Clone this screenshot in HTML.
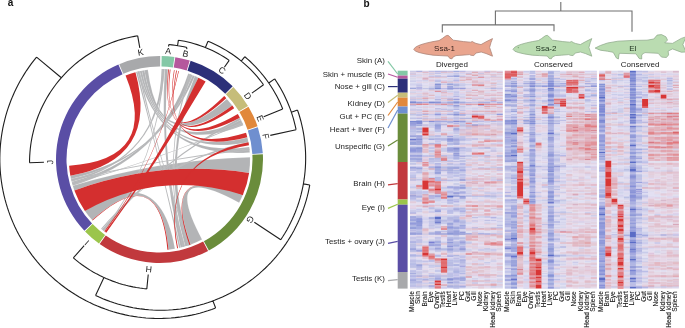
<!DOCTYPE html>
<html><head><meta charset="utf-8"><title>Figure</title>
<style>html,body{margin:0;padding:0;background:#fff;width:685px;height:328px;overflow:hidden}svg{display:block;filter:blur(0.3px)}</style>
</head><body>
<svg width="685" height="328" viewBox="0 0 685 328">
<style>
text{font-family:"Liberation Sans",Arial,Helvetica,sans-serif;fill:#333}
.lb{font-size:8.8px;text-anchor:middle;fill:#222}
.fl{font-size:8px;fill:#3a2520}
.fl2{font-size:8px;fill:#1e3320}
.cv{font-size:8px;fill:#1a1a1a}
.ll{font-size:7.9px;fill:#1e1e1e}
.xl{font-size:6.6px;fill:#1a1a1a;stroke:#1a1a1a;stroke-width:0.12px}
.pl{font-size:10px;font-weight:bold;fill:#111}
</style>
<rect width="685" height="328" fill="#fff"/>
<path d="M119.23 64.16 A103.5 103.5 0 0 1 160.22 56 L160.15 66.5 A93 93 0 0 0 123.31 73.83 Z" fill="#a8a9ab"/>
<path d="M161.67 56.02 A103.5 103.5 0 0 1 174.44 57.08 L172.93 67.47 A93 93 0 0 0 161.45 66.52 Z" fill="#84c8a6"/>
<path d="M175.33 57.22 A103.5 103.5 0 0 1 189.76 60.52 L186.69 70.56 A93 93 0 0 0 173.73 67.59 Z" fill="#b5579d"/>
<path d="M190.62 60.79 A103.5 103.5 0 0 1 232.69 86.31 L225.26 93.74 A93 93 0 0 0 187.47 70.8 Z" fill="#2c3079"/>
<path d="M233.32 86.96 A103.5 103.5 0 0 1 248.03 105.88 L239.05 111.32 A93 93 0 0 0 225.83 94.32 Z" fill="#c6bd79"/>
<path d="M248.49 106.66 A103.5 103.5 0 0 1 257.54 126.32 L247.59 129.68 A93 93 0 0 0 239.47 112.02 Z" fill="#e1883b"/>
<path d="M257.82 127.17 A103.5 103.5 0 0 1 262.82 153.36 L252.34 153.98 A93 93 0 0 0 247.85 130.45 Z" fill="#6f8fcf"/>
<path d="M262.87 154.26 A103.5 103.5 0 0 1 208.89 250.46 L203.88 241.23 A93 93 0 0 0 252.38 154.79 Z" fill="#6a8c3b"/>
<path d="M208.09 250.89 A103.5 103.5 0 0 1 99.69 243.97 L105.76 235.4 A93 93 0 0 0 203.16 241.61 Z" fill="#c1393d"/>
<path d="M98.96 243.45 A103.5 103.5 0 0 1 85.05 231.4 L92.6 224.1 A93 93 0 0 0 105.1 234.93 Z" fill="#9bc54b"/>
<path d="M84.42 230.74 A103.5 103.5 0 0 1 118.4 64.51 L122.57 74.15 A93 93 0 0 0 92.04 223.52 Z" fill="#5a4ea5"/>
<path d="M250.07 157.13 A90.6 90.6 0 0 1 249.1 172.89 Q159.5 159.5 74.36 190.49 A90.6 90.6 0 0 1 72.77 185.69 Q159.5 159.5 250.07 157.13 Z" fill="#b3b4b6" stroke="#fff" stroke-width="0.12"/>
<path d="M188.25 73.58 A90.6 90.6 0 0 1 192.71 75.2 Q159.5 159.5 72.77 185.69 A90.6 90.6 0 0 1 71.67 181.72 Q159.5 159.5 188.25 73.58 Z" fill="#b3b4b6" stroke="#fff" stroke-width="0.12"/>
<path d="M161.56 68.92 A90.6 90.6 0 0 1 164.72 69.05 Q159.5 159.5 71.67 181.72 A90.6 90.6 0 0 1 71.01 178.96 Q159.5 159.5 161.56 68.92 Z" fill="#b3b4b6" stroke="#fff" stroke-width="0.12"/>
<path d="M192.71 75.2 A90.6 90.6 0 0 1 194.9 76.1 Q159.5 159.5 71.01 178.96 A90.6 90.6 0 0 1 70.36 175.7 Q159.5 159.5 192.71 75.2 Z" fill="#b3b4b6" stroke="#fff" stroke-width="0.12"/>
<path d="M249.22 146.89 A90.6 90.6 0 0 1 249.82 152.39 Q159.5 159.5 137.58 71.59 A90.6 90.6 0 0 1 139.74 71.08 Q159.5 159.5 249.22 146.89 Z" fill="#b3b4b6" stroke="#fff" stroke-width="0.12"/>
<path d="M247.41 137.58 A90.6 90.6 0 0 1 248.44 142.21 Q159.5 159.5 139.74 71.08 A90.6 90.6 0 0 1 141.9 70.63 Q159.5 159.5 247.41 137.58 Z" fill="#b3b4b6" stroke="#fff" stroke-width="0.12"/>
<path d="M240.93 119.78 A90.6 90.6 0 0 1 243.38 125.27 Q159.5 159.5 141.9 70.63 A90.6 90.6 0 0 1 144.39 70.17 Q159.5 159.5 240.93 119.78 Z" fill="#b3b4b6" stroke="#fff" stroke-width="0.12"/>
<path d="M226.83 98.88 A90.6 90.6 0 0 1 232.33 105.61 Q159.5 159.5 144.39 70.17 A90.6 90.6 0 0 1 147.83 69.65 Q159.5 159.5 226.83 98.88 Z" fill="#b3b4b6" stroke="#fff" stroke-width="0.12"/>
<path d="M242.84 195.05 A90.6 90.6 0 0 1 239.12 202.73 Q159.5 159.5 202.03 239.5 A90.6 90.6 0 0 1 190.49 244.64 Q159.5 159.5 242.84 195.05 Z" fill="#b3b4b6" stroke="#fff" stroke-width="0.12"/>
<path d="M174.92 248.78 A90.6 90.6 0 0 1 168.5 249.65 Q159.5 159.5 92.17 220.12 A90.6 90.6 0 0 1 84.92 210.95 Q159.5 159.5 174.92 248.78 Z" fill="#b3b4b6" stroke="#fff" stroke-width="0.12"/>
<path d="M164.72 69.05 A90.6 90.6 0 0 1 167.87 69.29 Q159.5 159.5 185.23 246.37 A90.6 90.6 0 0 1 180.65 247.6 Q159.5 159.5 164.72 69.05 Z" fill="#b3b4b6" stroke="#fff" stroke-width="0.12"/>
<path d="M194.9 76.1 A90.6 90.6 0 0 1 198.36 77.66 Q159.5 159.5 190.49 244.64 A90.6 90.6 0 0 1 185.23 246.37 Q159.5 159.5 194.9 76.1 Z" fill="#b3b4b6" stroke="#fff" stroke-width="0.12"/>
<path d="M136.05 71.99 A90.6 90.6 0 0 1 137.58 71.59 Q159.5 159.5 180.65 247.6 A90.6 90.6 0 0 1 179.11 247.95 Q159.5 159.5 136.05 71.99 Z" fill="#b3b4b6" stroke="#fff" stroke-width="0.12"/>
<path d="M239.86 117.67 A90.6 90.6 0 0 1 240.93 119.78 Q159.5 159.5 103.97 231.09 A90.6 90.6 0 0 1 101.87 229.41 Q159.5 159.5 239.86 117.67 Z" fill="#b3b4b6" stroke="#fff" stroke-width="0.12"/>
<path d="M248.44 142.21 A90.6 90.6 0 0 1 248.86 144.55 Q159.5 159.5 101.87 229.41 A90.6 90.6 0 0 1 101.02 228.7 Q159.5 159.5 248.44 142.21 Z" fill="#b3b4b6" stroke="#fff" stroke-width="0.12"/>
<path d="M137.58 71.59 A90.6 90.6 0 0 1 139.12 71.22 Q159.5 159.5 189.74 244.9 A90.6 90.6 0 0 1 188.25 245.42 Q159.5 159.5 137.58 71.59 Z" fill="#b3b4b6" stroke="#fff" stroke-width="0.12"/>
<path d="M162.66 68.96 A90.6 90.6 0 0 1 164.24 69.02 Q159.5 159.5 103.72 230.89 A90.6 90.6 0 0 1 102.73 230.11 Q159.5 159.5 162.66 68.96 Z" fill="#b3b4b6" stroke="#fff" stroke-width="0.12"/>
<path d="M189.74 74.1 A90.6 90.6 0 0 1 191.23 74.64 Q159.5 159.5 184.47 246.59 A90.6 90.6 0 0 1 182.95 247.01 Q159.5 159.5 189.74 74.1 Z" fill="#b3b4b6" stroke="#fff" stroke-width="0.12"/>
<path d="M242.27 122.65 A90.6 90.6 0 0 1 242.9 124.1 Q159.5 159.5 72.41 184.47 A90.6 90.6 0 0 1 71.99 182.95 Q159.5 159.5 242.27 122.65 Z" fill="#b3b4b6" stroke="#fff" stroke-width="0.12"/>
<path d="M249.42 148.46 A90.6 90.6 0 0 1 249.6 150.03 Q159.5 159.5 71.4 180.65 A90.6 90.6 0 0 1 71.05 179.11 Q159.5 159.5 249.42 148.46 Z" fill="#b3b4b6" stroke="#fff" stroke-width="0.12"/>
<path d="M249.1 172.89 A90.6 90.6 0 0 1 242.84 195.05 Q160.46 169.07 84.92 210.95 A90.6 90.6 0 0 1 74.36 190.49 Q159.5 159.5 249.1 172.89 Z" fill="#d42f2f"/>
<path d="M70.36 175.7 A90.6 90.6 0 0 1 69.11 165.66 Q159.5 159.5 125.56 75.5 A90.6 90.6 0 0 1 135.44 72.15 Q159.5 159.5 70.36 175.7 Z" fill="#d42f2f"/>
<path d="M168.5 249.65 A90.6 90.6 0 0 1 167.4 249.76 Q159.5 159.5 92.6 220.59 A90.6 90.6 0 0 1 92.17 220.12 Q159.5 159.5 168.5 249.65 Z" fill="#d42f2f"/>
<path d="M198.36 77.66 A90.6 90.6 0 0 1 205.62 81.52 Q159.5 159.5 106.25 232.8 A90.6 90.6 0 0 1 104.98 231.86 Q159.5 159.5 198.36 77.66 Z" fill="#d42f2f"/>
<path d="M168.18 69.32 A90.6 90.6 0 0 1 168.97 69.4 Q159.5 159.5 224.23 96.11 A90.6 90.6 0 0 1 226.3 98.29 Q159.5 159.5 168.18 69.32 Z" fill="#d42f2f"/>
<path d="M169.76 69.48 A90.6 90.6 0 0 1 170.54 69.58 Q159.5 159.5 237.8 113.93 A90.6 90.6 0 0 1 239.86 117.67 Q159.5 159.5 169.76 69.48 Z" fill="#d42f2f"/>
<path d="M173.99 70.07 A90.6 90.6 0 0 1 174.61 70.17 Q159.5 159.5 246.05 132.71 A90.6 90.6 0 0 1 247.33 137.28 Q159.5 159.5 173.99 70.07 Z" fill="#d42f2f"/>
<path d="M176.17 70.45 A90.6 90.6 0 0 1 176.94 70.59 Q159.5 159.5 232.33 105.61 A90.6 90.6 0 0 1 234.17 108.18 Q159.5 159.5 176.17 70.45 Z" fill="#d42f2f"/>
<path d="M248.44 142.21 A90.6 90.6 0 0 1 248.98 145.33 Q159.5 159.5 178.03 248.19 A90.6 90.6 0 0 1 177.1 248.37 Q159.5 159.5 248.44 142.21 Z" fill="#d42f2f"/>
<path d="M178.34 70.88 A90.6 90.6 0 0 1 178.96 71.01 Q159.5 159.5 104.98 231.86 A90.6 90.6 0 0 1 104.22 231.28 Q159.5 159.5 178.34 70.88 Z" fill="#d42f2f"/>
<path d="M243.26 194.02 A90.6 90.6 0 0 1 242.84 195.05 Q159.5 159.5 190.49 244.64 A90.6 90.6 0 0 1 189.44 245.01 Q159.5 159.5 243.26 194.02 Z" fill="#d42f2f"/>
<path d="M168.75 44.57 L171.82 44.86 L174.88 45.23 L177.93 45.68 L180.97 46.22 L184 46.83 L187 47.53 M168.59 46.56 L168.75 44.57 M186.6 49.18 L187 47.53 M178.4 40.19 L181.59 40.71 L184.77 41.32 L187.93 42.02 L191.08 42.8 L194.2 43.67 L197.3 44.62 L200.37 45.65 L203.41 46.76 L206.43 47.96 L209.41 49.23 L212.36 50.59 L215.27 52.02 L218.14 53.54 L220.97 55.13 L223.75 56.79 L226.5 58.53 L229.19 60.34 M177.54 45.62 L178.4 40.19 M224.36 67.21 L229.19 60.34 M207.99 41.26 L211.13 42.58 L214.22 43.98 L217.28 45.46 L220.3 47.03 L223.28 48.67 L226.21 50.39 L229.1 52.19 L231.93 54.07 L234.72 56.02 L237.45 58.05 L240.13 60.15 L242.76 62.31 L245.32 64.55 L247.83 66.86 L250.27 69.23 L252.65 71.66 L254.96 74.16 L257.21 76.72 L259.38 79.34 L261.49 82.02 L263.53 84.75 M205.42 47.55 L207.99 41.26 M251.92 93.09 L263.53 84.75 M244.84 56.71 L247.58 59.08 L250.26 61.52 L252.87 64.04 L255.41 66.63 L257.88 69.28 L260.28 72 L262.6 74.78 L264.84 77.62 L267.01 80.53 L269.1 83.49 L271.1 86.5 L273.02 89.57 L274.86 92.69 L276.61 95.85 L278.28 99.07 L279.85 102.32 L281.34 105.62 L282.74 108.96 M241.24 61.05 L244.84 56.71 M263.68 116.77 L282.74 108.96 M274.67 78.86 L276.72 81.95 L278.68 85.11 L280.56 88.31 L282.35 91.55 L284.05 94.85 L285.67 98.18 L287.2 101.56 L288.63 104.97 L289.98 108.42 L291.23 111.9 L292.39 115.41 L293.46 118.95 L294.43 122.52 L295.31 126.11 L296.09 129.72 M268.76 83 L274.67 78.86 M270.3 135.34 L296.09 129.72 M297.52 110.08 L298.75 113.77 L299.88 117.49 L300.91 121.24 L301.84 125.01 L302.68 128.81 L303.41 132.62 L304.03 136.45 L304.56 140.3 L304.98 144.16 L305.31 148.02 L305.53 151.9 L305.64 155.78 L305.65 159.65 L305.56 163.53 L305.37 167.4 L305.08 171.26 L304.68 175.12 L304.18 178.96 L303.58 182.78 L302.88 186.59 L302.07 190.38 L301.17 194.14 L300.17 197.88 L299.07 201.59 L297.87 205.26 L296.58 208.9 L295.19 212.51 L293.7 216.08 L292.12 219.6 L290.45 223.09 L288.69 226.52 L286.83 229.91 L284.89 233.24 L282.86 236.53 L280.75 239.75 M291.36 112.29 L297.52 110.08 M254.31 222.26 L280.75 239.75 M146.81 288.88 L143.32 288.52 L139.84 288.07 L136.36 287.53 L132.91 286.89 L129.47 286.16 L126.05 285.34 L122.65 284.42 L119.28 283.41 L115.94 282.32 L112.62 281.13 L109.34 279.85 L106.09 278.48 L102.88 277.03 L99.71 275.48 L96.59 273.86 L93.5 272.15 L90.47 270.35 L87.48 268.48 L84.54 266.52 L81.66 264.48 L78.83 262.37 L76.06 260.18 L73.34 257.92 M148.23 274.45 L146.81 288.88 M84.15 245.58 L73.34 257.92 M309.77 184.92 L309.01 188.86 L308.16 192.78 L307.2 196.67 L306.14 200.54 L304.98 204.37 L303.72 208.18 L302.36 211.95 L300.9 215.68 L299.34 219.37 L297.69 223.02 L295.94 226.62 L294.1 230.17 L292.16 233.68 L290.14 237.13 L288.02 240.52 L285.82 243.86 L283.53 247.14 L281.15 250.36 L278.69 253.51 L276.15 256.59 L273.53 259.61 L270.83 262.55 L268.06 265.43 L265.21 268.23 L262.29 270.95 L259.3 273.59 L256.24 276.16 L253.12 278.64 L249.93 281.04 L246.68 283.35 L243.37 285.58 L240.01 287.71 L236.59 289.76 L233.12 291.72 L229.6 293.58 L226.03 295.35 L222.42 297.03 L218.76 298.61 L215.07 300.09 L211.34 301.48 L207.57 302.76 L203.77 303.95 L199.95 305.03 L196.09 306.02 L192.22 306.9 L188.32 307.68 L184.4 308.35 L180.47 308.93 L176.53 309.4 L172.57 309.76 L168.61 310.02 L164.64 310.18 L160.67 310.23 L156.7 310.18 L152.74 310.02 L148.78 309.76 L144.83 309.39 L140.9 308.92 L136.97 308.35 L133.07 307.68 L129.18 306.9 L125.32 306.02 L121.48 305.04 L117.67 303.95 L113.89 302.77 L110.15 301.49 L106.44 300.12 L102.77 298.64 L99.14 297.07 L95.55 295.41 M303.4 183.84 L309.77 184.92 M103.96 277.53 L95.55 295.41 M29.54 162.68 L29.58 159.26 L29.71 155.84 L29.94 152.43 L30.25 149.03 L30.65 145.65 L31.14 142.27 L31.72 138.91 L32.38 135.57 L33.14 132.26 L33.98 128.96 L34.9 125.69 L35.91 122.45 L37.01 119.24 L38.19 116.05 L39.45 112.91 L40.79 109.8 L42.21 106.72 L43.71 103.69 L45.29 100.7 L46.95 97.76 L48.69 94.86 L50.49 92.01 L52.38 89.21 L54.33 86.46 L56.35 83.77 L58.44 81.13 L60.6 78.55 L62.83 76.03 L65.12 73.57 L67.47 71.18 L69.88 68.85 L72.35 66.58 L74.88 64.38 L77.47 62.25 L80.1 60.19 L82.79 58.2 L85.53 56.28 L88.32 54.44 L91.15 52.67 L94.03 50.98 L96.94 49.37 L99.9 47.83 L102.9 46.37 L105.93 45 L108.99 43.7 L112.08 42.49 L115.21 41.36 L118.36 40.31 L121.53 39.35 L124.73 38.47 L127.94 37.68 L131.18 36.97 L134.43 36.34 L137.69 35.81 M43.93 162.32 L29.54 162.68 M139.81 47.82 L137.69 35.81 M215.63 308.05 L211.71 309.48 L207.76 310.81 L203.77 312.04 L199.76 313.16 L195.71 314.18 L191.64 315.09 L187.54 315.89 L183.43 316.58 L179.29 317.17 L175.15 317.65 L170.99 318.02 L166.82 318.28 L162.65 318.42 L158.47 318.46 L154.3 318.39 L150.13 318.22 L145.96 317.93 L141.8 317.53 L137.66 317.02 L133.52 316.4 L129.41 315.68 L125.32 314.85 L121.25 313.91 L117.2 312.86 L113.18 311.71 L109.2 310.45 L105.25 309.09 L101.33 307.62 L97.46 306.06 L93.62 304.39 L89.84 302.62 L86.1 300.75 L82.41 298.78 L78.77 296.72 L75.19 294.56 L71.66 292.31 L68.2 289.97 L64.79 287.54 L61.46 285.01 L58.19 282.4 L54.98 279.71 L51.86 276.93 L48.8 274.07 L45.82 271.13 L42.92 268.12 L40.1 265.03 L37.36 261.86 L34.7 258.63 L32.13 255.32 L29.65 251.95 L27.26 248.52 L24.95 245.02 L22.74 241.46 L20.63 237.85 L18.61 234.18 L16.68 230.46 L14.86 226.69 L13.13 222.87 L11.51 219.01 L9.98 215.1 L8.56 211.16 L7.25 207.18 L6.04 203.17 L4.93 199.13 L3.93 195.06 L3.04 190.96 L2.26 186.84 L1.58 182.71 L1.01 178.55 L0.56 174.38 L0.21 170.21 L-0.03 166.02 L-0.16 161.83 L-0.18 157.63 L-0.08 153.44 L0.12 149.25 L0.43 145.07 L0.85 140.89 L1.38 136.73 L2.02 132.58 L2.77 128.45 L3.63 124.34 L4.6 120.26 L5.67 116.2 L6.85 112.17 L8.13 108.18 L9.52 104.21 L11.01 100.29 L12.61 96.41 L14.31 92.56 L16.1 88.77 L18 85.02 L19.99 81.33 L22.09 77.68 L24.27 74.09 L26.55 70.57 L28.92 67.1 L31.39 63.69 L33.94 60.35 L36.57 57.08 M212.93 300.9 L215.63 308.05 M61.33 77.71 L36.57 57.08" fill="none" stroke="#1e1e1e" stroke-width="1.1" stroke-linejoin="miter"/>
<text x="168.24" y="54.05" transform="rotate(4.6 168.24 50.85)" class="lb">A</text>
<text x="185.5" y="56.85" transform="rotate(13.8 185.5 53.65)" class="lb">B</text>
<text x="222.18" y="73.52" transform="rotate(35.1 222.18 70.32)" class="lb">C</text>
<text x="248.02" y="99.09" transform="rotate(54.3 248.02 95.89)" class="lb">D</text>
<text x="260.35" y="121.34" transform="rotate(67.7 260.35 118.14)" class="lb">E</text>
<text x="266" y="139.48" transform="rotate(77.7 266 136.28)" class="lb">F</text>
<text x="250.39" y="222.86" transform="rotate(123.5 250.39 219.66)" class="lb">G</text>
<text x="148.72" y="272.67" transform="rotate(185.6 148.72 269.47)" class="lb">H</text>
<text x="86.65" y="245.92" transform="rotate(221.2 86.65 242.72)" class="lb">I</text>
<text x="49.93" y="165.38" transform="rotate(268.6 49.93 162.18)" class="lb">J</text>
<text x="140.57" y="55.36" transform="rotate(350 140.57 52.16)" class="lb">K</text>
<path d="M560.8 2V11M495.4 24.9V11H632V31.8M442.3 32.4V24.9H554V31.3" fill="none" stroke="#707070" stroke-width="1.1"/>
<path d="M413.7 49.3 415.5 47.2 418.5 45.6 422.0 44.3 427.0 42.9 433.0 41.6 439.0 40.6 442.2 38.6 446.0 35.8 448.0 35.3 450.0 37.0 453.2 40.2 458.0 40.8 463.5 41.6 470.5 42.2 472.4 41.5 474.0 42.6 476.0 43.4 481.0 44.6 486.0 41.8 492.5 38.6 491.0 42.5 489.6 47.4 491.0 51.5 492.5 56.2 486.0 53.5 481.2 52.0 476.0 53.0 473.8 55.6 471.0 55.3 469.5 54.6 462.0 55.2 456.0 55.6 453.2 56.9 452.0 58.8 449.8 58.4 448.0 56.0 440.0 55.6 433.0 55.2 425.0 53.9 419.0 52.5 415.5 51.2Z" fill="#e9a58e" stroke="#a98276" stroke-width="0.75" stroke-linejoin="round"/>
<path d="M513.0 49.3 514.8 47.2 517.8 45.6 521.3 44.3 526.3 42.9 532.3 41.6 538.3 40.6 541.5 38.6 545.3 35.8 547.3 35.3 549.3 37.0 552.5 40.2 557.3 40.8 562.8 41.6 569.8 42.2 571.7 41.5 573.3 42.6 575.3 43.4 580.3 44.6 585.3 41.8 591.8 38.6 590.3 42.5 588.9 47.4 590.3 51.5 591.8 56.2 585.3 53.5 580.5 52.0 575.3 53.0 573.1 55.6 570.3 55.3 568.8 54.6 561.3 55.2 555.3 55.6 552.5 56.9 551.3 58.8 549.1 58.4 547.3 56.0 539.3 55.6 532.3 55.2 524.3 53.9 518.3 52.5 514.8 51.2Z" fill="#badcb1" stroke="#8fa98b" stroke-width="0.75" stroke-linejoin="round"/>
<path d="M595.1 48.1 600.3 45.5 607.5 43.0 617.9 41.2 633.5 40.4 647.0 40.2 653.8 39.0 657.1 35.1 661.5 34.6 665.9 36.8 667.5 40.1 664.8 42.8 672.5 43.4 681.3 38.4 686.0 36.8 682.9 44.5 686.0 52.0 681.3 52.2 672.5 48.9 668.1 51.1 668.6 54.9 666.4 57.5 661.5 57.1 658.2 53.3 645.0 52.6 643.3 53.6 641.7 54.9 641.7 59.0 639.2 58.5 636.0 53.8 619.5 53.3 618.9 54.9 618.4 59.0 616.4 58.0 613.2 52.3 607.5 51.2 600.3 50.2Z" fill="#badcb1" stroke="#8fa98b" stroke-width="0.75" stroke-linejoin="round"/>
<circle cx="419.3" cy="47.6" r="0.6" fill="#a0706a"/>
<circle cx="518.3" cy="47.6" r="0.6" fill="#6f9a6c"/>
<text x="444.5" y="50.8" class="fl" text-anchor="middle">Ssa-1</text>
<text x="546" y="50.8" class="fl2" text-anchor="middle">Ssa-2</text>
<text x="632.7" y="50.8" class="fl2" text-anchor="middle">El</text>
<text x="451.9" y="67" class="cv" text-anchor="middle">Diverged</text>
<text x="553.4" y="67" class="cv" text-anchor="middle">Conserved</text>
<text x="640.1" y="67" class="cv" text-anchor="middle">Conserved</text>
<rect x="397.7" y="70.7" width="9.9" height="4.90" fill="#84c8a6"/>
<rect x="397.7" y="75.6" width="9.9" height="3.10" fill="#b5579d"/>
<rect x="397.7" y="78.7" width="9.9" height="14.00" fill="#2c3079"/>
<rect x="397.7" y="92.7" width="9.9" height="4.90" fill="#c6bd79"/>
<rect x="397.7" y="97.6" width="9.9" height="8.90" fill="#e1883b"/>
<rect x="397.7" y="106.5" width="9.9" height="7.10" fill="#6f8fcf"/>
<rect x="397.7" y="113.6" width="9.9" height="48.40" fill="#6a8c3b"/>
<rect x="397.7" y="162.0" width="9.9" height="37.50" fill="#c1393d"/>
<rect x="397.7" y="199.5" width="9.9" height="5.20" fill="#9bc54b"/>
<rect x="397.7" y="204.7" width="9.9" height="67.30" fill="#5a4ea5"/>
<rect x="397.7" y="272.0" width="9.9" height="16.60" fill="#a8a9ab"/>
<text x="384.9" y="63.4" class="ll" text-anchor="end">Skin (A)</text>
<path d="M388 61.4 L397.7 74.0" stroke="#84c8a6" stroke-width="1.2"/>
<text x="384.9" y="77.4" class="ll" text-anchor="end">Skin + muscle (B)</text>
<path d="M388 74.0 L397.7 77.2" stroke="#b5579d" stroke-width="1.2"/>
<text x="384.9" y="89.3" class="ll" text-anchor="end">Nose + gill (C)</text>
<path d="M388 86.6 L397.7 86.6" stroke="#2c3079" stroke-width="1.2"/>
<text x="384.9" y="106.0" class="ll" text-anchor="end">Kidney (D)</text>
<path d="M388 102.6 L397.7 95.2" stroke="#c6bd79" stroke-width="1.2"/>
<text x="384.9" y="119.0" class="ll" text-anchor="end">Gut + PC (E)</text>
<path d="M388 115.5 L397.7 102.0" stroke="#e1883b" stroke-width="1.2"/>
<text x="384.9" y="131.5" class="ll" text-anchor="end">Heart + liver (F)</text>
<path d="M388 128.0 L397.7 110.0" stroke="#6f8fcf" stroke-width="1.2"/>
<text x="384.9" y="148.8" class="ll" text-anchor="end">Unspecific (G)</text>
<path d="M388 146.0 L397.7 140.0" stroke="#6a8c3b" stroke-width="1.2"/>
<text x="384.9" y="185.6" class="ll" text-anchor="end">Brain (H)</text>
<path d="M388 184.8 L397.7 183.7" stroke="#c1393d" stroke-width="1.2"/>
<text x="384.9" y="209.8" class="ll" text-anchor="end">Eye (I)</text>
<path d="M388 208.4 L397.7 204.3" stroke="#9bc54b" stroke-width="1.2"/>
<text x="384.9" y="243.6" class="ll" text-anchor="end">Testis + ovary (J)</text>
<path d="M388 243.4 L397.7 241.3" stroke="#5a4ea5" stroke-width="1.2"/>
<text x="384.9" y="281.3" class="ll" text-anchor="end">Testis (K)</text>
<path d="M388 280.6 L397.7 279.6" stroke="#a8a9ab" stroke-width="1.2"/>
<g transform="translate(410.00 70.70) scale(6.1867 0.9986)"><path fill="#b4bae4" d="M0 0h1v1h-1zM0 117h1v1h-1zM0 186h1v1h-1zM0 212h1v1h-1zM1 39h1v1h-1zM1 56h1v1h-1zM1 76h1v1h-1zM1 140h1v1h-1zM1 209h1v1h-1zM2 134h1v1h-1zM3 52h1v1h-1zM3 99h1v1h-1zM3 217h1v1h-1zM4 51h1v1h-1zM4 130h1v1h-1zM5 47h1v1h-1zM5 65h1v1h-1zM5 215h1v1h-1zM6 84h1v1h-1zM6 200h1v1h-1zM7 136h1v1h-1zM7 166h1v1h-1zM8 14h1v1h-1zM8 168h1v1h-1zM8 174h1v1h-1zM8 202h1v1h-1zM8 206h1v1h-1zM9 2h1v1h-1zM9 34h1v1h-1zM9 73h1v1h-1zM10 126h1v1h-1zM11 2h1v1h-1zM11 157h1v1h-1zM12 17h1v1h-1zM12 97h1v1h-1zM13 138h1v1h-1zM14 80h1v1h-1z"/><path fill="#deccde" d="M0 1h1v1h-1zM0 23h1v1h-1zM0 118h1v1h-1zM1 3h1v1h-1zM1 24h1v1h-1zM1 46h1v1h-1zM1 165h1v1h-1zM2 4h1v1h-1zM2 11h1v1h-1zM2 97h1v1h-1zM2 144h1v1h-1zM2 161h1v1h-1zM2 168h1v1h-1zM3 22h1v1h-1zM3 41h1v1h-1zM3 103h1v1h-1zM3 166h1v1h-1zM4 7h1v1h-1zM5 3h1v1h-1zM5 15h1v1h-1zM5 22h1v2h-1zM5 36h1v1h-1zM5 75h1v1h-1zM5 100h1v1h-1zM5 162h1v1h-1zM5 185h1v2h-1zM6 8h1v1h-1zM6 83h1v1h-1zM6 183h1v1h-1zM7 49h1v1h-1zM7 214h1v1h-1zM8 7h1v1h-1zM8 21h1v1h-1zM8 45h1v1h-1zM8 74h1v1h-1zM8 86h1v1h-1zM9 22h1v1h-1zM9 29h1v1h-1zM9 39h1v1h-1zM9 48h1v1h-1zM9 81h1v1h-1zM9 101h1v1h-1zM9 136h1v1h-1zM9 143h1v2h-1zM9 177h1v1h-1zM9 189h1v1h-1zM10 2h1v1h-1zM10 15h1v1h-1zM10 29h1v1h-1zM10 41h1v1h-1zM10 53h1v1h-1zM10 67h1v1h-1zM10 188h1v1h-1zM10 198h1v1h-1zM11 9h1v1h-1zM11 17h1v1h-1zM11 19h1v1h-1zM11 25h1v1h-1zM11 29h1v1h-1zM11 35h1v1h-1zM11 132h1v1h-1zM11 148h1v1h-1zM11 151h1v1h-1zM11 168h1v1h-1zM11 192h1v1h-1zM12 15h1v2h-1zM12 19h1v1h-1zM12 22h1v2h-1zM12 25h1v1h-1zM12 59h1v1h-1zM12 142h1v1h-1zM12 145h1v1h-1zM12 166h1v2h-1zM12 169h1v1h-1zM12 197h1v1h-1zM13 11h1v1h-1zM13 15h1v1h-1zM13 22h1v1h-1zM13 45h1v1h-1zM13 71h1v1h-1zM13 76h1v1h-1zM13 79h1v1h-1zM13 94h1v1h-1zM13 103h1v1h-1zM13 156h1v1h-1zM13 159h1v1h-1zM13 168h1v1h-1zM13 176h1v1h-1zM13 193h1v1h-1zM13 199h1v1h-1zM13 201h1v1h-1zM14 11h1v1h-1zM14 62h1v1h-1zM14 92h1v1h-1zM14 113h1v1h-1zM14 142h1v1h-1zM14 177h1v1h-1zM14 179h1v1h-1zM14 181h1v1h-1zM14 185h1v1h-1zM14 188h1v1h-1zM14 195h1v1h-1zM14 206h1v1h-1z"/><path fill="#c0c0e4" d="M0 2h1v1h-1zM0 5h1v1h-1zM0 26h1v1h-1zM0 38h1v1h-1zM0 55h1v1h-1zM0 74h1v1h-1zM0 92h1v1h-1zM0 106h1v1h-1zM0 120h1v1h-1zM0 168h1v1h-1zM0 170h1v1h-1zM0 177h1v1h-1zM0 181h1v1h-1zM0 195h1v1h-1zM0 217h1v1h-1zM1 25h1v1h-1zM1 36h1v1h-1zM1 38h1v1h-1zM1 57h1v1h-1zM1 75h1v1h-1zM1 89h1v1h-1zM1 127h1v1h-1zM1 168h1v1h-1zM1 175h1v1h-1zM1 197h1v1h-1zM1 212h1v1h-1zM2 9h1v1h-1zM2 25h1v1h-1zM2 28h1v1h-1zM2 138h1v1h-1zM2 216h1v1h-1zM3 2h1v1h-1zM3 78h1v1h-1zM3 102h1v1h-1zM3 146h1v1h-1zM3 149h1v1h-1zM3 161h1v1h-1zM3 192h1v1h-1zM3 211h1v1h-1zM3 216h1v1h-1zM4 34h1v1h-1zM4 37h1v2h-1zM4 41h1v1h-1zM4 92h1v1h-1zM4 129h1v1h-1zM4 134h1v1h-1zM4 192h1v1h-1zM4 206h1v1h-1zM5 20h1v1h-1zM5 25h1v1h-1zM5 34h1v1h-1zM5 51h1v1h-1zM5 67h1v1h-1zM5 101h1v1h-1zM5 105h1v1h-1zM5 145h1v1h-1zM5 160h1v2h-1zM5 172h1v1h-1zM5 211h1v1h-1zM6 12h1v1h-1zM6 52h1v1h-1zM6 91h1v1h-1zM6 95h1v1h-1zM6 106h1v1h-1zM6 136h1v1h-1zM6 158h1v1h-1zM6 164h1v1h-1zM6 166h1v1h-1zM6 182h1v1h-1zM6 193h1v1h-1zM7 20h1v1h-1zM7 42h1v1h-1zM7 57h1v1h-1zM7 64h1v1h-1zM7 90h1v2h-1zM7 103h1v1h-1zM7 115h1v1h-1zM7 155h1v1h-1zM7 164h1v2h-1zM7 170h1v1h-1zM7 176h1v1h-1zM7 184h1v1h-1zM7 192h1v1h-1zM8 13h1v1h-1zM8 18h1v1h-1zM8 52h1v1h-1zM8 67h1v1h-1zM8 70h1v1h-1zM8 87h1v2h-1zM8 91h1v1h-1zM8 129h1v1h-1zM8 169h1v2h-1zM8 188h1v1h-1zM8 211h1v1h-1zM9 13h1v1h-1zM9 17h1v1h-1zM9 152h1v1h-1zM9 215h1v1h-1zM10 28h1v1h-1zM10 51h1v1h-1zM10 56h1v1h-1zM10 73h1v1h-1zM10 96h1v1h-1zM10 146h1v2h-1zM10 178h1v1h-1zM11 52h1v1h-1zM11 65h1v1h-1zM11 68h1v1h-1zM11 215h1v1h-1zM12 43h1v1h-1zM12 82h1v1h-1zM12 84h1v1h-1zM12 87h1v1h-1zM12 99h1v1h-1zM12 122h1v1h-1zM12 127h1v1h-1zM12 149h1v2h-1zM12 157h1v1h-1zM13 28h1v1h-1zM13 52h1v1h-1zM13 54h1v1h-1zM13 65h1v1h-1zM13 68h1v1h-1zM13 178h1v1h-1zM13 215h1v1h-1zM14 65h1v1h-1zM14 68h1v1h-1zM14 154h1v2h-1zM14 213h1v1h-1zM14 216h1v1h-1z"/><path fill="#d8b4c6" d="M0 3h1v1h-1zM2 55h1v1h-1zM2 78h1v1h-1zM2 98h1v1h-1zM2 101h1v1h-1zM2 160h1v1h-1zM2 164h1v1h-1zM2 201h1v1h-1zM2 214h1v1h-1zM4 6h1v1h-1zM4 49h1v1h-1zM4 135h1v1h-1zM5 111h1v1h-1zM6 27h1v1h-1zM6 48h1v1h-1zM8 146h1v1h-1zM8 148h1v1h-1zM9 57h1v1h-1zM9 74h1v1h-1zM9 111h1v2h-1zM9 142h1v1h-1zM9 167h1v1h-1zM9 173h1v1h-1zM9 175h1v1h-1zM9 188h1v1h-1zM9 193h1v1h-1zM9 198h1v1h-1zM10 6h1v1h-1zM10 21h1v1h-1zM10 94h1v1h-1zM10 110h1v1h-1zM10 112h1v2h-1zM10 115h1v1h-1zM10 159h1v1h-1zM10 168h1v1h-1zM10 176h1v1h-1zM10 202h1v1h-1zM11 3h1v1h-1zM11 11h1v1h-1zM11 15h1v1h-1zM11 111h1v1h-1zM11 120h1v1h-1zM11 199h1v1h-1zM12 3h1v1h-1zM12 53h1v1h-1zM12 75h1v1h-1zM12 94h1v1h-1zM12 170h1v1h-1zM13 3h1v1h-1zM13 41h1v1h-1zM13 92h1v1h-1zM13 100h1v1h-1zM13 106h1v1h-1zM13 113h1v1h-1zM13 137h1v1h-1zM13 171h1v1h-1zM13 181h1v1h-1zM14 63h1v1h-1zM14 69h1v1h-1zM14 83h1v1h-1zM14 139h1v1h-1zM14 144h1v1h-1zM14 164h1v1h-1zM14 187h1v1h-1z"/><path fill="#ccccea" d="M0 4h1v1h-1zM0 25h1v1h-1zM0 103h1v1h-1zM0 130h1v1h-1zM0 141h1v1h-1zM0 191h1v1h-1zM0 204h1v1h-1zM0 214h1v1h-1zM1 4h1v1h-1zM1 12h1v1h-1zM1 23h1v1h-1zM1 26h1v1h-1zM1 59h1v1h-1zM1 103h1v1h-1zM1 111h1v1h-1zM1 120h1v1h-1zM1 134h1v1h-1zM1 143h1v1h-1zM1 188h1v1h-1zM2 0h1v1h-1zM2 35h1v1h-1zM2 38h1v1h-1zM2 139h1v1h-1zM2 146h1v1h-1zM2 155h1v1h-1zM2 170h1v1h-1zM3 30h1v1h-1zM3 39h1v1h-1zM3 44h1v1h-1zM3 70h1v1h-1zM3 81h1v1h-1zM3 84h1v1h-1zM3 91h1v3h-1zM3 106h1v1h-1zM3 189h1v1h-1zM3 195h1v1h-1zM3 200h1v1h-1zM4 12h1v1h-1zM4 21h1v1h-1zM4 29h1v1h-1zM4 42h1v1h-1zM4 62h1v1h-1zM4 66h1v1h-1zM4 110h1v1h-1zM4 132h1v1h-1zM4 166h1v1h-1zM4 186h1v1h-1zM4 196h1v1h-1zM5 2h1v1h-1zM5 28h1v1h-1zM5 30h1v1h-1zM5 56h1v1h-1zM5 66h1v1h-1zM5 84h1v1h-1zM5 116h1v1h-1zM5 128h1v1h-1zM5 134h1v1h-1zM5 148h1v1h-1zM5 151h1v1h-1zM5 159h1v1h-1zM5 176h1v1h-1zM6 2h1v1h-1zM6 4h1v1h-1zM6 7h1v1h-1zM6 25h1v1h-1zM6 53h1v1h-1zM6 60h1v1h-1zM6 63h1v1h-1zM6 76h1v1h-1zM6 94h1v1h-1zM6 104h1v1h-1zM6 119h1v1h-1zM6 124h1v1h-1zM6 134h1v1h-1zM6 151h1v1h-1zM6 201h1v1h-1zM6 204h1v1h-1zM6 206h1v1h-1zM6 217h1v1h-1zM7 3h1v1h-1zM7 8h1v1h-1zM7 12h1v1h-1zM7 29h1v1h-1zM7 37h1v1h-1zM7 66h1v1h-1zM7 132h1v1h-1zM7 142h1v1h-1zM7 158h1v1h-1zM7 196h1v2h-1zM8 25h1v1h-1zM8 28h1v1h-1zM8 94h1v1h-1zM8 110h1v1h-1zM8 113h1v1h-1zM8 156h1v1h-1zM8 184h1v1h-1zM8 199h1v1h-1zM8 210h1v1h-1zM8 217h1v1h-1zM9 32h1v1h-1zM9 37h1v1h-1zM9 69h1v2h-1zM9 72h1v1h-1zM9 84h1v1h-1zM9 91h1v1h-1zM9 151h1v1h-1zM9 153h1v1h-1zM9 184h1v1h-1zM9 192h1v1h-1zM9 211h1v1h-1zM10 32h1v1h-1zM10 93h1v1h-1zM10 105h1v1h-1zM10 117h1v1h-1zM10 152h1v1h-1zM10 175h1v1h-1zM10 205h1v1h-1zM11 12h1v1h-1zM11 26h1v1h-1zM11 32h1v1h-1zM11 78h1v1h-1zM11 88h1v1h-1zM11 99h1v1h-1zM11 103h1v1h-1zM11 109h1v1h-1zM11 126h1v1h-1zM11 134h1v1h-1zM11 139h1v1h-1zM11 145h1v1h-1zM11 172h1v1h-1zM11 185h1v1h-1zM11 189h1v1h-1zM11 203h1v1h-1zM12 9h1v1h-1zM12 34h1v1h-1zM12 73h1v1h-1zM12 88h1v1h-1zM12 96h1v1h-1zM12 132h1v1h-1zM13 26h1v1h-1zM13 90h1v1h-1zM13 93h1v1h-1zM13 140h1v1h-1zM13 152h1v1h-1zM13 162h1v1h-1zM13 180h1v1h-1zM13 211h1v1h-1zM14 18h1v1h-1zM14 71h1v1h-1zM14 90h1v1h-1zM14 96h1v1h-1zM14 107h1v1h-1zM14 121h1v2h-1zM14 145h1v1h-1zM14 151h1v1h-1zM14 153h1v1h-1zM14 194h1v1h-1zM14 201h1v1h-1zM14 215h1v1h-1z"/><path fill="#ded2e4" d="M0 6h1v1h-1zM0 94h1v1h-1zM0 98h1v1h-1zM1 124h1v1h-1zM1 128h1v1h-1zM1 193h1v1h-1zM1 204h1v1h-1zM2 53h1v1h-1zM2 105h1v1h-1zM2 140h1v1h-1zM2 145h1v1h-1zM2 167h1v1h-1zM2 169h1v1h-1zM2 186h1v1h-1zM2 196h1v1h-1zM3 12h1v1h-1zM3 14h1v1h-1zM3 20h1v1h-1zM3 160h1v1h-1zM3 197h1v1h-1zM3 210h1v1h-1zM4 131h1v1h-1zM5 14h1v1h-1zM5 45h1v1h-1zM5 81h1v1h-1zM5 91h1v2h-1zM5 95h1v1h-1zM5 143h1v1h-1zM5 157h1v1h-1zM5 210h1v1h-1zM5 216h1v1h-1zM6 112h1v1h-1zM7 1h1v1h-1zM7 124h1v1h-1zM7 144h1v1h-1zM8 3h1v1h-1zM8 46h1v1h-1zM8 143h1v1h-1zM8 164h1v1h-1zM9 25h1v1h-1zM9 35h1v1h-1zM9 49h1v1h-1zM9 76h1v1h-1zM9 95h1v1h-1zM9 103h1v1h-1zM9 118h1v1h-1zM9 122h1v1h-1zM9 126h1v1h-1zM9 159h1v2h-1zM9 170h1v1h-1zM9 174h1v1h-1zM9 190h1v1h-1zM9 216h1v1h-1zM10 30h1v1h-1zM10 34h1v1h-1zM10 36h1v1h-1zM10 66h1v1h-1zM10 70h1v1h-1zM10 76h1v1h-1zM10 91h1v1h-1zM10 95h1v1h-1zM10 100h1v1h-1zM10 121h1v1h-1zM10 134h1v1h-1zM10 137h1v1h-1zM10 170h1v1h-1zM10 179h1v1h-1zM10 184h1v1h-1zM10 211h1v1h-1zM10 215h1v1h-1zM11 36h1v2h-1zM11 39h1v1h-1zM11 41h1v1h-1zM11 70h1v1h-1zM11 127h1v1h-1zM11 136h1v1h-1zM12 14h1v1h-1zM12 67h1v1h-1zM12 137h1v1h-1zM12 199h1v1h-1zM12 202h1v2h-1zM12 217h1v1h-1zM13 7h1v1h-1zM13 21h1v1h-1zM13 36h1v1h-1zM13 62h1v1h-1zM13 67h1v1h-1zM13 114h1v1h-1zM13 136h1v1h-1zM13 142h1v1h-1zM13 161h1v1h-1zM13 166h1v1h-1zM13 170h1v1h-1zM13 188h1v2h-1zM13 217h1v1h-1zM14 4h1v1h-1zM14 7h1v1h-1zM14 26h1v1h-1zM14 67h1v1h-1zM14 81h1v1h-1zM14 93h1v1h-1zM14 114h1v1h-1zM14 160h1v1h-1zM14 168h1v1h-1zM14 176h1v1h-1zM14 186h1v1h-1z"/><path fill="#d8d8ea" d="M0 7h1v2h-1zM0 24h1v1h-1zM0 48h1v1h-1zM0 59h1v1h-1zM0 111h1v1h-1zM1 112h1v1h-1zM1 177h1v1h-1zM2 15h1v1h-1zM2 34h1v1h-1zM2 44h1v1h-1zM2 51h1v1h-1zM2 119h1v1h-1zM3 28h1v1h-1zM3 139h1v1h-1zM3 176h1v1h-1zM4 46h1v1h-1zM4 168h1v1h-1zM5 7h1v1h-1zM5 137h1v1h-1zM6 111h1v1h-1zM7 6h1v1h-1zM7 63h1v1h-1zM7 112h1v1h-1zM7 189h1v1h-1zM8 83h1v1h-1zM8 134h1v1h-1zM9 86h1v1h-1zM9 116h1v1h-1zM9 161h1v1h-1zM9 194h1v1h-1zM10 88h1v1h-1zM10 116h1v1h-1zM10 123h1v1h-1zM10 143h1v1h-1zM11 60h1v1h-1zM12 102h1v1h-1zM12 105h1v1h-1zM12 195h1v1h-1zM12 207h1v1h-1zM13 25h1v1h-1zM13 102h1v1h-1zM13 116h1v1h-1zM14 12h1v1h-1zM14 101h1v1h-1zM14 200h1v1h-1zM14 203h1v1h-1z"/><path fill="#d2d2ea" d="M0 9h1v1h-1zM0 12h1v1h-1zM0 41h1v1h-1zM0 46h1v1h-1zM0 89h1v1h-1zM0 91h1v1h-1zM0 139h1v1h-1zM0 197h1v1h-1zM0 199h1v1h-1zM1 5h1v1h-1zM1 34h1v1h-1zM1 113h1v2h-1zM1 118h1v1h-1zM1 131h1v1h-1zM1 137h1v1h-1zM1 189h1v1h-1zM1 191h1v1h-1zM2 2h1v1h-1zM2 10h1v1h-1zM2 14h1v1h-1zM2 18h1v1h-1zM2 37h1v1h-1zM2 65h1v1h-1zM2 83h1v1h-1zM2 99h1v2h-1zM2 122h1v1h-1zM2 149h1v1h-1zM2 153h1v1h-1zM2 213h1v1h-1zM3 11h1v1h-1zM3 16h1v1h-1zM3 34h1v1h-1zM3 58h1v1h-1zM3 79h1v1h-1zM3 87h1v1h-1zM3 123h1v1h-1zM3 156h1v1h-1zM3 213h1v1h-1zM4 11h1v1h-1zM4 19h1v1h-1zM4 23h1v1h-1zM4 35h1v1h-1zM4 61h1v1h-1zM4 98h1v1h-1zM4 106h1v1h-1zM4 133h1v1h-1zM4 159h1v1h-1zM4 181h1v1h-1zM4 199h1v1h-1zM4 202h1v1h-1zM5 12h1v1h-1zM5 39h1v1h-1zM5 60h1v1h-1zM5 118h1v1h-1zM5 175h1v1h-1zM5 177h1v1h-1zM5 180h1v1h-1zM5 202h1v1h-1zM6 133h1v1h-1zM6 186h1v1h-1zM7 24h1v1h-1zM7 33h1v1h-1zM7 40h1v1h-1zM7 45h1v1h-1zM7 74h1v1h-1zM7 108h1v1h-1zM7 120h1v1h-1zM7 141h1v1h-1zM7 169h1v1h-1zM7 193h1v1h-1zM8 10h1v1h-1zM8 24h1v1h-1zM8 30h1v1h-1zM8 34h1v1h-1zM8 89h1v1h-1zM8 98h1v1h-1zM8 160h1v1h-1zM8 166h1v1h-1zM8 182h1v1h-1zM8 193h1v1h-1zM9 5h1v1h-1zM9 14h1v1h-1zM9 44h1v1h-1zM9 82h1v1h-1zM9 93h1v1h-1zM9 129h1v1h-1zM9 149h1v1h-1zM9 178h1v2h-1zM9 185h1v1h-1zM9 207h1v1h-1zM10 0h1v1h-1zM10 5h1v1h-1zM10 69h1v1h-1zM10 101h1v1h-1zM10 132h1v1h-1zM10 189h1v1h-1zM10 194h1v1h-1zM10 207h1v2h-1zM11 7h1v1h-1zM11 16h1v1h-1zM11 38h1v1h-1zM11 51h1v1h-1zM11 86h1v1h-1zM11 95h1v1h-1zM11 101h1v1h-1zM11 129h1v1h-1zM11 180h1v1h-1zM11 209h1v1h-1zM11 213h1v1h-1zM12 21h1v1h-1zM12 30h1v1h-1zM12 66h1v1h-1zM12 78h1v1h-1zM12 91h1v1h-1zM12 107h1v1h-1zM12 109h1v1h-1zM12 134h1v1h-1zM12 160h1v1h-1zM12 162h1v1h-1zM12 179h1v1h-1zM12 191h1v1h-1zM12 211h1v2h-1zM13 20h1v1h-1zM13 58h1v1h-1zM13 91h1v1h-1zM13 99h1v1h-1zM13 104h1v1h-1zM13 154h1v1h-1zM13 167h1v1h-1zM13 185h1v1h-1zM13 191h1v1h-1zM13 194h1v1h-1zM13 207h1v1h-1zM14 5h1v1h-1zM14 9h1v1h-1zM14 51h1v1h-1zM14 56h1v1h-1zM14 152h1v1h-1zM14 156h1v1h-1zM14 190h1v1h-1zM14 211h1v2h-1z"/><path fill="#babae4" d="M0 10h1v1h-1zM0 39h1v1h-1zM0 66h1v1h-1zM0 82h1v1h-1zM0 129h1v1h-1zM0 159h1v2h-1zM0 169h1v1h-1zM0 173h1v1h-1zM0 175h1v1h-1zM0 201h1v1h-1zM0 206h1v1h-1zM0 210h1v1h-1zM1 41h1v1h-1zM1 49h1v1h-1zM1 86h1v1h-1zM1 91h1v1h-1zM1 98h1v1h-1zM1 129h1v1h-1zM1 141h1v1h-1zM1 160h1v1h-1zM1 172h1v1h-1zM1 192h1v1h-1zM1 199h1v1h-1zM1 210h1v1h-1zM2 148h1v1h-1zM2 151h1v1h-1zM2 157h1v1h-1zM2 191h1v1h-1zM2 208h1v1h-1zM3 43h1v1h-1zM3 47h1v1h-1zM3 51h1v1h-1zM3 60h1v1h-1zM3 62h1v1h-1zM3 138h1v1h-1zM3 150h1v1h-1zM3 170h1v1h-1zM4 18h1v1h-1zM4 26h1v1h-1zM4 67h1v1h-1zM4 72h1v1h-1zM4 154h1v1h-1zM4 176h1v2h-1zM5 5h1v1h-1zM5 13h1v1h-1zM5 31h1v2h-1zM5 104h1v1h-1zM5 146h1v1h-1zM5 171h1v1h-1zM6 35h1v1h-1zM6 47h1v1h-1zM6 199h1v1h-1zM7 2h1v1h-1zM7 10h1v1h-1zM7 46h1v1h-1zM7 48h1v1h-1zM7 51h1v1h-1zM7 128h1v1h-1zM7 137h1v1h-1zM7 212h1v1h-1zM7 216h1v1h-1zM8 62h1v1h-1zM8 79h1v1h-1zM8 82h1v1h-1zM8 102h1v1h-1zM8 118h1v1h-1zM8 149h1v1h-1zM8 201h1v1h-1zM8 212h1v1h-1zM9 43h1v1h-1zM9 99h1v1h-1zM9 139h1v1h-1zM9 180h1v1h-1zM10 77h1v1h-1zM10 109h1v1h-1zM10 161h1v1h-1zM11 73h1v1h-1zM12 32h1v1h-1zM12 50h1v1h-1zM12 121h1v1h-1zM12 123h1v1h-1zM13 5h1v1h-1zM13 43h1v1h-1zM13 78h1v1h-1zM13 122h1v1h-1zM13 190h1v1h-1zM14 32h1v1h-1zM14 52h1v1h-1zM14 58h1v1h-1zM14 148h1v1h-1zM14 150h1v1h-1zM14 161h1v1h-1zM14 208h1v1h-1z"/><path fill="#d8d8f0" d="M0 11h1v1h-1zM0 14h1v2h-1zM0 18h1v1h-1zM0 35h1v2h-1zM0 45h1v1h-1zM0 100h1v1h-1zM0 113h1v1h-1zM0 115h1v1h-1zM0 183h1v1h-1zM1 30h1v1h-1zM1 48h1v1h-1zM1 94h1v1h-1zM1 136h1v1h-1zM1 200h1v1h-1zM2 12h1v1h-1zM2 84h1v1h-1zM2 96h1v1h-1zM2 120h1v1h-1zM2 143h1v1h-1zM2 217h1v1h-1zM3 4h1v1h-1zM3 7h1v1h-1zM3 59h1v1h-1zM3 89h1v1h-1zM3 133h1v1h-1zM3 159h1v1h-1zM3 167h1v1h-1zM4 8h1v1h-1zM4 24h1v1h-1zM4 53h1v1h-1zM4 91h1v1h-1zM4 201h1v1h-1zM5 102h1v1h-1zM5 131h1v2h-1zM5 170h1v1h-1zM5 184h1v1h-1zM6 36h1v2h-1zM6 61h1v1h-1zM6 74h1v2h-1zM6 139h1v1h-1zM6 144h1v1h-1zM6 210h1v1h-1zM7 89h1v1h-1zM7 111h1v1h-1zM7 143h1v1h-1zM8 4h1v1h-1zM8 20h1v1h-1zM8 120h1v1h-1zM8 131h1v1h-1zM9 26h1v1h-1zM9 38h1v1h-1zM9 155h1v1h-1zM9 162h1v1h-1zM9 217h1v1h-1zM10 8h1v1h-1zM10 38h1v2h-1zM10 127h1v2h-1zM10 153h1v1h-1zM10 171h1v1h-1zM10 180h1v1h-1zM11 18h1v1h-1zM11 56h1v1h-1zM11 80h1v1h-1zM11 142h1v1h-1zM11 160h1v1h-1zM11 165h1v1h-1zM12 52h1v1h-1zM12 104h1v1h-1zM12 176h1v1h-1zM13 2h1v1h-1zM13 10h1v1h-1zM13 18h1v1h-1zM13 129h1v1h-1zM13 139h1v1h-1zM14 0h1v1h-1zM14 35h1v1h-1zM14 66h1v1h-1z"/><path fill="#c6c6ea" d="M0 13h1v1h-1zM0 61h1v1h-1zM0 63h1v1h-1zM0 86h1v1h-1zM0 138h1v1h-1zM0 145h1v1h-1zM0 164h1v1h-1zM0 188h1v1h-1zM1 9h1v1h-1zM1 13h1v1h-1zM1 74h1v1h-1zM1 93h1v1h-1zM1 138h1v2h-1zM1 207h1v1h-1zM2 73h1v1h-1zM2 90h1v1h-1zM2 172h1v1h-1zM2 174h1v1h-1zM2 202h1v1h-1zM3 15h1v1h-1zM3 76h1v1h-1zM3 104h1v1h-1zM3 134h1v1h-1zM3 140h1v1h-1zM3 152h1v2h-1zM3 180h1v1h-1zM4 25h1v1h-1zM4 39h1v1h-1zM4 45h1v1h-1zM4 70h1v2h-1zM4 198h1v1h-1zM5 9h1v1h-1zM5 43h1v2h-1zM5 52h1v1h-1zM5 70h1v1h-1zM5 77h1v1h-1zM5 79h1v1h-1zM5 93h1v1h-1zM5 120h1v1h-1zM5 129h1v1h-1zM5 153h1v1h-1zM5 166h1v1h-1zM6 26h1v1h-1zM6 30h1v1h-1zM6 41h1v1h-1zM6 86h1v2h-1zM6 110h1v1h-1zM6 115h1v1h-1zM6 118h1v1h-1zM6 131h1v1h-1zM6 165h1v1h-1zM7 7h1v1h-1zM7 21h1v2h-1zM7 26h1v1h-1zM7 86h1v1h-1zM7 107h1v1h-1zM7 195h1v1h-1zM7 203h1v2h-1zM8 12h1v1h-1zM8 15h1v1h-1zM8 37h1v1h-1zM8 41h1v1h-1zM8 65h1v1h-1zM8 72h1v1h-1zM8 103h1v1h-1zM8 106h1v1h-1zM8 141h1v1h-1zM8 144h1v2h-1zM8 153h1v1h-1zM8 159h1v1h-1zM8 181h1v1h-1zM8 187h1v1h-1zM8 197h1v1h-1zM9 0h1v1h-1zM9 20h1v1h-1zM9 51h1v1h-1zM9 77h1v1h-1zM9 79h1v1h-1zM9 157h1v1h-1zM10 37h1v1h-1zM10 90h1v1h-1zM10 107h1v1h-1zM10 120h1v1h-1zM10 209h1v1h-1zM11 5h1v1h-1zM11 58h1v1h-1zM11 118h1v1h-1zM11 130h1v1h-1zM11 162h1v1h-1zM11 178h1v1h-1zM11 190h1v1h-1zM11 207h1v1h-1zM11 211h1v1h-1zM12 41h1v1h-1zM12 51h1v1h-1zM12 65h1v1h-1zM12 80h1v1h-1zM12 116h1v1h-1zM12 126h1v1h-1zM12 215h1v1h-1zM13 13h1v1h-1zM13 77h1v1h-1zM13 85h1v1h-1zM13 97h1v1h-1zM13 121h1v1h-1zM13 149h1v2h-1zM13 212h1v1h-1zM14 78h1v1h-1zM14 88h1v1h-1zM14 116h1v1h-1z"/><path fill="#ded8f0" d="M0 16h1v1h-1zM0 75h1v1h-1zM0 95h1v1h-1zM0 136h1v1h-1zM1 2h1v1h-1zM1 8h1v1h-1zM1 37h1v1h-1zM1 95h1v1h-1zM1 187h1v1h-1zM2 5h1v1h-1zM2 13h1v1h-1zM2 30h1v1h-1zM2 32h1v1h-1zM2 41h1v1h-1zM2 125h1v1h-1zM2 137h1v1h-1zM3 25h1v1h-1zM3 29h1v1h-1zM3 37h1v1h-1zM3 95h1v1h-1zM3 191h1v1h-1zM4 27h1v1h-1zM4 36h1v1h-1zM4 108h1v1h-1zM5 4h1v1h-1zM5 8h1v1h-1zM5 58h1v1h-1zM5 82h1v1h-1zM5 114h1v1h-1zM5 142h1v1h-1zM5 169h1v1h-1zM6 143h1v1h-1zM7 39h1v1h-1zM7 210h1v1h-1zM9 15h1v1h-1zM9 60h1v1h-1zM9 71h1v1h-1zM9 97h1v1h-1zM9 127h1v1h-1zM9 140h1v1h-1zM9 154h1v1h-1zM10 58h1v1h-1zM10 84h1v1h-1zM10 97h1v1h-1zM10 104h1v1h-1zM10 192h1v1h-1zM11 112h1v1h-1zM11 147h1v1h-1zM11 152h1v1h-1zM11 175h1v1h-1zM11 184h1v1h-1zM11 212h1v1h-1zM12 5h1v1h-1zM12 44h1v2h-1zM12 62h1v1h-1zM12 83h1v1h-1zM12 93h1v1h-1zM12 128h1v1h-1zM12 147h1v1h-1zM12 151h1v1h-1zM12 161h1v1h-1zM13 72h1v1h-1zM13 88h1v1h-1zM13 119h1v1h-1zM13 128h1v1h-1zM13 134h1v1h-1zM13 151h1v1h-1zM13 175h1v1h-1zM13 205h1v1h-1zM13 208h1v2h-1zM14 14h1v1h-1zM14 30h1v1h-1zM14 95h1v1h-1zM14 102h1v1h-1zM14 117h1v1h-1zM14 140h1v1h-1zM14 146h1v1h-1zM14 207h1v1h-1z"/><path fill="#8490d2" d="M0 17h1v1h-1zM0 51h1v1h-1zM0 90h1v1h-1zM0 150h1v1h-1zM3 88h1v1h-1zM6 31h1v1h-1zM6 159h1v1h-1zM6 162h1v1h-1zM6 190h1v1h-1zM7 68h1v1h-1zM7 99h1v1h-1zM7 174h1v1h-1zM7 185h1v1h-1zM7 215h1v1h-1zM8 126h1v1h-1zM8 172h1v1h-1z"/><path fill="#dec6d8" d="M0 19h1v1h-1zM0 22h1v1h-1zM0 40h1v1h-1zM1 1h1v1h-1zM1 6h1v1h-1zM1 22h1v1h-1zM1 29h1v1h-1zM1 40h1v1h-1zM1 116h1v1h-1zM1 214h1v1h-1zM2 3h1v1h-1zM2 24h1v1h-1zM2 39h1v1h-1zM2 72h1v1h-1zM2 77h1v1h-1zM2 80h1v1h-1zM2 142h1v1h-1zM2 199h1v1h-1zM3 1h1v1h-1zM3 9h1v2h-1zM3 26h1v1h-1zM3 36h1v1h-1zM3 42h1v1h-1zM3 63h1v1h-1zM3 75h1v1h-1zM3 128h1v1h-1zM3 142h1v1h-1zM3 158h1v1h-1zM3 214h1v1h-1zM4 164h1v1h-1zM4 197h1v1h-1zM5 72h1v1h-1zM5 76h1v1h-1zM5 83h1v1h-1zM5 115h1v1h-1zM5 141h1v1h-1zM5 144h1v1h-1zM5 164h1v1h-1zM5 182h1v1h-1zM6 23h1v1h-1zM6 59h1v1h-1zM6 92h1v1h-1zM6 214h1v1h-1zM7 54h1v1h-1zM7 183h1v1h-1zM8 11h1v1h-1zM8 40h1v1h-1zM8 49h1v1h-1zM8 76h1v1h-1zM8 111h1v2h-1zM9 67h1v1h-1zM9 100h1v1h-1zM9 102h1v1h-1zM9 106h1v1h-1zM9 114h1v1h-1zM9 130h1v1h-1zM9 146h1v1h-1zM9 148h1v1h-1zM9 176h1v1h-1zM9 182h1v1h-1zM9 197h1v1h-1zM10 3h1v1h-1zM10 22h1v1h-1zM10 42h1v1h-1zM10 60h1v1h-1zM10 72h1v1h-1zM10 114h1v1h-1zM10 122h1v1h-1zM10 136h1v1h-1zM10 149h1v1h-1zM10 151h1v1h-1zM10 167h1v1h-1zM10 177h1v1h-1zM10 187h1v1h-1zM10 190h1v1h-1zM10 213h1v1h-1zM11 4h1v1h-1zM11 10h1v1h-1zM11 30h1v1h-1zM11 62h1v1h-1zM11 67h1v1h-1zM11 72h1v1h-1zM11 76h1v1h-1zM11 84h1v1h-1zM11 91h1v1h-1zM11 169h1v1h-1zM11 177h1v1h-1zM11 181h1v1h-1zM11 202h1v1h-1zM11 216h1v1h-1zM12 2h1v1h-1zM12 11h1v1h-1zM12 46h1v1h-1zM12 71h1v1h-1zM12 114h1v2h-1zM12 153h1v1h-1zM12 175h1v1h-1zM12 177h1v1h-1zM12 181h1v1h-1zM12 184h1v2h-1zM12 189h1v1h-1zM12 200h1v1h-1zM13 8h1v1h-1zM13 37h1v1h-1zM13 48h1v1h-1zM13 81h1v1h-1zM13 101h1v1h-1zM13 105h1v1h-1zM13 108h1v1h-1zM13 124h1v1h-1zM13 130h1v1h-1zM13 153h1v1h-1zM13 187h1v1h-1zM14 8h1v1h-1zM14 39h1v1h-1zM14 60h1v1h-1zM14 86h1v2h-1zM14 100h1v1h-1zM14 120h1v1h-1zM14 133h1v1h-1zM14 167h1v1h-1zM14 175h1v1h-1zM14 197h1v2h-1z"/><path fill="#d8d2ea" d="M0 20h1v1h-1zM0 119h1v1h-1zM0 198h1v1h-1zM1 7h1v1h-1zM1 21h1v1h-1zM1 35h1v1h-1zM1 45h1v1h-1zM1 55h1v1h-1zM1 64h1v1h-1zM1 104h1v1h-1zM1 176h1v1h-1zM2 20h1v1h-1zM2 197h1v1h-1zM3 23h1v1h-1zM3 38h1v1h-1zM3 55h1v1h-1zM3 69h1v1h-1zM3 136h1v1h-1zM4 22h1v1h-1zM4 124h1v1h-1zM4 160h1v1h-1zM4 165h1v1h-1zM5 26h1v1h-1zM5 35h1v1h-1zM5 37h1v1h-1zM5 61h1v2h-1zM5 140h1v1h-1zM5 174h1v1h-1zM6 9h1v1h-1zM6 42h1v1h-1zM6 58h1v1h-1zM6 72h1v1h-1zM6 98h1v1h-1zM6 114h1v1h-1zM6 196h1v1h-1zM7 19h1v1h-1zM7 94h1v1h-1zM7 106h1v1h-1zM7 114h1v1h-1zM7 133h1v1h-1zM7 181h1v1h-1zM7 186h1v1h-1zM8 29h1v1h-1zM8 38h1v1h-1zM8 71h1v1h-1zM8 133h1v1h-1zM8 165h1v1h-1zM9 90h1v1h-1zM9 104h1v2h-1zM9 213h1v1h-1zM10 119h1v1h-1zM10 148h1v1h-1zM10 154h1v1h-1zM11 0h1v1h-1zM11 28h1v1h-1zM11 69h1v1h-1zM11 90h1v1h-1zM11 123h1v1h-1zM11 128h1v1h-1zM11 150h1v1h-1zM11 154h1v1h-1zM11 171h1v1h-1zM11 191h1v1h-1zM12 39h1v1h-1zM12 95h1v1h-1zM12 138h1v1h-1zM13 51h1v1h-1zM13 56h1v1h-1zM13 148h1v1h-1zM13 160h1v1h-1zM13 200h1v1h-1zM13 203h1v1h-1zM14 2h1v1h-1zM14 23h1v1h-1zM14 44h1v1h-1zM14 77h1v1h-1zM14 127h1v1h-1z"/><path fill="#c6c6e4" d="M0 21h1v1h-1zM0 44h1v1h-1zM1 15h1v1h-1zM1 167h1v1h-1zM1 202h1v1h-1zM1 217h1v1h-1zM3 82h1v1h-1zM3 101h1v1h-1zM3 179h1v1h-1zM3 182h1v1h-1zM4 4h1v1h-1zM4 143h1v1h-1zM4 155h1v1h-1zM4 203h1v1h-1zM5 119h1v1h-1zM6 14h1v1h-1zM6 44h1v1h-1zM6 62h1v1h-1zM6 100h1v1h-1zM6 128h1v1h-1zM7 110h1v1h-1zM7 126h1v1h-1zM8 35h1v2h-1zM8 119h1v1h-1zM8 158h1v1h-1zM9 209h1v1h-1zM10 78h1v1h-1zM10 99h1v1h-1zM11 121h1v1h-1zM14 13h1v1h-1zM14 72h1v1h-1zM14 178h1v1h-1z"/><path fill="#dec0d2" d="M0 27h1v1h-1zM0 57h1v1h-1zM0 124h1v1h-1zM0 132h1v1h-1zM0 135h1v1h-1zM0 143h1v1h-1zM2 6h1v1h-1zM2 26h1v1h-1zM2 36h1v1h-1zM2 66h1v1h-1zM2 86h1v1h-1zM2 91h1v1h-1zM2 204h1v1h-1zM3 48h1v1h-1zM3 61h1v1h-1zM3 86h1v1h-1zM3 94h1v1h-1zM3 116h1v1h-1zM3 124h1v1h-1zM3 202h1v1h-1zM3 206h1v1h-1zM4 77h1v1h-1zM5 19h1v1h-1zM5 24h1v1h-1zM5 29h1v1h-1zM5 42h1v1h-1zM5 49h1v1h-1zM5 181h1v1h-1zM5 204h1v1h-1zM5 206h1v1h-1zM6 22h1v1h-1zM6 54h1v1h-1zM7 135h1v1h-1zM8 1h1v1h-1zM8 19h1v1h-1zM8 55h1v1h-1zM8 75h1v1h-1zM8 108h1v1h-1zM8 183h1v1h-1zM9 7h1v1h-1zM9 11h1v1h-1zM9 53h1v1h-1zM9 110h1v1h-1zM9 150h1v1h-1zM9 181h1v1h-1zM9 187h1v1h-1zM9 200h1v1h-1zM9 212h1v1h-1zM10 7h1v1h-1zM10 9h1v1h-1zM10 81h1v1h-1zM10 156h1v1h-1zM10 174h1v1h-1zM11 22h1v1h-1zM11 49h1v1h-1zM11 114h1v1h-1zM11 119h1v1h-1zM11 133h1v1h-1zM11 141h1v1h-1zM11 167h1v1h-1zM11 170h1v1h-1zM12 12h1v1h-1zM12 81h1v1h-1zM12 120h1v1h-1zM12 124h1v1h-1zM12 129h1v1h-1zM12 136h1v1h-1zM12 154h1v1h-1zM12 156h1v1h-1zM12 164h1v1h-1zM12 168h1v1h-1zM13 1h1v1h-1zM13 16h1v1h-1zM13 23h1v1h-1zM13 34h1v1h-1zM13 46h1v1h-1zM13 66h1v1h-1zM13 83h1v1h-1zM13 141h1v1h-1zM13 169h1v1h-1zM13 196h1v1h-1zM14 21h1v2h-1zM14 40h1v2h-1zM14 46h1v1h-1zM14 53h1v1h-1zM14 82h1v1h-1zM14 110h1v1h-1zM14 132h1v1h-1zM14 143h1v1h-1zM14 162h1v1h-1zM14 170h1v1h-1zM14 204h1v1h-1z"/><path fill="#a8aede" d="M0 28h1v1h-1zM0 32h1v1h-1zM0 62h1v1h-1zM0 72h1v1h-1zM0 76h1v1h-1zM0 84h1v1h-1zM0 93h1v1h-1zM0 156h1v1h-1zM0 193h1v1h-1zM0 202h1v2h-1zM1 62h1v1h-1zM1 184h1v1h-1zM2 123h1v1h-1zM2 194h1v1h-1zM3 18h1v1h-1zM3 65h1v1h-1zM3 151h1v1h-1zM3 155h1v1h-1zM3 194h1v1h-1zM4 10h1v1h-1zM4 127h1v1h-1zM4 141h1v1h-1zM4 157h1v1h-1zM4 172h1v1h-1zM4 180h1v1h-1zM5 117h1v1h-1zM5 152h1v1h-1zM5 179h1v1h-1zM6 34h1v1h-1zM6 123h1v1h-1zM6 127h1v1h-1zM6 181h1v1h-1zM6 198h1v1h-1zM6 207h1v1h-1zM7 4h1v1h-1zM7 30h1v1h-1zM7 81h1v1h-1zM7 100h1v1h-1zM7 118h1v1h-1zM7 147h1v1h-1zM7 153h1v1h-1zM8 51h1v1h-1zM8 56h1v1h-1zM8 114h1v2h-1zM8 142h1v1h-1zM8 198h1v1h-1zM8 205h1v1h-1zM9 56h1v1h-1zM9 65h1v1h-1zM9 80h1v1h-1zM11 194h1v1h-1zM12 178h1v1h-1zM12 192h1v1h-1zM13 157h1v1h-1zM14 54h1v1h-1z"/><path fill="#decce4" d="M0 29h1v1h-1zM0 110h1v1h-1zM0 112h1v1h-1zM0 182h1v1h-1zM1 11h1v1h-1zM1 42h1v1h-1zM1 144h1v1h-1zM1 186h1v1h-1zM2 21h1v1h-1zM2 46h1v1h-1zM2 71h1v1h-1zM3 117h1v1h-1zM3 144h1v1h-1zM3 165h1v1h-1zM3 193h1v1h-1zM4 1h1v1h-1zM5 110h1v1h-1zM5 112h1v1h-1zM5 167h1v1h-1zM5 187h1v1h-1zM6 24h1v1h-1zM7 98h1v1h-1zM8 8h1v1h-1zM8 22h1v1h-1zM8 136h1v1h-1zM9 1h1v1h-1zM9 18h1v1h-1zM9 41h1v1h-1zM9 120h1v1h-1zM9 128h1v1h-1zM9 156h1v1h-1zM10 71h1v1h-1zM10 87h1v1h-1zM10 129h1v1h-1zM10 185h1v1h-1zM11 8h1v1h-1zM11 42h1v1h-1zM11 79h1v1h-1zM11 87h1v1h-1zM11 92h1v1h-1zM11 100h1v1h-1zM11 143h1v1h-1zM11 153h1v1h-1zM11 205h1v2h-1zM12 20h1v1h-1zM12 60h1v1h-1zM12 72h1v1h-1zM13 84h1v1h-1zM13 118h1v1h-1zM13 120h1v1h-1zM13 186h1v1h-1zM14 19h1v1h-1zM14 104h1v1h-1zM14 119h1v1h-1zM14 134h1v1h-1z"/><path fill="#a2a8de" d="M0 30h1v1h-1zM0 96h1v1h-1zM0 105h1v1h-1zM0 158h1v1h-1zM0 179h1v1h-1zM0 185h1v1h-1zM0 192h1v1h-1zM0 213h1v1h-1zM1 32h1v1h-1zM1 84h1v1h-1zM1 121h1v1h-1zM1 123h1v1h-1zM1 147h1v1h-1zM1 159h1v1h-1zM1 162h1v1h-1zM1 171h1v1h-1zM1 185h1v1h-1zM1 190h1v1h-1zM1 195h1v1h-1zM2 68h1v1h-1zM3 32h1v1h-1zM3 54h1v1h-1zM3 175h1v1h-1zM3 209h1v1h-1zM3 212h1v1h-1zM4 2h1v1h-1zM4 55h1v1h-1zM4 73h1v1h-1zM4 153h1v1h-1zM4 173h1v3h-1zM4 195h1v1h-1zM4 200h1v1h-1zM5 0h1v1h-1zM5 69h1v1h-1zM5 96h1v1h-1zM6 15h1v2h-1zM6 56h1v1h-1zM6 65h1v2h-1zM6 71h1v1h-1zM6 102h1v1h-1zM6 138h1v1h-1zM6 160h1v1h-1zM7 13h1v1h-1zM7 67h1v1h-1zM7 93h1v1h-1zM7 109h1v1h-1zM7 129h1v1h-1zM7 171h1v1h-1zM7 173h1v1h-1zM7 213h1v1h-1zM8 58h1v1h-1zM8 66h1v1h-1zM8 80h1v1h-1zM8 107h1v1h-1zM8 123h1v1h-1zM8 150h1v1h-1zM8 200h1v1h-1zM9 31h1v1h-1zM9 54h1v1h-1zM10 125h1v1h-1zM10 163h1v1h-1zM12 146h1v1h-1zM13 80h1v1h-1zM13 163h1v1h-1zM14 125h1v1h-1z"/><path fill="#5a6cc6" d="M0 31h1v1h-1zM0 50h1v1h-1zM0 65h1v1h-1zM0 71h1v1h-1zM0 73h1v1h-1zM0 78h1v1h-1zM0 88h1v1h-1zM0 125h1v1h-1zM0 157h1v1h-1zM0 163h1v1h-1zM1 50h1v1h-1zM1 54h1v1h-1zM1 68h1v1h-1zM1 73h1v1h-1zM1 77h1v1h-1zM1 88h1v1h-1zM1 97h1v1h-1zM1 155h1v1h-1zM1 157h1v1h-1zM3 31h1v1h-1zM4 13h1v1h-1zM4 17h1v1h-1zM4 31h1v1h-1zM4 54h1v1h-1zM4 97h1v1h-1zM4 99h1v1h-1zM4 146h1v3h-1zM4 150h1v1h-1zM4 178h1v1h-1zM6 97h1v1h-1zM6 125h1v2h-1zM6 163h1v1h-1zM6 172h1v1h-1zM7 31h1v1h-1zM7 43h1v1h-1zM7 77h1v1h-1zM7 97h1v1h-1zM7 125h1v1h-1zM7 157h1v1h-1zM7 163h1v1h-1zM8 109h1v1h-1zM8 125h1v1h-1zM8 163h1v1h-1z"/><path fill="#d88490" d="M0 33h1v1h-1zM2 103h1v1h-1zM2 124h1v1h-1zM3 115h1v1h-1zM4 191h1v1h-1zM5 74h1v1h-1zM9 27h1v1h-1zM10 14h1v1h-1zM10 55h1v1h-1zM10 82h1v1h-1zM12 64h1v1h-1zM12 135h1v1h-1zM13 158h1v1h-1zM14 70h1v1h-1zM14 171h1v1h-1zM14 183h1v1h-1z"/><path fill="#aeaede" d="M0 34h1v1h-1zM0 64h1v1h-1zM0 70h1v1h-1zM0 83h1v1h-1zM0 140h1v1h-1zM0 154h1v1h-1zM0 161h1v1h-1zM0 167h1v1h-1zM1 44h1v1h-1zM1 82h1v1h-1zM1 166h1v1h-1zM1 170h1v1h-1zM1 174h1v1h-1zM1 201h1v1h-1zM1 213h1v1h-1zM2 47h1v1h-1zM3 0h1v1h-1zM3 148h1v1h-1zM3 154h1v1h-1zM3 157h1v1h-1zM4 5h1v1h-1zM4 30h1v1h-1zM4 126h1v1h-1zM4 138h1v1h-1zM4 169h1v1h-1zM4 179h1v1h-1zM5 38h1v1h-1zM6 0h1v1h-1zM6 103h1v1h-1zM6 146h1v1h-1zM6 195h1v1h-1zM7 47h1v1h-1zM7 59h1v1h-1zM7 76h1v1h-1zM8 5h1v1h-1zM8 32h1v1h-1zM8 73h1v1h-1zM8 96h1v1h-1zM8 191h1v1h-1zM9 62h1v1h-1zM9 68h1v1h-1zM9 78h1v1h-1zM9 123h1v1h-1zM10 85h1v1h-1zM10 212h1v1h-1zM11 85h1v1h-1zM12 209h1v1h-1zM13 126h1v1h-1zM14 163h1v1h-1z"/><path fill="#d2ccea" d="M0 37h1v1h-1zM0 101h1v1h-1zM0 134h1v1h-1zM0 187h1v1h-1zM0 216h1v1h-1zM1 10h1v1h-1zM1 20h1v1h-1zM1 164h1v1h-1zM2 70h1v1h-1zM2 88h1v1h-1zM2 150h1v1h-1zM2 152h1v1h-1zM2 192h1v1h-1zM3 13h1v1h-1zM3 21h1v1h-1zM3 35h1v1h-1zM3 45h1v1h-1zM4 142h1v1h-1zM5 107h1v1h-1zM5 130h1v1h-1zM5 139h1v1h-1zM5 155h1v1h-1zM6 3h1v1h-1zM6 21h1v1h-1zM6 46h1v1h-1zM6 187h1v1h-1zM8 92h1v1h-1zM8 132h1v1h-1zM9 87h1v1h-1zM10 26h1v1h-1zM10 65h1v1h-1zM10 80h1v1h-1zM10 160h1v1h-1zM11 149h1v1h-1zM11 161h1v1h-1zM11 176h1v1h-1zM12 38h1v1h-1zM12 208h1v1h-1zM13 38h1v1h-1zM14 10h1v1h-1zM14 34h1v1h-1z"/><path fill="#d8bac6" d="M0 42h1v1h-1zM3 122h1v1h-1zM10 86h1v1h-1zM13 0h1v1h-1zM13 69h1v1h-1zM14 29h1v1h-1zM14 91h1v1h-1zM14 128h1v1h-1z"/><path fill="#aeb4de" d="M0 43h1v1h-1zM0 47h1v1h-1zM0 122h1v1h-1zM0 151h1v1h-1zM0 172h1v1h-1zM1 53h1v1h-1zM1 60h1v2h-1zM1 83h1v1h-1zM1 107h1v1h-1zM1 130h1v1h-1zM1 203h1v1h-1zM2 17h1v1h-1zM3 66h1v1h-1zM4 47h1v1h-1zM4 170h1v1h-1zM5 78h1v1h-1zM5 80h1v1h-1zM5 90h1v1h-1zM5 149h1v1h-1zM5 208h1v1h-1zM6 88h1v1h-1zM6 107h1v1h-1zM6 173h1v1h-1zM6 197h1v1h-1zM6 213h1v1h-1zM7 36h1v1h-1zM7 56h1v1h-1zM7 65h1v1h-1zM7 101h1v1h-1zM7 113h1v1h-1zM7 121h1v1h-1zM7 134h1v1h-1zM7 199h1v1h-1zM8 101h1v1h-1zM8 137h1v1h-1zM9 117h1v1h-1zM12 90h1v1h-1zM13 96h1v1h-1zM14 138h1v1h-1zM14 205h1v1h-1z"/><path fill="#ded8ea" d="M0 49h1v1h-1zM0 133h1v1h-1zM0 144h1v1h-1zM1 63h1v1h-1zM1 100h1v1h-1zM1 106h1v1h-1zM1 108h1v1h-1zM1 133h1v1h-1zM1 142h1v1h-1zM2 16h1v1h-1zM2 19h1v1h-1zM2 52h1v1h-1zM2 69h1v1h-1zM2 156h1v1h-1zM2 165h1v1h-1zM2 188h1v1h-1zM2 203h1v1h-1zM3 57h1v1h-1zM3 71h1v2h-1zM3 100h1v1h-1zM3 105h1v1h-1zM3 143h1v1h-1zM3 145h1v1h-1zM3 164h1v1h-1zM3 168h1v1h-1zM3 181h1v1h-1zM3 198h1v2h-1zM3 201h1v1h-1zM3 204h1v1h-1zM4 3h1v1h-1zM4 64h1v1h-1zM4 89h1v1h-1zM4 158h1v1h-1zM4 182h1v1h-1zM4 187h1v1h-1zM5 41h1v1h-1zM5 71h1v1h-1zM5 73h1v1h-1zM5 106h1v1h-1zM5 133h1v1h-1zM5 136h1v1h-1zM5 154h1v1h-1zM6 6h1v1h-1zM6 19h1v1h-1zM6 45h1v1h-1zM6 82h1v1h-1zM6 89h1v1h-1zM6 113h1v1h-1zM7 16h1v1h-1zM7 61h1v1h-1zM8 16h1v1h-1zM9 12h1v1h-1zM9 16h1v1h-1zM9 28h1v1h-1zM9 45h1v2h-1zM9 124h1v1h-1zM9 133h1v1h-1zM9 195h1v1h-1zM9 201h1v1h-1zM9 208h1v1h-1zM10 12h1v1h-1zM10 16h1v3h-1zM10 20h1v1h-1zM10 23h1v1h-1zM10 35h1v1h-1zM10 62h1v1h-1zM10 102h1v1h-1zM10 130h1v1h-1zM10 142h1v1h-1zM10 145h1v1h-1zM10 206h1v1h-1zM10 216h1v2h-1zM11 24h1v1h-1zM11 53h1v1h-1zM11 66h1v1h-1zM11 81h1v1h-1zM11 93h1v1h-1zM11 96h1v1h-1zM11 102h1v1h-1zM11 106h1v1h-1zM11 140h1v1h-1zM11 155h1v2h-1zM11 174h1v1h-1zM11 195h1v1h-1zM11 198h1v1h-1zM11 208h1v1h-1zM12 4h1v1h-1zM12 18h1v1h-1zM12 47h1v1h-1zM12 79h1v1h-1zM12 100h1v2h-1zM12 117h1v1h-1zM12 119h1v1h-1zM12 133h1v1h-1zM12 141h1v1h-1zM12 155h1v1h-1zM12 187h1v2h-1zM12 190h1v1h-1zM13 39h1v1h-1zM13 44h1v1h-1zM13 47h1v1h-1zM13 87h1v1h-1zM13 110h1v1h-1zM13 155h1v1h-1zM13 198h1v1h-1zM13 202h1v1h-1zM14 15h1v2h-1zM14 20h1v1h-1zM14 42h1v1h-1zM14 76h1v1h-1zM14 79h1v1h-1zM14 84h1v1h-1zM14 105h1v1h-1zM14 129h1v2h-1zM14 169h1v1h-1zM14 180h1v1h-1zM14 191h1v1h-1zM14 217h1v1h-1z"/><path fill="#6c78cc" d="M0 52h1v1h-1zM0 68h1v2h-1zM0 97h1v1h-1zM0 146h1v1h-1zM0 178h1v1h-1zM0 209h1v1h-1zM1 51h1v1h-1zM1 65h1v1h-1zM1 78h1v1h-1zM1 151h1v1h-1zM1 163h1v1h-1zM1 194h1v1h-1zM4 125h1v1h-1zM6 17h1v1h-1zM7 17h1v1h-1zM7 58h1v1h-1zM7 73h1v1h-1zM7 84h1v1h-1zM8 85h1v1h-1zM9 163h1v1h-1z"/><path fill="#a2a2de" d="M0 53h1v1h-1zM0 208h1v1h-1zM1 198h1v1h-1zM2 121h1v1h-1zM3 178h1v1h-1zM4 162h1v1h-1zM4 167h1v1h-1zM6 117h1v1h-1zM6 149h1v1h-1zM6 154h1v1h-1zM6 180h1v1h-1zM7 25h1v1h-1zM7 198h1v1h-1zM7 202h1v1h-1zM7 205h1v1h-1zM8 186h1v1h-1zM8 194h1v1h-1zM10 68h1v1h-1zM14 99h1v1h-1z"/><path fill="#6672cc" d="M0 54h1v1h-1zM0 85h1v1h-1zM0 153h1v1h-1zM1 52h1v1h-1zM1 69h1v1h-1zM1 85h1v1h-1zM3 50h1v1h-1zM3 68h1v1h-1zM3 174h1v1h-1zM4 56h1v1h-1zM4 140h1v1h-1zM6 209h1v1h-1zM7 151h1v1h-1zM8 209h1v1h-1zM8 215h1v1h-1z"/><path fill="#8a90d2" d="M0 56h1v1h-1zM4 205h1v1h-1zM5 109h1v1h-1z"/><path fill="#8a90d8" d="M0 58h1v1h-1zM0 99h1v1h-1zM0 148h1v1h-1zM0 171h1v1h-1zM0 205h1v1h-1zM1 66h1v1h-1zM1 149h1v1h-1zM2 31h1v1h-1zM3 96h1v1h-1zM3 127h1v1h-1zM4 50h1v1h-1zM4 93h1v1h-1zM4 149h1v1h-1zM4 207h1v1h-1zM6 140h1v1h-1zM6 174h1v1h-1zM7 150h1v1h-1zM8 77h1v1h-1zM8 93h1v1h-1z"/><path fill="#909cd8" d="M0 60h1v1h-1zM1 161h1v1h-1zM4 60h1v1h-1zM4 103h1v1h-1zM5 178h1v1h-1zM6 152h1v1h-1zM6 167h1v1h-1zM7 96h1v1h-1zM7 190h1v1h-1zM7 201h1v1h-1zM8 54h1v1h-1zM8 138h1v1h-1zM14 85h1v1h-1z"/><path fill="#bac0e4" d="M0 67h1v1h-1zM1 28h1v1h-1zM1 102h1v1h-1zM1 119h1v1h-1zM1 216h1v1h-1zM2 163h1v1h-1zM2 200h1v1h-1zM2 215h1v1h-1zM3 129h1v1h-1zM3 169h1v1h-1zM3 207h1v2h-1zM4 87h1v1h-1zM4 105h1v1h-1zM4 128h1v1h-1zM4 194h1v1h-1zM6 10h1v1h-1zM6 38h1v1h-1zM6 145h1v1h-1zM6 177h1v1h-1zM6 188h1v1h-1zM6 191h1v1h-1zM7 15h1v1h-1zM7 23h1v1h-1zM7 104h1v1h-1zM7 179h1v1h-1zM8 26h1v1h-1zM8 53h1v1h-1zM8 128h1v1h-1zM9 50h1v1h-1zM9 88h1v1h-1zM9 119h1v1h-1zM9 121h1v1h-1zM9 171h1v1h-1zM11 89h1v1h-1zM11 146h1v1h-1zM12 152h1v1h-1zM12 180h1v1h-1zM13 107h1v1h-1zM13 216h1v1h-1zM14 123h1v1h-1z"/><path fill="#7e8ad2" d="M0 77h1v1h-1zM3 73h1v1h-1zM3 147h1v1h-1zM3 163h1v1h-1zM3 205h1v1h-1zM4 101h1v1h-1zM4 107h1v1h-1zM4 109h1v1h-1zM4 208h1v1h-1zM6 13h1v1h-1zM6 73h1v1h-1zM6 80h1v1h-1zM6 179h1v1h-1zM6 215h1v1h-1zM7 87h1v1h-1zM7 160h1v1h-1zM7 194h1v1h-1z"/><path fill="#787ed2" d="M0 79h1v1h-1zM3 171h1v2h-1zM4 58h1v1h-1zM6 185h1v1h-1zM7 208h1v1h-1zM8 140h1v1h-1zM8 157h1v1h-1zM8 171h1v1h-1z"/><path fill="#606ccc" d="M0 80h1v1h-1zM1 148h1v1h-1zM4 43h1v1h-1zM6 157h1v1h-1z"/><path fill="#7884d2" d="M0 81h1v1h-1zM0 149h1v1h-1zM1 31h1v1h-1zM1 58h1v1h-1zM1 79h1v1h-1zM1 154h1v1h-1zM2 209h1v1h-1zM3 125h1v1h-1zM4 171h1v1h-1zM5 99h1v1h-1zM6 70h1v1h-1zM6 77h1v1h-1zM6 116h1v1h-1zM6 121h1v1h-1zM6 171h1v1h-1zM7 5h1v1h-1zM7 85h1v1h-1zM7 149h1v1h-1zM8 50h1v1h-1zM11 163h1v1h-1z"/><path fill="#969cd8" d="M0 87h1v1h-1zM0 107h1v1h-1zM0 123h1v1h-1zM0 190h1v1h-1zM0 215h1v1h-1zM1 0h1v1h-1zM1 70h1v1h-1zM1 72h1v1h-1zM1 99h1v1h-1zM1 109h1v1h-1zM1 126h1v1h-1zM1 179h1v1h-1zM2 43h1v1h-1zM2 50h1v1h-1zM3 85h1v1h-1zM3 90h1v1h-1zM3 97h1v1h-1zM3 162h1v1h-1zM4 14h1v1h-1zM4 90h1v1h-1zM4 139h1v1h-1zM4 185h1v1h-1zM4 209h1v1h-1zM5 68h1v1h-1zM5 150h1v1h-1zM5 209h1v1h-1zM6 50h1v1h-1zM6 93h1v1h-1zM6 132h1v1h-1zM6 142h1v1h-1zM6 147h1v1h-1zM6 192h1v1h-1zM6 194h1v1h-1zM6 203h1v1h-1zM6 205h1v1h-1zM6 211h1v2h-1zM6 216h1v1h-1zM7 32h1v1h-1zM7 34h1v2h-1zM7 44h1v1h-1zM7 60h1v1h-1zM7 71h1v1h-1zM7 82h1v2h-1zM7 146h1v1h-1zM7 156h1v1h-1zM7 178h1v1h-1zM7 180h1v1h-1zM7 200h1v1h-1zM7 209h1v1h-1zM7 217h1v1h-1zM8 43h1v1h-1zM8 97h1v1h-1zM8 104h1v1h-1zM8 116h1v1h-1zM8 152h1v1h-1zM8 161h1v2h-1zM8 173h1v1h-1zM8 179h1v1h-1zM8 190h1v1h-1zM8 192h1v1h-1zM8 208h1v1h-1zM9 125h1v1h-1zM11 31h1v1h-1zM11 34h1v1h-1zM11 54h1v1h-1zM12 31h1v1h-1zM12 85h1v1h-1zM14 31h1v1h-1zM14 109h1v1h-1z"/><path fill="#b4b4e4" d="M0 102h1v1h-1zM0 116h1v1h-1zM0 166h1v1h-1zM0 189h1v1h-1zM1 14h1v1h-1zM1 16h1v3h-1zM1 96h1v1h-1zM1 122h1v1h-1zM1 145h1v1h-1zM1 178h1v1h-1zM2 205h1v1h-1zM2 207h1v1h-1zM2 212h1v1h-1zM3 5h1v1h-1zM3 56h1v1h-1zM3 107h1v1h-1zM3 141h1v1h-1zM3 196h1v1h-1zM4 9h1v1h-1zM4 44h1v1h-1zM4 59h1v1h-1zM4 69h1v1h-1zM4 94h1v1h-1zM4 145h1v1h-1zM4 156h1v1h-1zM4 204h1v1h-1zM5 138h1v1h-1zM5 217h1v1h-1zM6 67h1v1h-1zM6 85h1v1h-1zM6 105h1v1h-1zM6 120h1v1h-1zM6 122h1v1h-1zM6 170h1v1h-1zM6 184h1v1h-1zM6 189h1v1h-1zM6 202h1v1h-1zM7 52h1v2h-1zM7 95h1v1h-1zM7 130h1v2h-1zM7 145h1v1h-1zM7 152h1v1h-1zM7 154h1v1h-1zM7 177h1v1h-1zM7 187h1v1h-1zM7 191h1v1h-1zM8 39h1v1h-1zM8 60h1v1h-1zM8 95h1v1h-1zM8 105h1v1h-1zM8 175h1v3h-1zM8 185h1v1h-1zM9 58h1v1h-1zM9 96h1v1h-1zM9 109h1v1h-1zM10 31h1v1h-1zM10 140h1v1h-1zM10 150h1v1h-1zM11 117h1v1h-1zM11 179h1v1h-1zM12 0h1v1h-1zM12 28h1v1h-1zM12 54h1v1h-1zM12 58h1v1h-1zM12 205h1v1h-1zM13 30h1v2h-1zM13 73h1v1h-1zM13 109h1v1h-1zM13 123h1v1h-1zM13 146h1v2h-1zM13 179h1v1h-1zM14 17h1v1h-1zM14 50h1v1h-1z"/><path fill="#aeb4e4" d="M0 104h1v1h-1zM0 207h1v1h-1zM1 43h1v1h-1zM3 177h1v1h-1zM3 203h1v1h-1zM4 95h1v1h-1zM6 39h1v1h-1zM6 141h1v1h-1zM8 78h1v1h-1zM8 139h1v1h-1zM8 213h1v1h-1zM9 172h1v1h-1zM11 43h1v1h-1zM12 68h1v1h-1z"/><path fill="#d8bacc" d="M0 108h1v1h-1zM0 131h1v1h-1zM1 27h1v1h-1zM1 92h1v1h-1zM1 206h1v1h-1zM2 23h1v1h-1zM2 29h1v1h-1zM2 49h1v1h-1zM2 67h1v1h-1zM2 141h1v1h-1zM2 162h1v1h-1zM2 193h1v1h-1zM2 210h1v1h-1zM3 19h1v1h-1zM3 27h1v1h-1zM3 40h1v1h-1zM3 83h1v1h-1zM4 193h1v1h-1zM5 6h1v1h-1zM5 53h1v1h-1zM5 94h1v1h-1zM5 98h1v1h-1zM6 1h1v1h-1zM6 11h1v1h-1zM6 49h1v1h-1zM8 48h1v1h-1zM8 61h1v1h-1zM8 135h1v1h-1zM9 9h1v1h-1zM9 21h1v1h-1zM9 23h1v1h-1zM9 89h1v1h-1zM9 92h1v1h-1zM9 134h1v1h-1zM9 147h1v1h-1zM9 186h1v1h-1zM9 210h1v1h-1zM10 27h1v1h-1zM10 48h1v1h-1zM10 89h1v1h-1zM10 103h1v1h-1zM10 106h1v1h-1zM10 199h1v1h-1zM11 23h1v1h-1zM11 75h1v1h-1zM11 113h1v1h-1zM11 131h1v1h-1zM11 166h1v1h-1zM11 193h1v1h-1zM11 201h1v1h-1zM11 217h1v1h-1zM12 6h1v1h-1zM12 29h1v1h-1zM12 42h1v1h-1zM12 74h1v1h-1zM12 76h1v1h-1zM12 89h1v1h-1zM12 118h1v1h-1zM12 130h1v1h-1zM12 159h1v1h-1zM12 182h1v1h-1zM12 198h1v1h-1zM13 4h1v1h-1zM13 6h1v1h-1zM13 14h1v1h-1zM13 42h1v1h-1zM13 53h1v1h-1zM13 57h1v1h-1zM13 75h1v1h-1zM13 86h1v1h-1zM13 95h1v1h-1zM13 133h1v1h-1zM13 144h1v1h-1zM13 165h1v1h-1zM13 182h1v1h-1zM13 184h1v1h-1zM13 210h1v1h-1zM14 3h1v1h-1zM14 6h1v1h-1zM14 55h1v1h-1zM14 57h1v1h-1zM14 106h1v1h-1zM14 131h1v1h-1zM14 137h1v1h-1zM14 159h1v1h-1zM14 182h1v1h-1zM14 199h1v1h-1zM14 214h1v1h-1z"/><path fill="#9ca2d8" d="M0 109h1v1h-1zM0 121h1v1h-1zM0 174h1v1h-1zM0 180h1v1h-1zM0 196h1v1h-1zM1 87h1v1h-1zM1 146h1v1h-1zM3 17h1v1h-1zM3 80h1v1h-1zM3 137h1v1h-1zM4 28h1v1h-1zM5 97h1v1h-1zM5 205h1v1h-1zM6 32h1v1h-1zM6 96h1v1h-1zM6 148h1v1h-1zM6 155h1v1h-1zM7 14h1v1h-1zM7 70h1v1h-1zM7 72h1v1h-1zM7 139h1v1h-1zM7 148h1v1h-1zM7 167h1v1h-1zM7 172h1v1h-1zM8 47h1v1h-1zM8 69h1v1h-1zM8 90h1v1h-1zM8 151h1v1h-1zM8 154h1v1h-1zM8 167h1v1h-1zM8 180h1v1h-1zM9 47h1v1h-1zM9 85h1v1h-1zM13 17h1v1h-1zM13 125h1v1h-1zM14 97h1v1h-1z"/><path fill="#ccc6ea" d="M0 114h1v1h-1zM2 56h1v1h-1zM2 147h1v1h-1zM2 166h1v1h-1zM4 104h1v1h-1zM5 18h1v1h-1zM5 212h1v1h-1zM6 137h1v1h-1zM7 18h1v1h-1zM7 127h1v1h-1zM7 206h1v1h-1zM8 2h1v1h-1zM8 23h1v1h-1zM8 81h1v1h-1zM8 84h1v1h-1zM10 191h1v1h-1zM10 200h1v1h-1zM14 37h1v1h-1zM14 73h1v1h-1zM14 126h1v1h-1z"/><path fill="#a8a8de" d="M0 126h1v1h-1zM0 128h1v1h-1zM1 47h1v1h-1zM1 169h1v1h-1zM1 215h1v1h-1zM2 54h1v1h-1zM2 190h1v1h-1zM3 77h1v1h-1zM3 126h1v1h-1zM4 52h1v1h-1zM4 123h1v1h-1zM4 184h1v1h-1zM5 17h1v1h-1zM6 150h1v1h-1zM7 9h1v1h-1zM7 62h1v1h-1zM7 140h1v1h-1zM7 188h1v1h-1zM8 0h1v1h-1zM8 100h1v1h-1zM8 195h1v2h-1zM10 43h1v1h-1zM11 50h1v1h-1zM11 77h1v1h-1zM11 97h1v1h-1z"/><path fill="#9ca2de" d="M0 127h1v1h-1zM0 176h1v1h-1zM0 194h1v1h-1zM0 200h1v1h-1zM1 101h1v1h-1zM1 156h1v1h-1zM1 158h1v1h-1zM1 208h1v1h-1zM2 85h1v1h-1zM4 0h1v1h-1zM4 32h1v1h-1zM4 100h1v1h-1zM6 18h1v1h-1zM6 51h1v1h-1zM6 81h1v1h-1zM6 90h1v1h-1zM6 130h1v1h-1zM6 168h1v1h-1zM7 38h1v1h-1zM7 41h1v1h-1zM7 88h1v1h-1zM7 102h1v1h-1zM7 105h1v1h-1zM7 119h1v1h-1zM7 168h1v1h-1zM8 44h1v1h-1zM8 68h1v1h-1zM8 122h1v1h-1zM8 216h1v1h-1zM10 50h1v1h-1zM10 157h1v1h-1zM11 125h1v1h-1zM13 50h1v1h-1zM14 157h1v1h-1z"/><path fill="#dec0d8" d="M0 137h1v1h-1zM2 87h1v1h-1zM4 144h1v1h-1zM5 10h1v1h-1zM5 203h1v1h-1zM6 57h1v1h-1zM6 64h1v1h-1zM7 11h1v1h-1zM8 27h1v1h-1zM9 40h1v1h-1zM9 42h1v1h-1zM9 107h1v1h-1zM10 204h1v1h-1zM11 1h1v1h-1zM12 10h1v1h-1zM12 36h1v1h-1zM12 213h1v1h-1zM13 206h1v1h-1zM14 115h1v1h-1z"/><path fill="#9096d8" d="M0 142h1v1h-1zM0 147h1v1h-1zM0 184h1v1h-1zM0 211h1v1h-1zM1 67h1v1h-1zM1 125h1v1h-1zM1 196h1v1h-1zM1 211h1v1h-1zM3 173h1v1h-1zM3 190h1v1h-1zM4 15h1v1h-1zM4 57h1v1h-1zM4 65h1v1h-1zM4 68h1v1h-1zM4 88h1v1h-1zM5 50h1v1h-1zM5 54h1v1h-1zM5 85h1v1h-1zM6 5h1v1h-1zM6 28h1v1h-1zM6 43h1v1h-1zM6 101h1v1h-1zM6 109h1v1h-1zM6 129h1v1h-1zM6 175h1v2h-1zM7 79h1v1h-1zM7 116h1v1h-1zM7 159h1v1h-1zM8 189h1v1h-1zM8 203h1v1h-1zM12 77h1v1h-1z"/><path fill="#727ed2" d="M0 152h1v1h-1zM1 153h1v1h-1zM6 69h1v1h-1zM6 156h1v1h-1zM8 99h1v1h-1zM8 155h1v1h-1zM14 43h1v1h-1z"/><path fill="#8a96d8" d="M0 155h1v1h-1zM4 16h1v1h-1zM7 0h1v1h-1zM7 123h1v1h-1zM7 175h1v1h-1zM8 31h1v1h-1zM12 125h1v1h-1z"/><path fill="#848ad2" d="M0 162h1v1h-1zM1 81h1v1h-1zM1 205h1v1h-1zM6 78h1v1h-1zM6 161h1v1h-1zM7 138h1v1h-1zM7 162h1v1h-1zM7 207h1v1h-1zM7 211h1v1h-1zM8 121h1v1h-1zM12 163h1v1h-1z"/><path fill="#ded2ea" d="M0 165h1v1h-1zM1 105h1v1h-1zM1 110h1v1h-1zM1 132h1v1h-1zM1 181h1v1h-1zM2 82h1v1h-1zM2 154h1v1h-1zM2 173h1v1h-1zM2 189h1v1h-1zM2 195h1v1h-1zM2 198h1v1h-1zM3 46h1v1h-1zM3 132h1v1h-1zM4 136h1v1h-1zM4 183h1v1h-1zM5 16h1v1h-1zM5 55h1v1h-1zM5 57h1v1h-1zM5 103h1v1h-1zM5 113h1v1h-1zM5 168h1v1h-1zM5 213h1v1h-1zM6 108h1v1h-1zM7 27h1v1h-1zM7 75h1v1h-1zM7 92h1v1h-1zM7 182h1v1h-1zM8 57h1v1h-1zM8 124h1v1h-1zM8 204h1v1h-1zM9 4h1v1h-1zM9 10h1v1h-1zM9 30h1v1h-1zM9 36h1v1h-1zM9 83h1v1h-1zM9 132h1v1h-1zM9 137h1v1h-1zM9 191h1v1h-1zM9 203h1v1h-1zM10 52h1v1h-1zM10 79h1v1h-1zM10 155h1v1h-1zM10 172h1v1h-1zM10 196h1v1h-1zM11 104h1v1h-1zM11 107h1v1h-1zM11 116h1v1h-1zM11 122h1v1h-1zM11 159h1v1h-1zM11 187h1v1h-1zM12 7h1v2h-1zM12 13h1v1h-1zM12 26h1v1h-1zM12 56h1v1h-1zM12 148h1v1h-1zM12 193h1v2h-1zM12 216h1v1h-1zM13 32h1v1h-1zM13 82h1v1h-1zM13 117h1v1h-1zM13 132h1v1h-1zM13 145h1v1h-1zM13 177h1v1h-1zM13 192h1v1h-1zM13 195h1v1h-1zM14 25h1v1h-1zM14 28h1v1h-1zM14 47h1v1h-1zM14 149h1v1h-1zM14 189h1v1h-1z"/><path fill="#dec6de" d="M1 19h1v1h-1zM1 183h1v1h-1zM2 133h1v1h-1zM2 211h1v1h-1zM3 8h1v1h-1zM4 63h1v1h-1zM5 59h1v1h-1zM8 214h1v1h-1zM9 19h1v1h-1zM9 66h1v1h-1zM9 75h1v1h-1zM9 98h1v1h-1zM10 25h1v1h-1zM10 133h1v1h-1zM10 203h1v1h-1zM11 173h1v1h-1zM12 27h1v1h-1zM12 110h1v1h-1zM12 174h1v1h-1zM12 201h1v1h-1zM13 9h1v1h-1zM13 55h1v1h-1zM14 38h1v1h-1zM14 124h1v1h-1zM14 192h1v1h-1zM14 202h1v1h-1z"/><path fill="#d86066" d="M1 33h1v1h-1zM3 185h1v1h-1zM5 126h1v1h-1zM11 14h1v1h-1z"/><path fill="#727ecc" d="M1 71h1v1h-1zM1 80h1v1h-1zM1 152h1v1h-1zM4 102h1v1h-1zM4 151h1v2h-1zM4 161h1v1h-1zM5 163h1v1h-1zM6 99h1v1h-1zM6 153h1v1h-1zM6 178h1v1h-1zM7 80h1v1h-1zM7 161h1v1h-1zM8 207h1v1h-1zM10 54h1v1h-1z"/><path fill="#7e84d2" d="M1 90h1v1h-1zM3 215h1v1h-1zM6 79h1v1h-1zM6 169h1v1h-1zM7 28h1v1h-1zM7 69h1v1h-1zM7 117h1v1h-1zM8 17h1v1h-1zM8 127h1v1h-1z"/><path fill="#d8363c" d="M1 115h1v1h-1zM3 110h1v1h-1zM4 84h1v1h-1zM5 158h1v1h-1zM5 195h1v1h-1zM5 200h1v1h-1z"/><path fill="#d88a96" d="M1 117h1v1h-1zM2 40h1v1h-1zM2 102h1v1h-1zM3 118h1v1h-1zM4 82h1v1h-1zM5 87h1v2h-1zM5 135h1v1h-1zM5 214h1v1h-1zM11 71h1v1h-1zM11 204h1v1h-1zM12 143h1v1h-1z"/><path fill="#d8aeba" d="M1 135h1v1h-1zM4 48h1v1h-1zM5 64h1v1h-1zM5 108h1v1h-1zM8 64h1v1h-1zM9 59h1v1h-1zM9 64h1v1h-1zM9 108h1v1h-1zM9 202h1v1h-1zM9 204h1v1h-1zM10 10h1v1h-1zM10 118h1v1h-1zM10 158h1v1h-1zM10 197h1v1h-1zM11 186h1v1h-1zM12 106h1v1h-1zM13 60h1v1h-1zM13 74h1v1h-1zM14 24h1v1h-1z"/><path fill="#6072cc" d="M1 150h1v1h-1zM8 117h1v1h-1z"/><path fill="#d8c0d2" d="M1 173h1v1h-1zM1 182h1v1h-1zM3 3h1v1h-1zM10 195h1v1h-1zM11 137h1v1h-1zM13 197h1v1h-1zM14 59h1v1h-1z"/><path fill="#7278cc" d="M1 180h1v1h-1zM4 96h1v1h-1zM4 163h1v1h-1zM7 122h1v1h-1z"/><path fill="#d8a8ba" d="M2 1h1v1h-1zM2 42h1v1h-1zM2 135h1v2h-1zM2 158h1v1h-1zM3 33h1v1h-1zM3 74h1v1h-1zM4 190h1v1h-1zM8 147h1v1h-1zM9 6h1v1h-1zM9 115h1v1h-1zM10 11h1v1h-1zM10 92h1v1h-1zM10 98h1v1h-1zM10 141h1v1h-1zM10 144h1v1h-1zM11 57h1v1h-1zM11 59h1v1h-1zM11 115h1v1h-1zM12 1h1v1h-1zM12 24h1v1h-1zM12 86h1v1h-1zM12 108h1v1h-1zM12 113h1v1h-1zM12 165h1v1h-1zM12 206h1v1h-1zM12 210h1v1h-1zM13 19h1v1h-1zM13 24h1v1h-1zM13 61h1v1h-1zM13 131h1v1h-1zM13 143h1v1h-1zM13 213h1v1h-1zM14 36h1v1h-1zM14 75h1v1h-1zM14 98h1v1h-1zM14 158h1v1h-1zM14 196h1v1h-1z"/><path fill="#d8aec0" d="M2 7h1v2h-1zM2 22h1v1h-1zM2 89h1v1h-1zM3 6h1v1h-1zM3 49h1v1h-1zM3 64h1v1h-1zM4 40h1v1h-1zM5 1h1v1h-1zM5 27h1v1h-1zM5 40h1v1h-1zM5 46h1v1h-1zM5 173h1v1h-1zM6 40h1v1h-1zM8 6h1v1h-1zM8 59h1v1h-1zM9 113h1v1h-1zM9 158h1v1h-1zM9 164h1v1h-1zM10 131h1v1h-1zM10 162h1v1h-1zM10 165h1v1h-1zM10 173h1v1h-1zM10 181h1v2h-1zM11 27h1v1h-1zM11 48h1v1h-1zM11 61h1v1h-1zM11 110h1v1h-1zM11 124h1v1h-1zM11 144h1v1h-1zM11 164h1v1h-1zM11 196h1v1h-1zM12 61h1v1h-1zM12 103h1v1h-1zM12 131h1v1h-1zM12 186h1v1h-1zM13 27h1v1h-1zM13 89h1v1h-1zM13 115h1v1h-1zM14 193h1v1h-1zM14 210h1v1h-1z"/><path fill="#d8909c" d="M2 27h1v1h-1zM2 109h1v1h-1zM3 183h1v1h-1zM4 79h1v1h-1zM4 113h1v2h-1zM5 183h1v1h-1zM9 55h1v1h-1zM9 166h1v1h-1zM10 4h1v1h-1zM10 33h1v1h-1zM10 75h1v1h-1zM11 158h1v1h-1zM11 183h1v1h-1zM12 35h1v1h-1zM12 49h1v1h-1zM12 55h1v1h-1zM12 98h1v1h-1zM14 111h1v1h-1zM14 136h1v1h-1z"/><path fill="#d85460" d="M2 33h1v1h-1z"/><path fill="#d8b4c0" d="M2 45h1v1h-1zM2 48h1v1h-1zM2 206h1v1h-1zM9 199h1v1h-1zM11 21h1v1h-1zM11 138h1v1h-1zM11 200h1v1h-1zM12 37h1v1h-1zM14 27h1v1h-1zM14 112h1v1h-1zM14 141h1v1h-1z"/><path fill="#d83636" d="M2 57h1v5h-1zM2 63h1v2h-1zM2 110h1v9h-1zM2 131h1v1h-1zM2 176h1v1h-1zM2 180h1v1h-1zM2 182h1v3h-1zM3 108h1v1h-1zM3 111h1v1h-1zM4 74h1v1h-1zM4 115h1v1h-1zM4 118h1v2h-1zM4 210h1v2h-1zM4 213h1v2h-1zM5 124h1v1h-1zM5 188h1v2h-1zM5 191h1v1h-1zM5 193h1v1h-1zM5 196h1v2h-1zM5 199h1v1h-1zM5 201h1v1h-1zM6 55h1v1h-1zM10 45h1v2h-1zM11 33h1v1h-1zM11 46h1v1h-1z"/><path fill="#d83c42" d="M2 62h1v1h-1zM4 111h1v1h-1zM4 117h1v1h-1zM5 192h1v1h-1zM11 45h1v1h-1zM12 70h1v1h-1z"/><path fill="#d8545a" d="M2 74h1v1h-1zM2 181h1v1h-1zM4 212h1v1h-1zM9 183h1v1h-1zM11 83h1v1h-1zM12 173h1v1h-1zM14 173h1v1h-1z"/><path fill="#d8a8b4" d="M2 75h1v1h-1zM3 24h1v1h-1zM3 113h1v1h-1zM4 78h1v1h-1zM6 29h1v1h-1zM8 63h1v1h-1zM10 164h1v1h-1zM11 64h1v1h-1zM11 135h1v1h-1zM11 182h1v1h-1zM11 197h1v1h-1zM11 210h1v1h-1zM12 92h1v1h-1zM12 214h1v1h-1zM13 12h1v1h-1zM13 35h1v1h-1zM13 98h1v1h-1z"/><path fill="#d896a2" d="M2 76h1v1h-1zM2 104h1v1h-1zM2 106h1v1h-1zM2 126h1v1h-1zM3 98h1v1h-1zM3 120h1v1h-1zM4 215h1v1h-1zM9 8h1v1h-1zM10 1h1v1h-1zM10 74h1v1h-1zM10 108h1v1h-1zM10 138h1v1h-1zM10 193h1v1h-1zM11 13h1v1h-1zM11 63h1v1h-1zM12 204h1v1h-1zM13 49h1v1h-1zM13 112h1v1h-1zM13 183h1v1h-1zM13 204h1v1h-1zM14 89h1v1h-1z"/><path fill="#d8a2b4" d="M2 79h1v1h-1zM2 187h1v1h-1zM3 109h1v1h-1zM5 21h1v1h-1zM5 125h1v1h-1zM5 165h1v1h-1zM8 33h1v1h-1zM8 42h1v1h-1zM9 3h1v1h-1zM9 61h1v1h-1zM9 165h1v1h-1zM10 24h1v1h-1zM10 49h1v1h-1zM10 124h1v1h-1zM11 20h1v1h-1zM11 94h1v1h-1zM11 105h1v1h-1zM11 188h1v1h-1zM12 57h1v1h-1zM14 1h1v1h-1zM14 103h1v1h-1zM14 108h1v1h-1zM14 118h1v1h-1z"/><path fill="#d89ca8" d="M2 81h1v1h-1zM4 85h1v1h-1zM4 121h1v1h-1zM5 121h1v1h-1zM9 94h1v1h-1zM9 169h1v1h-1zM9 196h1v1h-1zM10 59h1v1h-1zM10 61h1v1h-1zM10 64h1v1h-1zM10 111h1v1h-1zM10 139h1v1h-1zM10 169h1v1h-1zM11 98h1v1h-1zM12 40h1v1h-1zM14 61h1v1h-1zM14 166h1v1h-1z"/><path fill="#d84248" d="M2 92h1v1h-1zM2 177h1v1h-1zM2 179h1v1h-1zM2 185h1v1h-1zM3 119h1v1h-1zM3 131h1v1h-1zM5 89h1v1h-1zM5 127h1v1h-1zM10 83h1v1h-1z"/><path fill="#d8bad2" d="M2 93h1v1h-1zM14 64h1v1h-1z"/><path fill="#d8484e" d="M2 94h1v1h-1zM4 188h1v1h-1zM5 190h1v1h-1zM5 194h1v1h-1zM5 198h1v1h-1zM10 135h1v1h-1zM13 173h1v1h-1z"/><path fill="#d890a2" d="M2 95h1v1h-1zM3 121h1v1h-1zM9 168h1v1h-1zM10 13h1v1h-1zM10 210h1v1h-1zM11 55h1v1h-1zM12 111h1v2h-1zM12 196h1v1h-1zM13 29h1v1h-1zM13 135h1v1h-1zM13 164h1v1h-1zM14 172h1v1h-1z"/><path fill="#d89cae" d="M2 107h1v1h-1zM2 130h1v1h-1zM2 175h1v1h-1zM5 11h1v1h-1zM5 48h1v1h-1zM6 33h1v1h-1zM10 40h1v1h-1zM10 47h1v1h-1zM10 57h1v1h-1zM10 183h1v1h-1zM10 214h1v1h-1zM11 108h1v1h-1zM11 214h1v1h-1zM12 63h1v1h-1zM12 69h1v1h-1zM12 144h1v1h-1zM14 45h1v1h-1zM14 49h1v1h-1zM14 94h1v1h-1z"/><path fill="#d87e8a" d="M2 108h1v1h-1zM3 130h1v1h-1zM4 83h1v1h-1zM5 123h1v1h-1zM9 33h1v1h-1zM10 166h1v1h-1zM11 6h1v1h-1zM14 135h1v1h-1z"/><path fill="#d88496" d="M2 127h1v1h-1zM12 140h1v1h-1zM14 48h1v1h-1z"/><path fill="#d8606c" d="M2 128h1v1h-1zM4 76h1v1h-1z"/><path fill="#d8727e" d="M2 129h1v1h-1zM3 112h1v1h-1zM3 184h1v1h-1zM3 188h1v1h-1zM4 20h1v1h-1zM4 86h1v1h-1zM5 33h1v1h-1zM7 55h1v1h-1zM9 52h1v1h-1z"/><path fill="#d84e54" d="M2 132h1v1h-1zM2 178h1v1h-1zM3 187h1v1h-1zM4 81h1v1h-1z"/><path fill="#d8a2ae" d="M2 159h1v1h-1zM5 86h1v1h-1zM6 135h1v1h-1zM8 9h1v1h-1zM9 24h1v1h-1zM9 138h1v1h-1zM9 141h1v1h-1zM9 214h1v1h-1zM10 186h1v1h-1zM10 201h1v1h-1zM11 40h1v1h-1zM12 158h1v1h-1zM12 171h1v1h-1zM13 59h1v1h-1zM13 63h1v2h-1zM14 165h1v1h-1zM14 184h1v1h-1z"/><path fill="#c0c6e4" d="M2 171h1v1h-1zM3 53h1v1h-1zM3 67h1v1h-1zM4 137h1v1h-1zM5 147h1v1h-1zM5 207h1v1h-1zM6 20h1v1h-1zM8 130h1v1h-1zM9 205h1v1h-1zM13 127h1v1h-1zM14 147h1v1h-1zM14 209h1v1h-1z"/><path fill="#d85a66" d="M3 114h1v1h-1zM4 75h1v1h-1z"/><path fill="#d896a8" d="M3 135h1v1h-1zM4 33h1v1h-1zM9 63h1v1h-1zM9 131h1v1h-1zM10 19h1v1h-1zM11 44h1v1h-1zM12 139h1v1h-1zM12 172h1v1h-1zM14 74h1v1h-1z"/><path fill="#d83c3c" d="M3 186h1v1h-1z"/><path fill="#d88a9c" d="M4 80h1v1h-1zM11 74h1v1h-1zM13 40h1v1h-1z"/><path fill="#d85a60" d="M4 112h1v1h-1zM4 116h1v1h-1zM4 189h1v1h-1zM4 217h1v1h-1zM11 47h1v1h-1zM13 172h1v1h-1z"/><path fill="#d84e5a" d="M4 120h1v1h-1z"/><path fill="#d84854" d="M4 122h1v1h-1zM4 216h1v1h-1z"/><path fill="#d87884" d="M5 63h1v1h-1zM5 122h1v1h-1zM9 135h1v1h-1zM9 145h1v1h-1zM9 206h1v1h-1zM12 33h1v1h-1zM12 48h1v1h-1zM13 33h1v1h-1zM13 174h1v1h-1zM14 33h1v1h-1zM14 174h1v1h-1z"/><path fill="#d87e84" d="M5 156h1v1h-1zM13 214h1v1h-1z"/><path fill="#606cc6" d="M6 68h1v1h-1zM6 208h1v1h-1zM7 50h1v1h-1zM7 78h1v1h-1zM8 178h1v1h-1z"/><path fill="#d86c78" d="M10 44h1v1h-1zM12 183h1v1h-1zM13 111h1v1h-1z"/><path fill="#d87278" d="M10 63h1v1h-1zM13 70h1v1h-1z"/><path fill="#d84242" d="M11 82h1v1h-1z"/></g>
<g transform="translate(504.80 70.70) scale(6.1400 0.9986)"><path fill="#d8727e" d="M0 0h1v1h-1zM4 192h1v1h-1zM4 200h1v1h-1zM5 73h1v1h-1zM9 29h1v1h-1zM11 18h1v1h-1zM13 60h1v1h-1zM13 67h1v1h-1zM13 77h1v1h-1zM14 56h1v1h-1zM14 64h1v1h-1zM14 78h1v1h-1zM14 84h1v1h-1z"/><path fill="#d86c78" d="M0 1h1v1h-1zM5 213h1v1h-1z"/><path fill="#d85a66" d="M0 2h1v1h-1zM0 7h1v1h-1zM11 19h1v1h-1zM13 43h1v1h-1zM13 45h1v1h-1z"/><path fill="#d83636" d="M0 3h1v1h-1zM0 6h1v1h-1zM1 0h1v1h-1zM1 3h1v1h-1zM2 91h1v2h-1zM2 95h1v1h-1zM2 97h1v1h-1zM2 100h1v3h-1zM2 104h1v1h-1zM2 106h1v1h-1zM2 108h1v2h-1zM2 111h1v15h-1zM2 127h1v1h-1zM2 179h1v1h-1zM2 181h1v3h-1zM3 128h1v1h-1zM3 130h1v2h-1zM3 133h1v1h-1zM4 137h1v1h-1zM4 155h1v1h-1zM4 157h1v3h-1zM4 161h1v1h-1zM4 172h1v1h-1zM4 181h1v3h-1zM4 188h1v1h-1zM4 193h1v1h-1zM4 196h1v1h-1zM5 74h1v1h-1zM5 161h1v1h-1zM5 188h1v3h-1zM5 192h1v1h-1zM5 194h1v1h-1zM5 196h1v2h-1zM5 199h1v6h-1zM5 206h1v2h-1zM5 210h1v2h-1zM5 214h1v4h-1zM6 35h1v3h-1zM6 39h1v1h-1zM6 42h1v1h-1zM8 32h1v1h-1zM9 32h1v2h-1zM10 9h1v1h-1zM10 11h1v1h-1zM10 16h1v2h-1zM10 19h1v1h-1zM11 11h1v1h-1zM11 16h1v2h-1zM12 26h1v2h-1zM13 74h1v1h-1z"/><path fill="#d8484e" d="M0 4h1v1h-1zM2 177h1v1h-1zM3 129h1v1h-1zM4 154h1v1h-1zM4 166h1v1h-1zM4 208h1v1h-1zM5 148h1v1h-1zM5 209h1v1h-1zM6 38h1v1h-1zM10 20h1v1h-1zM11 13h1v1h-1zM12 24h1v1h-1z"/><path fill="#d83c42" d="M0 5h1v1h-1zM1 5h1v1h-1zM2 93h1v1h-1zM2 105h1v1h-1zM2 126h1v1h-1zM4 180h1v1h-1zM5 72h1v1h-1zM5 195h1v1h-1zM9 34h1v2h-1zM12 23h1v1h-1z"/><path fill="#d88a96" d="M0 8h1v1h-1zM2 61h1v1h-1zM2 75h1v1h-1zM2 188h1v1h-1zM2 198h1v2h-1zM2 202h1v1h-1zM4 136h1v1h-1zM4 138h1v1h-1zM4 177h1v2h-1zM4 185h1v1h-1zM5 158h1v1h-1zM5 187h1v1h-1zM10 37h1v1h-1zM10 43h1v1h-1zM10 53h1v1h-1zM11 14h1v1h-1zM11 48h1v1h-1zM11 71h1v2h-1zM11 74h1v1h-1zM11 78h1v1h-1zM12 45h1v1h-1zM12 55h1v1h-1zM12 72h1v1h-1zM13 47h1v1h-1zM13 83h1v1h-1zM13 86h1v1h-1zM13 88h1v2h-1zM13 159h1v1h-1zM13 188h1v1h-1zM14 43h1v1h-1zM14 59h1v2h-1z"/><path fill="#b4b4e4" d="M0 9h1v1h-1zM0 40h1v1h-1zM0 57h1v1h-1zM0 121h1v2h-1zM0 145h1v1h-1zM0 150h1v1h-1zM0 155h1v1h-1zM0 187h1v1h-1zM0 189h1v1h-1zM0 197h1v2h-1zM0 200h1v1h-1zM1 13h1v1h-1zM1 21h1v1h-1zM1 87h1v1h-1zM1 108h1v1h-1zM3 40h1v1h-1zM3 70h1v1h-1zM3 85h1v1h-1zM3 205h1v1h-1zM3 209h1v1h-1zM4 22h1v1h-1zM4 55h1v1h-1zM4 81h1v1h-1zM4 123h1v1h-1zM5 125h1v1h-1zM6 18h1v1h-1zM6 29h1v1h-1zM6 49h1v1h-1zM6 99h1v1h-1zM7 73h1v2h-1zM7 79h1v1h-1zM7 91h1v1h-1zM7 137h1v1h-1zM7 196h1v1h-1zM8 34h1v1h-1zM8 100h1v1h-1zM8 142h1v1h-1zM8 167h1v1h-1zM8 193h1v1h-1zM8 205h1v1h-1zM9 19h1v1h-1zM9 24h1v1h-1zM9 110h1v1h-1zM10 96h1v1h-1zM11 110h1v1h-1zM12 96h1v1h-1zM12 107h1v1h-1zM12 151h1v1h-1zM14 29h1v1h-1z"/><path fill="#c0c0e4" d="M0 10h1v1h-1zM0 17h1v1h-1zM0 27h1v1h-1zM0 38h1v1h-1zM0 119h1v1h-1zM0 136h1v1h-1zM0 143h1v1h-1zM0 162h1v1h-1zM0 166h1v1h-1zM1 74h1v1h-1zM1 117h1v1h-1zM1 155h1v1h-1zM1 172h1v1h-1zM1 182h1v1h-1zM2 14h1v1h-1zM2 24h1v1h-1zM2 49h1v1h-1zM3 7h1v1h-1zM3 13h1v1h-1zM3 41h1v1h-1zM3 51h1v1h-1zM3 101h1v1h-1zM3 105h1v1h-1zM3 140h1v1h-1zM3 146h1v1h-1zM3 151h1v1h-1zM3 167h1v1h-1zM3 169h1v1h-1zM3 177h1v1h-1zM3 190h1v1h-1zM3 193h1v1h-1zM3 213h1v1h-1zM4 1h1v1h-1zM4 6h1v1h-1zM4 16h1v1h-1zM4 35h1v2h-1zM5 18h1v1h-1zM5 130h1v1h-1zM6 8h1v1h-1zM6 10h1v1h-1zM6 20h1v1h-1zM6 31h1v1h-1zM6 63h1v1h-1zM6 82h1v1h-1zM6 87h1v1h-1zM6 94h1v1h-1zM6 142h1v1h-1zM6 149h1v1h-1zM6 153h1v2h-1zM6 156h1v1h-1zM6 178h1v1h-1zM6 217h1v1h-1zM7 16h1v1h-1zM7 27h1v1h-1zM7 87h1v1h-1zM7 119h1v1h-1zM7 188h1v1h-1zM8 21h1v1h-1zM8 47h1v1h-1zM8 65h1v1h-1zM8 81h1v1h-1zM8 93h1v1h-1zM8 101h1v1h-1zM8 103h1v1h-1zM8 108h1v1h-1zM8 118h1v2h-1zM8 124h1v1h-1zM8 146h1v1h-1zM8 149h1v1h-1zM8 153h1v1h-1zM9 13h1v1h-1zM9 18h1v1h-1zM9 20h1v1h-1zM9 23h1v1h-1zM9 62h1v1h-1zM9 80h1v1h-1zM9 94h1v2h-1zM9 111h1v1h-1zM9 135h1v1h-1zM9 144h1v1h-1zM9 149h1v1h-1zM9 151h1v1h-1zM9 190h1v1h-1zM9 193h1v1h-1zM10 29h1v1h-1zM10 126h1v1h-1zM11 29h1v1h-1zM12 185h1v1h-1zM13 8h1v1h-1zM13 22h1v1h-1zM13 103h1v1h-1zM13 176h1v1h-1zM14 8h1v1h-1zM14 17h1v1h-1zM14 31h1v1h-1zM14 41h1v1h-1zM14 98h1v1h-1zM14 107h1v1h-1zM14 205h1v1h-1z"/><path fill="#babae4" d="M0 11h1v1h-1zM0 41h1v1h-1zM0 78h1v1h-1zM0 91h1v1h-1zM0 126h1v1h-1zM0 131h1v1h-1zM0 134h1v1h-1zM0 174h1v1h-1zM0 202h1v1h-1zM0 206h1v2h-1zM0 214h1v1h-1zM1 39h1v1h-1zM1 45h1v1h-1zM1 93h1v1h-1zM1 112h1v1h-1zM1 115h1v1h-1zM1 124h1v1h-1zM1 179h1v1h-1zM1 197h1v1h-1zM3 18h1v1h-1zM3 20h1v1h-1zM3 23h1v2h-1zM3 26h1v1h-1zM3 44h1v1h-1zM3 142h1v1h-1zM3 165h1v1h-1zM3 191h1v1h-1zM4 37h1v1h-1zM4 39h1v1h-1zM4 60h1v1h-1zM4 72h1v1h-1zM4 120h1v1h-1zM5 19h1v1h-1zM5 25h1v1h-1zM5 46h1v1h-1zM5 84h1v1h-1zM5 98h1v1h-1zM5 105h1v1h-1zM5 110h1v1h-1zM6 98h1v1h-1zM6 103h1v1h-1zM6 105h1v1h-1zM6 132h1v1h-1zM6 151h1v1h-1zM7 32h1v1h-1zM7 48h1v1h-1zM7 171h1v1h-1zM7 207h1v1h-1zM8 0h1v1h-1zM8 8h1v1h-1zM8 13h1v1h-1zM8 18h1v1h-1zM8 20h1v1h-1zM8 23h1v1h-1zM8 82h1v1h-1zM8 94h1v1h-1zM8 144h1v1h-1zM8 154h1v1h-1zM9 10h1v1h-1zM9 40h1v1h-1zM9 46h1v1h-1zM9 154h1v1h-1zM9 165h1v1h-1zM9 191h1v1h-1zM9 209h1v1h-1zM12 184h1v1h-1zM13 13h1v1h-1zM13 20h1v1h-1zM13 28h1v1h-1zM14 13h1v1h-1zM14 185h1v1h-1z"/><path fill="#a2a8de" d="M0 12h1v1h-1zM0 14h1v1h-1zM0 46h1v1h-1zM0 75h1v1h-1zM0 77h1v1h-1zM0 83h1v1h-1zM0 87h1v1h-1zM0 132h1v1h-1zM0 135h1v1h-1zM0 138h1v1h-1zM0 141h1v1h-1zM0 149h1v1h-1zM0 163h1v1h-1zM0 210h1v1h-1zM0 217h1v1h-1zM1 30h1v1h-1zM1 103h1v1h-1zM1 113h1v1h-1zM1 116h1v1h-1zM1 130h1v1h-1zM1 147h1v1h-1zM1 150h1v1h-1zM1 158h1v1h-1zM1 175h1v1h-1zM1 214h1v1h-1zM3 34h1v1h-1zM3 98h1v1h-1zM4 13h1v1h-1zM4 21h1v1h-1zM4 38h1v1h-1zM4 41h1v1h-1zM4 61h1v1h-1zM4 74h1v1h-1zM4 108h1v2h-1zM6 129h1v1h-1zM7 0h1v1h-1zM7 9h1v1h-1zM7 55h1v1h-1zM7 72h1v1h-1zM7 115h1v1h-1zM7 140h1v1h-1zM7 166h1v1h-1zM7 201h1v1h-1zM7 203h1v1h-1zM8 7h1v1h-1zM8 25h1v1h-1zM8 50h1v1h-1zM8 105h1v1h-1zM8 165h1v1h-1zM8 176h1v1h-1zM8 184h1v1h-1zM8 198h1v1h-1zM9 14h1v1h-1zM9 107h1v1h-1zM9 205h1v1h-1zM12 15h1v1h-1zM13 25h1v1h-1zM13 29h1v1h-1zM14 12h1v1h-1zM14 14h1v1h-1zM14 40h1v1h-1z"/><path fill="#b4bae4" d="M0 13h1v1h-1zM0 44h1v1h-1zM0 74h1v1h-1zM0 81h1v1h-1zM0 124h1v1h-1zM0 208h1v1h-1zM1 104h1v1h-1zM1 119h1v1h-1zM1 122h1v1h-1zM1 125h1v1h-1zM3 31h1v1h-1zM3 90h1v1h-1zM3 173h1v1h-1zM4 42h1v1h-1zM5 29h1v1h-1zM6 34h1v1h-1zM6 193h1v1h-1zM7 159h1v1h-1zM8 14h1v1h-1zM8 35h1v1h-1zM8 62h1v1h-1zM8 106h1v1h-1zM8 135h1v1h-1zM9 132h1v1h-1zM9 148h1v1h-1zM9 156h1v1h-1zM11 129h1v1h-1zM13 18h1v1h-1zM13 26h1v1h-1zM13 30h1v1h-1zM14 20h1v1h-1zM14 23h1v1h-1z"/><path fill="#7278cc" d="M0 15h1v1h-1zM1 107h1v1h-1z"/><path fill="#ded8ea" d="M0 16h1v1h-1zM0 37h1v1h-1zM0 48h1v1h-1zM0 102h1v1h-1zM0 104h1v1h-1zM0 106h1v1h-1zM0 127h1v1h-1zM2 4h1v1h-1zM2 23h1v1h-1zM2 34h1v1h-1zM2 44h1v1h-1zM2 47h1v1h-1zM2 65h1v1h-1zM2 74h1v1h-1zM2 131h1v1h-1zM2 205h1v2h-1zM2 209h1v1h-1zM2 217h1v1h-1zM3 2h1v1h-1zM3 5h1v1h-1zM3 21h1v1h-1zM3 55h1v2h-1zM3 58h1v1h-1zM3 73h1v1h-1zM3 87h1v1h-1zM3 97h1v1h-1zM3 106h1v1h-1zM3 137h1v1h-1zM3 175h1v1h-1zM3 179h1v1h-1zM3 203h1v1h-1zM5 2h1v1h-1zM5 4h1v1h-1zM5 59h1v1h-1zM5 119h1v1h-1zM5 185h1v1h-1zM6 17h1v1h-1zM6 27h1v1h-1zM6 33h1v1h-1zM6 59h1v1h-1zM6 64h1v1h-1zM6 71h1v1h-1zM6 78h1v1h-1zM6 108h1v1h-1zM6 128h1v1h-1zM6 207h1v1h-1zM6 212h1v1h-1zM8 5h1v1h-1zM8 48h1v1h-1zM8 74h1v1h-1zM8 175h1v1h-1zM9 27h1v1h-1zM9 45h1v1h-1zM9 67h1v1h-1zM9 87h1v1h-1zM9 100h1v1h-1zM9 102h1v1h-1zM9 136h1v1h-1zM9 155h1v1h-1zM9 178h1v1h-1zM9 181h1v1h-1zM9 183h1v1h-1zM9 187h1v1h-1zM9 195h1v1h-1zM9 200h1v2h-1zM10 25h1v1h-1zM10 46h1v1h-1zM10 49h1v1h-1zM10 52h1v1h-1zM10 92h1v1h-1zM10 97h1v1h-1zM10 111h1v1h-1zM10 116h1v1h-1zM10 125h1v1h-1zM10 135h1v1h-1zM10 183h1v2h-1zM10 217h1v1h-1zM11 103h1v1h-1zM11 105h1v2h-1zM11 126h1v1h-1zM11 153h1v1h-1zM11 178h1v1h-1zM11 190h1v1h-1zM11 213h1v1h-1zM12 31h1v1h-1zM12 85h1v1h-1zM12 95h1v1h-1zM12 105h1v1h-1zM12 129h1v1h-1zM12 146h1v1h-1zM12 168h1v1h-1zM12 189h1v1h-1zM12 191h1v1h-1zM12 211h1v1h-1zM12 216h1v1h-1zM13 27h1v1h-1zM13 36h1v2h-1zM13 90h1v1h-1zM13 97h1v1h-1zM13 141h1v1h-1zM13 145h1v1h-1zM13 149h1v1h-1zM13 160h1v1h-1zM13 194h1v1h-1zM14 11h1v1h-1zM14 32h1v2h-1zM14 91h1v1h-1zM14 115h1v1h-1zM14 135h1v1h-1zM14 153h1v1h-1zM14 165h1v1h-1zM14 170h1v2h-1zM14 175h1v1h-1zM14 180h1v1h-1zM14 184h1v1h-1zM14 189h1v1h-1zM14 217h1v1h-1z"/><path fill="#c6c6ea" d="M0 18h1v1h-1zM0 39h1v1h-1zM0 45h1v1h-1zM0 47h1v1h-1zM0 92h1v1h-1zM0 133h1v1h-1zM0 159h1v1h-1zM0 186h1v1h-1zM0 188h1v1h-1zM0 215h1v1h-1zM1 17h1v1h-1zM1 41h1v1h-1zM1 44h1v1h-1zM1 47h1v2h-1zM1 101h1v1h-1zM1 109h1v1h-1zM1 181h1v1h-1zM2 12h1v1h-1zM2 38h1v1h-1zM2 84h1v1h-1zM3 17h1v1h-1zM3 28h1v1h-1zM3 35h1v1h-1zM3 53h1v1h-1zM3 69h1v1h-1zM3 136h1v1h-1zM3 139h1v1h-1zM3 144h1v1h-1zM3 154h1v1h-1zM3 198h1v1h-1zM4 127h1v1h-1zM5 7h1v1h-1zM5 26h1v1h-1zM5 63h1v2h-1zM5 82h1v1h-1zM5 85h1v1h-1zM5 107h1v1h-1zM5 121h1v2h-1zM5 129h1v1h-1zM5 132h1v1h-1zM6 7h1v1h-1zM6 23h1v1h-1zM6 65h1v1h-1zM6 88h1v1h-1zM6 115h1v1h-1zM6 126h1v1h-1zM6 135h1v1h-1zM6 168h1v1h-1zM6 189h1v1h-1zM6 192h1v1h-1zM7 161h1v1h-1zM7 199h1v1h-1zM8 2h1v1h-1zM8 22h1v1h-1zM8 54h1v1h-1zM8 56h1v1h-1zM8 75h1v1h-1zM8 77h1v1h-1zM8 86h1v1h-1zM8 97h1v1h-1zM8 104h1v1h-1zM8 113h1v1h-1zM8 131h1v1h-1zM8 157h1v1h-1zM8 160h1v1h-1zM8 174h1v1h-1zM8 195h1v1h-1zM8 204h1v1h-1zM8 206h1v1h-1zM8 208h1v1h-1zM9 70h1v1h-1zM9 84h1v1h-1zM9 112h1v1h-1zM9 115h1v1h-1zM10 40h1v1h-1zM10 169h1v1h-1zM12 110h1v1h-1zM12 121h1v1h-1zM12 176h1v1h-1zM13 7h1v1h-1zM13 24h1v1h-1zM13 151h1v1h-1zM13 205h1v1h-1zM14 4h1v1h-1zM14 116h1v1h-1zM14 132h1v1h-1zM14 190h1v1h-1zM14 194h1v1h-1z"/><path fill="#9ca2de" d="M0 19h1v2h-1zM0 64h1v1h-1zM0 116h1v1h-1zM0 130h1v1h-1zM0 193h1v1h-1zM0 204h1v1h-1zM1 7h1v1h-1zM1 78h1v1h-1zM1 95h1v1h-1zM1 110h1v1h-1zM1 137h1v1h-1zM1 143h1v1h-1zM1 166h1v1h-1zM1 193h1v1h-1zM1 210h1v1h-1zM3 84h1v1h-1zM3 103h1v1h-1zM4 2h1v1h-1zM4 31h1v1h-1zM4 51h1v1h-1zM4 78h1v1h-1zM4 93h1v1h-1zM6 205h1v1h-1zM7 1h1v1h-1zM7 11h1v1h-1zM7 31h1v1h-1zM7 59h1v2h-1zM7 123h1v1h-1zM7 127h1v1h-1zM7 175h1v1h-1zM7 192h1v1h-1zM7 208h1v1h-1zM9 49h1v1h-1z"/><path fill="#c0c6e4" d="M0 21h1v1h-1zM0 147h1v1h-1zM1 128h1v1h-1zM6 130h1v1h-1zM6 160h1v1h-1zM6 180h1v1h-1zM8 45h1v1h-1zM8 139h1v1h-1zM9 216h1v1h-1zM10 107h1v1h-1zM10 130h1v1h-1zM14 9h1v1h-1z"/><path fill="#d2d2ea" d="M0 22h1v1h-1zM0 32h1v1h-1zM0 128h1v1h-1zM0 179h1v1h-1zM0 181h1v1h-1zM0 196h1v1h-1zM0 203h1v1h-1zM1 36h1v1h-1zM1 102h1v1h-1zM1 123h1v1h-1zM2 25h1v1h-1zM2 46h1v1h-1zM2 82h1v1h-1zM2 89h1v1h-1zM2 149h1v1h-1zM2 171h1v1h-1zM3 11h1v1h-1zM3 38h1v1h-1zM3 47h1v1h-1zM3 63h1v1h-1zM3 65h1v1h-1zM3 68h1v1h-1zM3 76h1v1h-1zM3 86h1v1h-1zM3 102h1v1h-1zM3 116h1v1h-1zM3 121h1v1h-1zM3 134h1v2h-1zM3 147h1v1h-1zM3 153h1v1h-1zM3 164h1v1h-1zM3 184h1v1h-1zM3 197h1v1h-1zM3 202h1v1h-1zM3 204h1v1h-1zM3 212h1v1h-1zM4 114h1v1h-1zM5 10h1v1h-1zM5 13h1v1h-1zM5 30h1v1h-1zM5 33h1v1h-1zM5 35h1v1h-1zM5 38h1v1h-1zM5 44h1v1h-1zM5 50h1v1h-1zM5 68h1v1h-1zM5 93h1v1h-1zM5 99h1v1h-1zM5 101h1v1h-1zM5 116h1v1h-1zM5 131h1v1h-1zM6 51h1v1h-1zM6 54h1v1h-1zM6 79h1v1h-1zM6 85h1v2h-1zM6 95h1v1h-1zM6 104h1v1h-1zM6 111h1v3h-1zM6 117h1v1h-1zM6 134h1v1h-1zM6 158h1v1h-1zM6 163h1v1h-1zM6 195h1v1h-1zM6 202h1v2h-1zM8 1h1v1h-1zM8 11h1v1h-1zM8 17h1v1h-1zM8 36h1v1h-1zM8 41h1v1h-1zM8 51h1v1h-1zM8 53h1v1h-1zM8 70h1v1h-1zM8 72h1v1h-1zM8 91h1v2h-1zM8 150h1v1h-1zM8 152h1v1h-1zM8 158h1v1h-1zM8 178h1v1h-1zM8 183h1v1h-1zM8 200h1v1h-1zM8 202h1v1h-1zM9 2h1v1h-1zM9 38h1v1h-1zM9 65h1v1h-1zM9 68h1v1h-1zM9 90h1v1h-1zM9 125h1v1h-1zM9 131h1v1h-1zM9 140h1v1h-1zM9 153h1v1h-1zM9 157h1v1h-1zM9 170h1v2h-1zM9 177h1v1h-1zM9 208h1v1h-1zM9 215h1v1h-1zM10 7h1v1h-1zM10 31h1v1h-1zM10 94h1v1h-1zM10 132h1v1h-1zM10 141h1v2h-1zM10 145h1v1h-1zM10 163h1v1h-1zM10 176h1v1h-1zM10 190h1v1h-1zM10 209h1v1h-1zM10 213h1v1h-1zM11 30h1v1h-1zM11 90h1v1h-1zM11 121h1v1h-1zM11 132h1v1h-1zM11 154h1v1h-1zM11 180h1v1h-1zM11 209h1v1h-1zM12 90h1v1h-1zM12 116h1v1h-1zM12 125h1v1h-1zM12 162h1v1h-1zM12 177h1v2h-1zM12 198h1v1h-1zM13 2h1v1h-1zM13 17h1v1h-1zM13 95h1v1h-1zM13 99h1v1h-1zM13 108h1v1h-1zM13 112h1v1h-1zM13 130h1v1h-1zM13 156h1v1h-1zM13 217h1v1h-1zM14 2h1v1h-1zM14 35h1v1h-1zM14 90h1v1h-1zM14 103h1v1h-1zM14 110h1v1h-1zM14 151h1v1h-1zM14 176h1v1h-1zM14 209h1v1h-1z"/><path fill="#8490d2" d="M0 23h1v2h-1zM0 68h1v1h-1zM0 70h1v1h-1zM1 79h1v1h-1zM1 99h1v1h-1zM1 216h1v1h-1zM3 52h1v1h-1zM4 18h1v1h-1zM4 34h1v1h-1zM4 84h1v1h-1zM4 92h1v1h-1zM4 124h1v1h-1zM7 2h1v1h-1zM7 7h1v1h-1zM7 50h1v1h-1zM7 97h1v1h-1zM7 100h1v2h-1zM7 108h1v1h-1zM7 153h1v1h-1zM7 164h1v1h-1zM7 183h1v1h-1zM7 206h1v1h-1z"/><path fill="#7884d2" d="M0 25h1v1h-1zM0 49h1v1h-1zM0 165h1v1h-1zM0 177h1v2h-1zM1 56h1v1h-1zM1 69h1v1h-1zM1 76h1v1h-1zM1 81h1v1h-1zM1 96h1v1h-1zM1 138h1v1h-1zM1 204h1v1h-1zM4 94h1v2h-1zM4 101h1v1h-1zM4 116h1v1h-1zM4 131h1v1h-1zM7 13h1v1h-1zM7 23h1v1h-1zM7 109h1v1h-1zM7 136h1v1h-1zM7 156h1v1h-1zM7 165h1v1h-1zM7 176h1v1h-1zM13 15h1v1h-1z"/><path fill="#8a96d8" d="M0 26h1v1h-1zM0 69h1v1h-1zM0 71h1v1h-1zM0 88h1v1h-1zM1 64h1v1h-1zM1 152h1v1h-1zM1 164h1v1h-1zM1 189h1v1h-1zM4 23h1v1h-1zM7 30h1v1h-1zM7 45h1v1h-1zM7 83h1v1h-1zM7 135h1v1h-1zM7 139h1v1h-1zM7 157h1v1h-1zM7 177h1v1h-1zM7 179h1v1h-1zM9 15h1v1h-1z"/><path fill="#9096d8" d="M0 28h1v1h-1zM0 30h1v1h-1zM0 51h1v1h-1zM0 72h1v1h-1zM0 80h1v1h-1zM0 86h1v1h-1zM0 107h1v1h-1zM0 129h1v1h-1zM0 151h1v1h-1zM0 154h1v1h-1zM0 156h1v1h-1zM0 213h1v1h-1zM1 14h1v1h-1zM1 19h1v1h-1zM1 24h1v1h-1zM1 46h1v1h-1zM1 88h1v1h-1zM1 105h1v1h-1zM1 135h1v1h-1zM1 207h1v1h-1zM3 12h1v1h-1zM4 44h1v1h-1zM4 53h1v1h-1zM4 65h1v1h-1zM4 88h1v1h-1zM4 104h1v2h-1zM4 119h1v1h-1zM4 121h1v2h-1zM7 47h1v1h-1zM7 54h1v1h-1zM7 61h1v1h-1zM7 78h1v1h-1zM7 81h1v1h-1zM7 86h1v1h-1zM7 89h1v1h-1zM7 104h1v1h-1zM7 116h1v1h-1zM7 120h1v1h-1zM7 128h1v1h-1zM7 146h1v1h-1zM7 155h1v1h-1zM7 181h1v1h-1zM7 194h1v1h-1zM7 198h1v1h-1zM8 151h1v1h-1zM9 12h1v1h-1z"/><path fill="#5a6cc6" d="M0 29h1v1h-1zM0 62h1v1h-1zM0 90h1v1h-1zM1 15h1v1h-1zM1 49h1v1h-1zM1 52h1v1h-1zM1 62h1v2h-1zM1 70h1v1h-1zM1 75h1v1h-1zM1 82h1v1h-1zM1 84h1v2h-1zM1 145h1v1h-1zM1 165h1v1h-1zM1 167h1v2h-1zM1 205h1v1h-1zM1 213h1v1h-1zM4 15h1v1h-1zM4 25h1v1h-1zM4 29h1v1h-1zM4 46h1v1h-1zM4 90h1v1h-1zM4 96h1v1h-1zM4 107h1v1h-1zM4 130h1v1h-1zM7 15h1v1h-1zM7 19h1v1h-1zM7 25h1v1h-1zM7 29h1v1h-1zM7 84h1v1h-1zM7 96h1v1h-1zM7 107h1v1h-1zM7 110h1v1h-1zM7 126h1v1h-1zM7 129h1v1h-1zM7 145h1v1h-1zM7 168h1v1h-1zM7 178h1v1h-1zM7 184h1v2h-1zM7 191h1v1h-1zM7 205h1v1h-1zM7 213h1v1h-1z"/><path fill="#aeb4e4" d="M0 31h1v1h-1zM0 201h1v1h-1zM1 27h1v1h-1zM1 43h1v1h-1zM1 196h1v1h-1zM1 202h1v1h-1zM5 52h1v1h-1zM6 14h1v1h-1zM6 46h1v1h-1zM6 165h1v1h-1zM6 191h1v1h-1zM7 200h1v1h-1zM9 141h1v1h-1zM13 142h1v1h-1z"/><path fill="#a8aede" d="M0 33h1v1h-1zM0 105h1v1h-1zM0 152h1v1h-1zM0 173h1v1h-1zM0 192h1v1h-1zM0 194h1v1h-1zM0 212h1v1h-1zM0 216h1v1h-1zM1 8h1v1h-1zM1 55h1v1h-1zM1 57h1v1h-1zM1 77h1v1h-1zM1 98h1v1h-1zM1 141h1v1h-1zM1 149h1v1h-1zM1 188h1v1h-1zM1 215h1v1h-1zM3 46h1v1h-1zM3 88h1v1h-1zM3 92h1v1h-1zM4 0h1v1h-1zM4 5h1v1h-1zM4 73h1v1h-1zM4 91h1v1h-1zM4 97h1v1h-1zM5 12h1v1h-1zM5 14h1v1h-1zM6 25h1v1h-1zM6 176h1v1h-1zM6 185h1v1h-1zM7 21h1v1h-1zM7 51h1v1h-1zM7 57h1v1h-1zM7 65h1v1h-1zM7 102h1v1h-1zM7 117h1v1h-1zM7 211h1v1h-1zM8 12h1v1h-1zM8 19h1v1h-1zM8 38h1v1h-1zM8 40h1v1h-1zM8 89h1v1h-1zM8 107h1v1h-1zM8 115h1v1h-1zM8 132h1v1h-1zM8 141h1v1h-1zM8 217h1v1h-1zM9 8h1v1h-1zM9 142h1v1h-1zM9 213h1v1h-1zM10 185h1v1h-1zM11 96h1v1h-1zM11 185h1v1h-1zM14 7h1v1h-1z"/><path fill="#8a90d8" d="M0 34h1v1h-1zM0 76h1v1h-1zM0 84h1v1h-1zM0 125h1v1h-1zM0 153h1v1h-1zM0 184h1v1h-1zM0 191h1v1h-1zM1 66h1v1h-1zM1 71h1v1h-1zM1 144h1v1h-1zM1 157h1v1h-1zM1 199h1v1h-1zM3 96h1v1h-1zM4 10h1v1h-1zM4 69h1v1h-1zM4 82h1v1h-1zM4 89h1v1h-1zM7 5h1v1h-1zM7 26h1v1h-1zM7 70h1v1h-1zM7 144h1v1h-1zM7 174h1v1h-1zM7 186h1v1h-1zM7 216h1v1h-1zM9 85h1v1h-1z"/><path fill="#aeaede" d="M0 35h1v1h-1zM0 99h1v1h-1zM0 164h1v1h-1zM1 97h1v1h-1zM1 106h1v1h-1zM1 111h1v1h-1zM1 118h1v1h-1zM1 159h1v1h-1zM3 66h1v1h-1zM3 145h1v1h-1zM3 176h1v1h-1zM3 185h1v1h-1zM4 11h1v1h-1zM4 45h1v1h-1zM4 56h1v2h-1zM4 67h1v1h-1zM4 106h1v1h-1zM4 118h1v1h-1zM5 95h1v1h-1zM6 12h1v1h-1zM6 116h1v1h-1zM6 213h1v1h-1zM7 133h1v1h-1zM7 143h1v1h-1zM7 152h1v1h-1zM7 158h1v1h-1zM7 187h1v1h-1zM8 24h1v1h-1zM8 33h1v1h-1zM8 68h1v1h-1zM8 90h1v1h-1zM8 99h1v1h-1zM8 121h1v1h-1zM8 125h1v1h-1zM8 163h1v1h-1zM8 168h1v1h-1zM9 160h1v1h-1zM13 185h1v1h-1zM14 25h1v1h-1zM14 96h1v1h-1z"/><path fill="#ded2e4" d="M0 36h1v1h-1zM2 8h1v1h-1zM2 18h1v1h-1zM2 39h1v1h-1zM2 43h1v1h-1zM2 53h1v1h-1zM2 70h1v1h-1zM2 86h1v1h-1zM2 139h1v1h-1zM2 169h1v1h-1zM3 60h1v1h-1zM3 74h1v1h-1zM3 100h1v1h-1zM3 143h1v1h-1zM3 181h1v1h-1zM3 196h1v1h-1zM3 207h1v1h-1zM5 1h1v1h-1zM5 11h1v1h-1zM5 16h1v1h-1zM5 21h1v1h-1zM5 28h1v1h-1zM5 39h1v1h-1zM5 67h1v1h-1zM5 128h1v1h-1zM5 169h1v1h-1zM6 43h1v1h-1zM6 56h1v2h-1zM6 66h1v1h-1zM6 73h1v1h-1zM6 77h1v1h-1zM6 102h1v1h-1zM6 137h1v1h-1zM6 200h1v2h-1zM8 3h1v1h-1zM8 9h1v1h-1zM8 55h1v1h-1zM8 60h1v1h-1zM8 78h1v1h-1zM8 120h1v1h-1zM8 138h1v1h-1zM8 173h1v1h-1zM8 179h1v1h-1zM8 188h1v1h-1zM8 196h1v1h-1zM8 214h1v1h-1zM9 63h1v1h-1zM9 120h1v1h-1zM9 166h1v1h-1zM9 175h1v1h-1zM9 179h1v1h-1zM9 207h1v1h-1zM10 22h1v1h-1zM10 39h1v1h-1zM10 82h1v1h-1zM10 119h1v1h-1zM10 128h1v1h-1zM10 140h1v1h-1zM10 144h1v1h-1zM10 150h1v2h-1zM10 158h1v1h-1zM10 168h1v1h-1zM10 170h1v1h-1zM10 174h1v1h-1zM10 186h1v1h-1zM10 191h1v1h-1zM10 198h1v1h-1zM11 7h1v1h-1zM11 23h1v1h-1zM11 26h1v1h-1zM11 68h1v1h-1zM11 98h1v3h-1zM11 104h1v1h-1zM11 119h1v1h-1zM11 122h1v1h-1zM11 138h1v1h-1zM11 148h1v1h-1zM11 179h1v1h-1zM11 189h1v1h-1zM11 202h1v1h-1zM11 214h1v1h-1zM11 216h1v1h-1zM12 2h1v1h-1zM12 18h1v1h-1zM12 33h1v1h-1zM12 52h1v1h-1zM12 68h1v1h-1zM12 82h1v1h-1zM12 92h1v1h-1zM12 101h1v1h-1zM12 144h1v1h-1zM12 152h1v1h-1zM12 190h1v1h-1zM12 195h1v1h-1zM13 116h1v1h-1zM13 119h1v1h-1zM13 124h1v1h-1zM13 146h1v1h-1zM13 165h1v1h-1zM13 204h1v1h-1zM14 1h1v1h-1zM14 16h1v1h-1zM14 126h1v1h-1zM14 140h1v2h-1zM14 144h1v1h-1zM14 208h1v1h-1zM14 212h1v1h-1z"/><path fill="#d2ccea" d="M0 42h1v1h-1zM0 118h1v1h-1zM0 171h1v1h-1zM3 8h1v1h-1zM3 33h1v1h-1zM3 54h1v1h-1zM3 89h1v1h-1zM3 95h1v1h-1zM3 126h1v1h-1zM3 148h1v1h-1zM3 157h1v1h-1zM3 170h1v1h-1zM3 206h1v1h-1zM3 210h1v1h-1zM5 86h1v1h-1zM5 100h1v1h-1zM5 124h1v1h-1zM6 13h1v1h-1zM6 50h1v1h-1zM6 80h1v1h-1zM6 138h1v1h-1zM6 146h1v1h-1zM6 170h1v1h-1zM6 173h1v1h-1zM8 69h1v1h-1zM8 73h1v1h-1zM8 117h1v1h-1zM8 122h1v1h-1zM9 7h1v1h-1zM9 44h1v1h-1zM9 51h1v1h-1zM9 56h1v1h-1zM9 133h1v1h-1zM9 139h1v1h-1zM9 145h1v1h-1zM9 167h1v1h-1zM10 165h1v1h-1zM11 40h1v1h-1zM12 124h1v1h-1zM13 9h1v1h-1zM13 33h1v1h-1zM13 115h1v1h-1zM13 213h1v1h-1zM14 26h1v1h-1zM14 38h1v1h-1zM14 99h1v1h-1zM14 138h1v1h-1z"/><path fill="#d8d2ea" d="M0 43h1v1h-1zM0 93h1v1h-1zM1 9h1v1h-1zM1 32h1v1h-1zM2 33h1v1h-1zM2 129h1v1h-1zM3 61h1v1h-1zM3 71h1v2h-1zM3 80h1v1h-1zM3 120h1v1h-1zM3 124h1v1h-1zM3 160h1v1h-1zM3 178h1v1h-1zM5 23h1v1h-1zM5 51h1v1h-1zM5 56h1v1h-1zM5 66h1v1h-1zM5 89h1v2h-1zM5 94h1v1h-1zM6 9h1v1h-1zM6 44h1v1h-1zM6 100h1v1h-1zM6 125h1v1h-1zM6 131h1v1h-1zM6 140h1v1h-1zM6 147h1v1h-1zM6 157h1v1h-1zM6 167h1v1h-1zM6 171h1v1h-1zM6 190h1v1h-1zM6 199h1v1h-1zM6 206h1v1h-1zM8 27h1v1h-1zM8 42h1v1h-1zM8 61h1v1h-1zM8 83h1v1h-1zM8 162h1v1h-1zM8 182h1v1h-1zM8 187h1v1h-1zM8 201h1v1h-1zM8 207h1v1h-1zM8 213h1v1h-1zM9 11h1v1h-1zM9 22h1v1h-1zM9 43h1v1h-1zM9 48h1v1h-1zM9 50h1v1h-1zM9 101h1v1h-1zM9 146h1v1h-1zM9 173h1v1h-1zM9 206h1v1h-1zM10 148h1v1h-1zM10 156h1v1h-1zM10 194h1v1h-1zM11 92h1v1h-1zM11 111h1v1h-1zM11 186h1v1h-1zM12 131h1v1h-1zM12 145h1v1h-1zM13 14h1v1h-1zM13 94h1v1h-1zM13 118h1v1h-1zM13 125h1v1h-1zM13 154h1v1h-1zM14 39h1v1h-1zM14 124h1v2h-1zM14 131h1v1h-1zM14 154h1v1h-1z"/><path fill="#727ecc" d="M0 50h1v1h-1zM0 61h1v1h-1zM0 63h1v1h-1zM1 12h1v1h-1zM1 151h1v1h-1zM1 156h1v1h-1zM1 163h1v1h-1zM1 184h1v1h-1zM1 190h1v1h-1zM1 192h1v1h-1zM4 19h1v1h-1zM4 43h1v1h-1zM4 62h1v1h-1zM4 75h1v1h-1zM7 17h1v2h-1zM7 52h1v1h-1zM7 76h1v1h-1zM7 85h1v1h-1zM7 105h1v1h-1zM7 142h1v1h-1zM7 163h1v1h-1zM7 189h1v1h-1z"/><path fill="#606ccc" d="M0 52h1v1h-1zM1 169h1v1h-1zM7 190h1v1h-1zM7 209h1v1h-1z"/><path fill="#a8a8de" d="M0 53h1v1h-1zM0 103h1v1h-1zM0 180h1v1h-1zM1 28h1v1h-1zM1 140h1v1h-1zM4 4h1v1h-1zM4 24h1v1h-1zM4 28h1v1h-1zM4 102h1v1h-1zM6 96h1v1h-1zM7 215h1v1h-1zM8 88h1v1h-1zM8 98h1v1h-1zM8 129h1v1h-1zM8 191h1v1h-1zM8 194h1v1h-1zM13 40h1v1h-1zM13 96h1v1h-1zM14 34h1v1h-1z"/><path fill="#848ad2" d="M0 54h1v1h-1zM0 59h1v1h-1zM0 65h1v1h-1zM0 96h1v1h-1zM0 168h1v2h-1zM1 68h1v1h-1zM1 86h1v1h-1zM1 136h1v1h-1zM1 176h1v1h-1zM1 187h1v1h-1zM1 195h1v1h-1zM4 20h1v1h-1zM4 48h1v1h-1zM4 83h1v1h-1zM4 115h1v1h-1zM7 49h1v1h-1zM7 92h1v1h-1zM7 141h1v1h-1zM7 160h1v1h-1zM7 197h1v1h-1zM9 185h1v1h-1z"/><path fill="#c6c6e4" d="M0 55h1v1h-1zM0 111h1v1h-1zM0 140h1v1h-1zM0 175h1v1h-1zM1 92h1v1h-1zM3 14h1v1h-1zM3 83h1v1h-1zM3 94h1v1h-1zM3 104h1v1h-1zM4 32h1v1h-1zM4 77h1v1h-1zM5 8h1v1h-1zM6 24h1v1h-1zM6 47h1v1h-1zM6 68h1v1h-1zM7 3h1v1h-1zM8 26h1v1h-1zM8 80h1v1h-1zM8 102h1v1h-1zM8 126h1v1h-1zM8 156h1v1h-1zM8 164h1v1h-1zM8 177h1v1h-1zM9 217h1v1h-1zM12 29h1v1h-1zM12 98h1v1h-1zM12 126h1v1h-1zM13 31h1v1h-1zM13 34h1v1h-1zM13 132h1v1h-1zM14 142h1v1h-1z"/><path fill="#aeb4de" d="M0 56h1v1h-1zM0 60h1v1h-1zM0 100h1v1h-1zM0 112h1v1h-1zM0 158h1v1h-1zM1 11h1v1h-1zM1 16h1v1h-1zM1 33h1v1h-1zM1 131h1v1h-1zM1 148h1v1h-1zM1 200h1v1h-1zM2 15h1v1h-1zM2 29h1v1h-1zM3 10h1v1h-1zM3 30h1v1h-1zM3 141h1v1h-1zM4 26h1v1h-1zM4 133h1v1h-1zM6 30h1v1h-1zM6 52h1v1h-1zM7 77h1v1h-1zM8 10h1v1h-1zM8 49h1v1h-1zM8 85h1v1h-1zM8 111h1v1h-1zM8 116h1v1h-1zM8 145h1v1h-1zM9 82h1v1h-1zM9 103h1v1h-1zM9 184h1v1h-1zM12 205h1v1h-1zM14 19h1v1h-1zM14 145h1v1h-1z"/><path fill="#9ca2d8" d="M0 58h1v1h-1zM0 97h1v1h-1zM0 144h1v1h-1zM0 146h1v1h-1zM0 170h1v1h-1zM1 18h1v1h-1zM1 26h1v1h-1zM1 31h1v1h-1zM1 35h1v1h-1zM1 38h1v1h-1zM1 65h1v1h-1zM1 72h1v2h-1zM1 211h1v1h-1zM3 15h1v1h-1zM3 19h1v1h-1zM3 29h1v1h-1zM3 62h1v1h-1zM4 17h1v1h-1zM4 86h1v1h-1zM4 117h1v1h-1zM4 128h1v2h-1zM7 6h1v1h-1zM7 43h1v1h-1zM7 80h1v1h-1zM7 118h1v1h-1zM7 130h1v1h-1zM7 138h1v1h-1zM7 150h1v1h-1zM7 202h1v1h-1zM7 214h1v1h-1zM8 46h1v1h-1zM8 110h1v1h-1zM9 129h1v1h-1zM13 19h1v1h-1z"/><path fill="#a2a2de" d="M0 66h1v2h-1zM0 139h1v1h-1zM1 58h1v1h-1zM1 100h1v1h-1zM1 126h1v1h-1zM1 171h1v1h-1zM4 30h1v1h-1zM4 47h1v1h-1zM4 58h1v1h-1zM4 112h1v1h-1zM7 112h1v1h-1zM7 195h1v1h-1zM9 25h1v1h-1z"/><path fill="#969cd8" d="M0 73h1v1h-1zM0 79h1v1h-1zM0 89h1v1h-1zM0 95h1v1h-1zM0 98h1v1h-1zM0 190h1v1h-1zM1 10h1v1h-1zM1 23h1v1h-1zM1 34h1v1h-1zM1 54h1v1h-1zM1 60h1v1h-1zM1 83h1v1h-1zM1 132h1v1h-1zM1 134h1v1h-1zM1 139h1v1h-1zM1 153h1v1h-1zM1 173h1v1h-1zM1 183h1v1h-1zM1 203h1v1h-1zM1 206h1v1h-1zM3 25h1v1h-1zM3 50h1v1h-1zM3 99h1v1h-1zM4 7h1v1h-1zM4 33h1v1h-1zM4 49h1v1h-1zM4 54h1v1h-1zM4 59h1v1h-1zM4 63h1v2h-1zM4 66h1v1h-1zM4 71h1v1h-1zM4 76h1v1h-1zM4 87h1v1h-1zM5 96h1v1h-1zM6 107h1v1h-1zM7 4h1v1h-1zM7 20h1v1h-1zM7 22h1v1h-1zM7 44h1v1h-1zM7 53h1v1h-1zM7 56h1v1h-1zM7 58h1v1h-1zM7 66h1v2h-1zM7 71h1v1h-1zM7 94h1v1h-1zM7 106h1v1h-1zM7 148h1v1h-1zM7 167h1v1h-1zM7 193h1v1h-1zM8 52h1v1h-1zM8 84h1v1h-1zM8 95h1v2h-1zM8 130h1v1h-1zM8 169h1v1h-1zM8 209h1v1h-1zM9 96h1v1h-1zM9 176h1v1h-1zM13 10h1v1h-1zM13 12h1v1h-1z"/><path fill="#6c78cc" d="M0 82h1v1h-1zM0 185h1v1h-1zM0 205h1v1h-1zM0 209h1v1h-1zM1 50h1v1h-1zM1 142h1v1h-1zM1 154h1v1h-1zM1 178h1v1h-1zM1 194h1v1h-1zM1 198h1v1h-1zM1 217h1v1h-1zM4 8h1v1h-1zM4 12h1v1h-1zM4 50h1v1h-1zM4 99h1v1h-1zM4 103h1v1h-1zM4 110h1v1h-1zM7 10h1v1h-1zM7 34h1v1h-1zM7 68h1v1h-1zM7 122h1v1h-1zM7 125h1v1h-1zM7 131h1v2h-1zM7 154h1v1h-1zM7 162h1v1h-1zM7 169h1v1h-1zM7 180h1v1h-1zM14 15h1v1h-1z"/><path fill="#606cc6" d="M0 85h1v1h-1zM1 80h1v1h-1zM7 46h1v1h-1zM7 217h1v1h-1z"/><path fill="#d8d8f0" d="M0 94h1v1h-1zM0 172h1v1h-1zM1 42h1v1h-1zM1 127h1v1h-1zM1 161h1v1h-1zM2 7h1v1h-1zM3 42h1v1h-1zM3 67h1v1h-1zM3 75h1v1h-1zM3 110h1v1h-1zM3 158h1v1h-1zM3 162h1v1h-1zM3 214h1v1h-1zM5 53h1v1h-1zM5 69h1v1h-1zM5 71h1v1h-1zM5 88h1v1h-1zM5 92h1v1h-1zM5 111h1v1h-1zM6 28h1v1h-1zM6 53h1v1h-1zM6 75h1v1h-1zM6 83h1v1h-1zM6 109h1v1h-1zM6 141h1v1h-1zM6 179h1v1h-1zM6 194h1v1h-1zM6 204h1v1h-1zM8 44h1v1h-1zM8 57h1v1h-1zM8 59h1v1h-1zM8 71h1v1h-1zM8 128h1v1h-1zM8 155h1v1h-1zM8 199h1v1h-1zM9 37h1v1h-1zM9 47h1v1h-1zM9 99h1v1h-1zM9 104h1v1h-1zM9 108h1v1h-1zM9 126h1v1h-1zM9 150h1v1h-1zM9 168h1v1h-1zM9 204h1v1h-1zM9 212h1v1h-1zM9 214h1v1h-1zM10 34h1v1h-1zM10 121h1v1h-1zM10 129h1v1h-1zM10 160h1v1h-1zM11 118h1v1h-1zM11 142h1v1h-1zM11 156h1v1h-1zM11 193h1v2h-1zM11 206h1v1h-1zM12 93h1v1h-1zM12 122h1v1h-1zM12 130h1v1h-1zM12 153h1v1h-1zM12 213h1v1h-1zM13 1h1v1h-1zM13 32h1v1h-1zM13 190h1v2h-1zM14 111h1v1h-1zM14 121h1v1h-1zM14 156h1v1h-1zM14 168h1v1h-1zM14 191h1v1h-1zM14 198h1v1h-1z"/><path fill="#ccccea" d="M0 101h1v1h-1zM0 109h1v1h-1zM0 115h1v1h-1zM0 117h1v1h-1zM0 137h1v1h-1zM0 157h1v1h-1zM0 182h1v1h-1zM0 199h1v1h-1zM0 211h1v1h-1zM1 6h1v1h-1zM1 37h1v1h-1zM1 91h1v1h-1zM1 94h1v1h-1zM1 120h1v2h-1zM1 133h1v1h-1zM2 20h1v1h-1zM2 52h1v1h-1zM2 85h1v1h-1zM2 130h1v1h-1zM3 0h1v2h-1zM3 59h1v1h-1zM3 81h1v1h-1zM3 117h1v2h-1zM3 125h1v1h-1zM3 138h1v1h-1zM3 149h1v2h-1zM3 156h1v1h-1zM3 163h1v1h-1zM3 168h1v1h-1zM3 171h1v1h-1zM3 174h1v1h-1zM3 180h1v1h-1zM3 183h1v1h-1zM3 192h1v1h-1zM4 9h1v1h-1zM5 20h1v1h-1zM5 24h1v1h-1zM5 31h1v1h-1zM5 49h1v1h-1zM5 62h1v1h-1zM5 65h1v1h-1zM5 70h1v1h-1zM5 80h1v1h-1zM5 108h1v1h-1zM5 113h1v1h-1zM6 0h1v1h-1zM6 62h1v1h-1zM6 67h1v1h-1zM6 69h1v1h-1zM6 72h1v1h-1zM6 76h1v1h-1zM6 84h1v1h-1zM6 92h1v1h-1zM6 121h1v1h-1zM6 139h1v1h-1zM6 145h1v1h-1zM6 164h1v1h-1zM6 169h1v1h-1zM6 174h1v1h-1zM6 198h1v1h-1zM6 209h1v1h-1zM7 134h1v1h-1zM7 172h1v1h-1zM8 4h1v1h-1zM8 39h1v1h-1zM8 43h1v1h-1zM8 58h1v1h-1zM8 67h1v1h-1zM8 76h1v1h-1zM8 79h1v1h-1zM8 112h1v1h-1zM8 133h1v1h-1zM8 136h1v1h-1zM8 148h1v1h-1zM8 170h1v2h-1zM8 186h1v1h-1zM8 189h1v1h-1zM8 212h1v1h-1zM8 216h1v1h-1zM9 1h1v1h-1zM9 26h1v1h-1zM9 75h1v2h-1zM9 92h1v2h-1zM9 98h1v1h-1zM9 105h1v1h-1zM9 113h1v1h-1zM9 116h1v1h-1zM9 121h1v2h-1zM9 138h1v1h-1zM9 147h1v1h-1zM9 152h1v1h-1zM9 164h1v1h-1zM9 169h1v1h-1zM9 174h1v1h-1zM9 194h1v1h-1zM9 197h1v1h-1zM10 23h1v1h-1zM10 99h1v1h-1zM10 101h1v1h-1zM10 110h1v1h-1zM11 125h1v1h-1zM11 128h1v1h-1zM11 145h1v1h-1zM11 160h1v1h-1zM11 184h1v1h-1zM11 191h1v2h-1zM11 205h1v1h-1zM12 10h1v1h-1zM12 12h1v1h-1zM12 14h1v1h-1zM12 22h1v1h-1zM12 34h1v1h-1zM12 156h1v1h-1zM12 180h1v1h-1zM12 217h1v1h-1zM13 23h1v1h-1zM13 35h1v1h-1zM13 38h1v1h-1zM13 105h1v1h-1zM13 107h1v1h-1zM13 122h1v1h-1zM13 129h1v1h-1zM13 184h1v1h-1zM14 0h1v1h-1zM14 10h1v1h-1zM14 18h1v1h-1zM14 92h1v1h-1zM14 149h1v1h-1zM14 167h1v1h-1zM14 178h1v1h-1zM14 213h1v1h-1z"/><path fill="#bac0e4" d="M0 108h1v1h-1zM0 110h1v1h-1zM0 195h1v1h-1zM1 22h1v1h-1zM3 82h1v1h-1zM3 217h1v1h-1zM4 27h1v1h-1zM5 34h1v1h-1zM5 126h1v1h-1zM6 184h1v1h-1zM7 114h1v1h-1zM8 63h1v2h-1zM8 87h1v1h-1zM8 180h1v1h-1zM8 190h1v1h-1zM9 130h1v1h-1zM11 151h1v1h-1z"/><path fill="#d8d8ea" d="M0 113h1v1h-1zM1 114h1v1h-1zM2 31h1v1h-1zM2 88h1v1h-1zM2 132h1v1h-1zM3 4h1v1h-1zM3 45h1v1h-1zM3 79h1v1h-1zM3 122h1v1h-1zM3 186h1v1h-1zM3 189h1v1h-1zM6 70h1v1h-1zM6 110h1v1h-1zM6 119h1v1h-1zM6 144h1v1h-1zM6 150h1v1h-1zM8 127h1v1h-1zM8 134h1v1h-1zM8 192h1v1h-1zM9 21h1v1h-1zM9 41h1v1h-1zM9 81h1v1h-1zM9 119h1v1h-1zM9 186h1v1h-1zM9 192h1v1h-1zM9 198h1v1h-1zM10 24h1v1h-1zM10 98h1v1h-1zM10 103h1v1h-1zM10 178h1v1h-1zM10 205h1v1h-1zM11 34h1v1h-1zM11 95h1v1h-1zM11 107h1v1h-1zM11 141h1v1h-1zM12 40h1v1h-1zM12 209h1v1h-1zM13 41h1v1h-1zM13 98h1v1h-1zM13 192h1v1h-1zM14 30h1v1h-1zM14 130h1v1h-1z"/><path fill="#dec6d8" d="M0 114h1v1h-1zM0 161h1v1h-1zM2 0h1v1h-1zM2 40h1v1h-1zM2 51h1v1h-1zM2 55h1v1h-1zM2 142h1v1h-1zM2 156h1v2h-1zM2 165h1v1h-1zM2 204h1v1h-1zM2 214h1v1h-1zM3 48h1v1h-1zM3 91h1v1h-1zM3 166h1v1h-1zM3 201h1v1h-1zM5 6h1v1h-1zM5 36h1v1h-1zM5 106h1v1h-1zM5 114h1v1h-1zM5 127h1v1h-1zM5 136h1v1h-1zM5 138h1v1h-1zM5 141h1v1h-1zM5 163h1v2h-1zM5 180h1v1h-1zM6 6h1v1h-1zM6 11h1v1h-1zM6 60h1v1h-1zM6 91h1v1h-1zM6 136h1v1h-1zM6 152h1v1h-1zM6 196h1v1h-1zM8 123h1v1h-1zM8 197h1v1h-1zM9 53h1v1h-1zM9 55h1v1h-1zM9 57h1v1h-1zM9 59h1v2h-1zM9 64h1v1h-1zM9 134h1v1h-1zM9 159h1v1h-1zM9 188h1v1h-1zM9 211h1v1h-1zM10 0h1v1h-1zM10 2h1v1h-1zM10 6h1v1h-1zM10 8h1v1h-1zM10 26h1v1h-1zM10 35h1v1h-1zM10 84h1v2h-1zM10 93h1v1h-1zM10 100h1v1h-1zM10 108h1v1h-1zM10 112h1v1h-1zM10 117h1v1h-1zM10 149h1v1h-1zM10 175h1v1h-1zM11 0h1v1h-1zM11 80h1v1h-1zM11 88h1v1h-1zM11 93h1v1h-1zM11 113h1v1h-1zM11 144h1v1h-1zM11 152h1v1h-1zM11 162h1v2h-1zM11 165h1v1h-1zM11 199h1v1h-1zM11 201h1v1h-1zM12 21h1v1h-1zM12 35h1v1h-1zM12 38h1v2h-1zM12 49h1v1h-1zM12 99h1v1h-1zM12 148h1v1h-1zM12 163h1v1h-1zM12 202h1v1h-1zM12 208h1v1h-1zM12 212h1v1h-1zM12 214h1v1h-1zM13 46h1v1h-1zM13 101h1v1h-1zM13 111h1v1h-1zM13 131h1v1h-1zM13 162h1v1h-1zM13 180h1v1h-1zM13 183h1v1h-1zM13 203h1v1h-1zM14 27h1v1h-1zM14 82h1v1h-1zM14 93h1v1h-1zM14 100h1v1h-1zM14 117h1v1h-1zM14 119h1v1h-1zM14 136h1v1h-1zM14 139h1v1h-1zM14 164h1v1h-1zM14 173h1v1h-1zM14 181h1v1h-1zM14 187h1v1h-1zM14 192h1v1h-1zM14 200h1v1h-1zM14 202h1v1h-1zM14 204h1v1h-1zM14 210h1v1h-1z"/><path fill="#decce4" d="M0 120h1v1h-1zM2 11h1v1h-1zM2 66h1v1h-1zM2 191h1v1h-1zM3 107h1v1h-1zM3 188h1v1h-1zM3 199h1v1h-1zM5 22h1v1h-1zM5 45h1v1h-1zM5 54h1v1h-1zM5 57h1v1h-1zM5 154h1v1h-1zM6 22h1v1h-1zM6 74h1v1h-1zM6 106h1v1h-1zM6 155h1v1h-1zM6 162h1v1h-1zM6 175h1v1h-1zM6 215h1v1h-1zM8 114h1v1h-1zM8 137h1v1h-1zM8 143h1v1h-1zM9 4h1v1h-1zM9 66h1v1h-1zM9 199h1v1h-1zM10 4h1v1h-1zM10 33h1v1h-1zM10 90h1v1h-1zM10 113h1v1h-1zM10 122h1v1h-1zM10 147h1v1h-1zM10 155h1v1h-1zM10 179h1v1h-1zM10 193h1v1h-1zM10 216h1v1h-1zM11 24h1v1h-1zM11 39h1v1h-1zM11 63h1v1h-1zM11 102h1v1h-1zM11 139h1v1h-1zM12 4h1v1h-1zM12 7h1v2h-1zM12 150h1v1h-1zM12 210h1v1h-1zM13 4h1v1h-1zM13 39h1v1h-1zM13 104h1v1h-1zM13 126h1v1h-1zM13 144h1v1h-1zM13 163h1v1h-1zM13 207h1v1h-1zM14 108h1v1h-1zM14 113h1v1h-1zM14 150h1v1h-1z"/><path fill="#deccde" d="M0 123h1v1h-1zM2 19h1v1h-1zM2 30h1v1h-1zM2 50h1v1h-1zM2 87h1v1h-1zM2 141h1v1h-1zM2 168h1v1h-1zM2 170h1v1h-1zM3 123h1v1h-1zM3 187h1v1h-1zM5 32h1v1h-1zM5 42h1v1h-1zM5 47h1v1h-1zM5 58h1v1h-1zM5 61h1v1h-1zM5 81h1v1h-1zM5 91h1v1h-1zM5 104h1v1h-1zM5 112h1v1h-1zM5 117h1v1h-1zM5 120h1v1h-1zM5 123h1v1h-1zM5 133h1v1h-1zM5 151h1v1h-1zM5 176h1v1h-1zM6 16h1v1h-1zM6 133h1v1h-1zM6 181h1v1h-1zM6 211h1v1h-1zM8 6h1v1h-1zM8 215h1v1h-1zM9 6h1v1h-1zM9 89h1v1h-1zM9 91h1v1h-1zM9 123h1v1h-1zM9 128h1v1h-1zM9 163h1v1h-1zM9 189h1v1h-1zM9 202h1v2h-1zM9 210h1v1h-1zM10 38h1v1h-1zM10 50h1v1h-1zM10 62h1v1h-1zM10 68h1v1h-1zM10 115h1v1h-1zM10 134h1v1h-1zM10 136h1v1h-1zM10 139h1v1h-1zM10 152h1v1h-1zM10 164h1v1h-1zM10 173h1v1h-1zM10 177h1v1h-1zM10 192h1v1h-1zM11 2h1v1h-1zM11 38h1v1h-1zM11 101h1v1h-1zM11 131h1v1h-1zM11 158h1v1h-1zM11 177h1v1h-1zM11 195h1v1h-1zM11 198h1v1h-1zM11 203h1v1h-1zM12 0h1v1h-1zM12 5h1v1h-1zM12 19h1v2h-1zM12 28h1v1h-1zM12 30h1v1h-1zM12 46h1v1h-1zM12 97h1v1h-1zM12 104h1v1h-1zM12 111h1v1h-1zM12 113h1v1h-1zM12 157h1v1h-1zM12 183h1v1h-1zM12 192h1v1h-1zM12 196h1v1h-1zM12 200h1v1h-1zM13 11h1v1h-1zM13 16h1v1h-1zM13 92h1v2h-1zM13 100h1v1h-1zM13 128h1v1h-1zM13 150h1v1h-1zM13 152h1v2h-1zM13 178h1v1h-1zM13 189h1v1h-1zM13 200h1v1h-1zM13 208h1v1h-1zM13 215h1v1h-1zM14 112h1v1h-1zM14 148h1v1h-1zM14 158h1v1h-1zM14 177h1v1h-1zM14 183h1v1h-1zM14 216h1v1h-1z"/><path fill="#6672cc" d="M0 142h1v1h-1zM1 25h1v1h-1zM1 180h1v1h-1zM1 185h1v2h-1zM1 208h1v2h-1zM4 79h1v1h-1zM4 111h1v1h-1zM7 14h1v1h-1zM7 24h1v1h-1zM7 33h1v1h-1zM7 62h1v2h-1zM7 99h1v1h-1zM7 103h1v1h-1zM7 111h1v1h-1zM7 121h1v1h-1zM7 149h1v1h-1zM8 15h1v1h-1z"/><path fill="#909cd8" d="M0 148h1v1h-1zM1 67h1v1h-1zM1 201h1v1h-1zM5 15h1v1h-1zM7 8h1v1h-1zM7 64h1v1h-1zM7 170h1v1h-1zM7 210h1v1h-1zM7 212h1v1h-1zM14 24h1v1h-1z"/><path fill="#7e84d2" d="M0 160h1v1h-1zM0 183h1v1h-1zM1 177h1v1h-1zM4 14h1v1h-1zM4 80h1v1h-1zM4 132h1v1h-1zM7 28h1v1h-1zM7 82h1v1h-1zM7 88h1v1h-1zM7 113h1v1h-1zM7 173h1v1h-1z"/><path fill="#8a90d2" d="M0 167h1v1h-1zM1 59h1v1h-1zM1 174h1v1h-1zM4 40h1v1h-1zM4 98h1v1h-1zM4 113h1v1h-1zM7 75h1v1h-1zM7 182h1v1h-1z"/><path fill="#787ed2" d="M0 176h1v1h-1zM1 29h1v1h-1zM4 68h1v1h-1zM7 90h1v1h-1zM7 98h1v1h-1z"/><path fill="#d84e54" d="M1 1h1v2h-1zM2 58h1v1h-1zM2 79h1v1h-1zM2 94h1v1h-1zM4 143h1v1h-1zM4 146h1v1h-1zM4 162h1v1h-1zM4 179h1v1h-1zM4 186h1v1h-1zM5 198h1v1h-1zM5 208h1v1h-1zM6 41h1v1h-1zM9 28h1v1h-1zM9 30h1v2h-1zM10 13h1v1h-1z"/><path fill="#d83c3c" d="M1 4h1v1h-1zM2 176h1v1h-1zM4 187h1v1h-1zM4 199h1v1h-1z"/><path fill="#727ed2" d="M1 20h1v1h-1zM1 212h1v1h-1zM6 15h1v1h-1zM7 93h1v1h-1z"/><path fill="#7e8ad2" d="M1 40h1v1h-1zM1 51h1v1h-1zM1 53h1v1h-1zM1 61h1v1h-1zM1 89h1v1h-1zM1 129h1v1h-1zM1 146h1v1h-1zM1 160h1v1h-1zM1 162h1v1h-1zM1 170h1v1h-1zM1 191h1v1h-1zM3 49h1v1h-1zM4 85h1v1h-1zM4 100h1v1h-1zM4 125h1v1h-1zM7 69h1v1h-1zM7 95h1v1h-1zM7 124h1v1h-1zM7 147h1v1h-1zM7 151h1v1h-1zM8 185h1v1h-1z"/><path fill="#6678cc" d="M1 90h1v1h-1z"/><path fill="#d890a2" d="M2 1h1v1h-1zM4 212h1v1h-1zM12 58h1v1h-1zM12 187h1v1h-1zM13 73h1v1h-1zM14 51h1v1h-1zM14 53h1v1h-1zM14 73h1v1h-1zM14 87h1v1h-1z"/><path fill="#d8b4c0" d="M2 2h1v1h-1zM2 128h1v1h-1zM3 112h1v1h-1zM4 141h1v1h-1zM10 87h1v1h-1zM10 127h1v1h-1zM10 166h1v1h-1zM11 42h1v1h-1zM11 75h1v1h-1zM12 50h1v1h-1zM12 76h1v1h-1zM14 70h1v1h-1zM14 174h1v1h-1zM14 211h1v1h-1z"/><path fill="#d88490" d="M2 3h1v1h-1zM2 159h1v1h-1zM2 196h1v1h-1zM3 114h1v1h-1zM4 148h1v1h-1zM4 150h1v1h-1zM4 171h1v1h-1zM4 216h1v1h-1zM5 159h1v1h-1zM5 171h1v1h-1zM5 175h1v1h-1zM5 182h1v1h-1zM6 3h1v1h-1zM6 40h1v1h-1zM11 56h1v2h-1zM12 59h1v1h-1zM12 64h1v1h-1zM13 56h1v1h-1zM13 71h1v1h-1zM13 161h1v1h-1zM14 66h1v1h-1z"/><path fill="#d8bacc" d="M2 5h1v1h-1zM2 21h1v1h-1zM2 26h1v1h-1zM2 32h1v1h-1zM2 133h1v1h-1zM2 151h1v1h-1zM2 153h1v1h-1zM2 174h1v1h-1zM2 195h1v1h-1zM2 210h1v1h-1zM3 108h1v1h-1zM3 111h1v1h-1zM3 172h1v1h-1zM3 200h1v1h-1zM3 211h1v1h-1zM5 9h1v1h-1zM5 48h1v1h-1zM5 55h1v1h-1zM5 77h1v1h-1zM5 79h1v1h-1zM5 157h1v1h-1zM5 165h1v1h-1zM5 178h1v1h-1zM5 183h1v2h-1zM6 120h1v1h-1zM7 35h1v1h-1zM7 40h1v1h-1zM9 5h1v1h-1zM9 78h1v1h-1zM9 182h1v1h-1zM9 196h1v1h-1zM10 5h1v1h-1zM10 27h1v1h-1zM10 61h1v1h-1zM10 63h1v1h-1zM10 86h1v1h-1zM10 91h1v1h-1zM10 109h1v1h-1zM10 114h1v1h-1zM10 133h1v1h-1zM10 162h1v1h-1zM10 196h1v1h-1zM10 201h1v1h-1zM11 1h1v1h-1zM11 4h1v1h-1zM11 6h1v1h-1zM11 33h1v1h-1zM11 44h1v1h-1zM11 82h1v1h-1zM11 84h1v1h-1zM11 127h1v1h-1zM11 159h1v1h-1zM11 170h1v1h-1zM12 44h1v1h-1zM12 80h1v1h-1zM12 91h1v1h-1zM12 100h1v1h-1zM12 102h1v1h-1zM12 109h1v1h-1zM12 128h1v1h-1zM12 186h1v1h-1zM12 193h1v1h-1zM12 199h1v1h-1zM12 203h1v1h-1zM12 207h1v1h-1zM13 3h1v1h-1zM13 6h1v1h-1zM13 52h1v1h-1zM13 91h1v1h-1zM13 147h1v1h-1zM13 158h1v1h-1zM13 169h1v1h-1zM13 181h1v1h-1zM13 201h1v1h-1zM14 3h1v1h-1zM14 22h1v1h-1zM14 85h1v1h-1zM14 102h1v1h-1zM14 133h1v1h-1zM14 143h1v1h-1zM14 162h1v1h-1zM14 196h1v1h-1zM14 203h1v1h-1z"/><path fill="#d8aec0" d="M2 6h1v1h-1zM2 135h1v2h-1zM2 150h1v1h-1zM2 162h1v1h-1zM2 192h1v1h-1zM2 197h1v1h-1zM2 207h1v1h-1zM3 36h1v1h-1zM4 169h1v1h-1zM5 3h1v1h-1zM5 37h1v1h-1zM5 139h1v1h-1zM5 156h1v1h-1zM5 174h1v1h-1zM6 159h1v1h-1zM6 187h1v1h-1zM9 114h1v1h-1zM10 1h1v1h-1zM10 15h1v1h-1zM10 32h1v1h-1zM10 66h1v1h-1zM10 204h1v1h-1zM10 207h1v1h-1zM11 37h1v1h-1zM11 69h1v2h-1zM11 173h1v1h-1zM11 181h1v1h-1zM11 200h1v1h-1zM12 42h1v1h-1zM12 75h1v1h-1zM12 86h1v1h-1zM12 89h1v1h-1zM12 112h1v1h-1zM12 174h1v1h-1zM12 182h1v1h-1zM13 49h1v1h-1zM13 62h1v1h-1zM13 66h1v1h-1zM13 134h1v1h-1zM13 139h1v1h-1zM13 167h1v1h-1zM14 61h1v2h-1zM14 68h1v1h-1zM14 137h1v1h-1zM14 155h1v1h-1zM14 182h1v1h-1zM14 199h1v1h-1z"/><path fill="#d8c0d2" d="M2 9h1v1h-1zM5 149h1v1h-1zM6 32h1v1h-1zM12 11h1v1h-1zM12 118h1v1h-1zM13 113h1v1h-1zM13 212h1v1h-1zM14 36h1v1h-1zM14 152h1v1h-1zM14 215h1v1h-1z"/><path fill="#ded2ea" d="M2 10h1v1h-1zM2 13h1v1h-1zM2 17h1v1h-1zM2 68h1v1h-1zM2 83h1v1h-1zM2 154h1v1h-1zM2 213h1v1h-1zM3 6h1v1h-1zM3 32h1v1h-1zM3 39h1v1h-1zM3 152h1v1h-1zM3 182h1v1h-1zM3 195h1v1h-1zM5 17h1v1h-1zM5 83h1v1h-1zM5 87h1v1h-1zM5 97h1v1h-1zM5 115h1v1h-1zM5 118h1v1h-1zM5 145h1v1h-1zM6 45h1v1h-1zM6 61h1v1h-1zM6 81h1v1h-1zM6 97h1v1h-1zM6 122h1v1h-1zM6 124h1v1h-1zM6 197h1v1h-1zM6 210h1v1h-1zM8 140h1v1h-1zM8 166h1v1h-1zM8 172h1v1h-1zM8 210h1v1h-1zM9 17h1v1h-1zM9 36h1v1h-1zM9 58h1v1h-1zM9 69h1v1h-1zM9 71h1v1h-1zM9 97h1v1h-1zM9 106h1v1h-1zM9 109h1v1h-1zM9 127h1v1h-1zM9 137h1v1h-1zM10 30h1v1h-1zM10 102h1v1h-1zM10 138h1v1h-1zM10 154h1v1h-1zM10 171h1v1h-1zM10 180h1v1h-1zM10 206h1v1h-1zM11 8h1v1h-1zM11 25h1v1h-1zM11 28h1v1h-1zM11 35h1v1h-1zM11 49h1v1h-1zM11 108h1v1h-1zM11 112h1v1h-1zM11 135h1v1h-1zM11 149h1v1h-1zM11 164h1v1h-1zM11 176h1v1h-1zM12 103h1v1h-1zM12 115h1v1h-1zM12 117h1v1h-1zM12 119h1v1h-1zM12 127h1v1h-1zM12 138h1v1h-1zM12 142h1v1h-1zM12 204h1v1h-1zM13 42h1v1h-1zM13 121h1v1h-1zM13 135h1v1h-1zM13 177h1v1h-1zM13 206h1v1h-1zM13 209h1v1h-1zM14 95h1v1h-1zM14 101h1v1h-1zM14 109h1v1h-1zM14 129h1v1h-1zM14 146h1v1h-1zM14 163h1v1h-1zM14 195h1v1h-1z"/><path fill="#d8a2ae" d="M2 16h1v1h-1zM2 37h1v1h-1zM6 2h1v1h-1zM9 172h1v1h-1zM10 65h1v1h-1zM10 104h1v1h-1zM11 53h1v1h-1zM11 65h1v1h-1zM11 83h1v1h-1zM11 86h1v1h-1zM11 174h1v1h-1zM11 182h1v1h-1zM11 211h1v1h-1zM12 32h1v1h-1zM12 48h1v1h-1zM12 67h1v1h-1zM12 74h1v1h-1zM12 83h1v1h-1zM12 175h1v1h-1zM13 69h1v1h-1zM13 76h1v1h-1zM14 46h1v1h-1zM14 52h1v1h-1zM14 69h1v1h-1zM14 166h1v1h-1z"/><path fill="#d8b4c6" d="M2 22h1v1h-1zM2 27h1v1h-1zM2 48h1v1h-1zM2 71h1v2h-1zM2 140h1v1h-1zM2 148h1v1h-1zM2 186h1v2h-1zM2 193h1v1h-1zM5 140h1v1h-1zM5 144h1v1h-1zM5 153h1v1h-1zM5 160h1v1h-1zM5 167h1v1h-1zM5 177h1v1h-1zM6 161h1v1h-1zM6 188h1v1h-1zM7 39h1v1h-1zM7 41h1v1h-1zM8 159h1v1h-1zM8 203h1v1h-1zM9 74h1v1h-1zM10 81h1v1h-1zM10 83h1v1h-1zM10 143h1v1h-1zM10 153h1v1h-1zM10 159h1v1h-1zM10 182h1v1h-1zM10 200h1v1h-1zM10 214h1v1h-1zM11 27h1v1h-1zM11 91h1v1h-1zM11 109h1v1h-1zM11 117h1v1h-1zM11 120h1v1h-1zM11 133h1v2h-1zM11 137h1v1h-1zM11 143h1v1h-1zM11 147h1v1h-1zM11 171h1v1h-1zM11 187h1v1h-1zM11 196h1v2h-1zM11 215h1v1h-1zM12 61h1v2h-1zM12 69h1v1h-1zM12 120h1v1h-1zM12 137h1v1h-1zM12 165h1v1h-1zM12 173h1v1h-1zM12 179h1v1h-1zM12 181h1v1h-1zM12 201h1v1h-1zM12 215h1v1h-1zM13 50h1v1h-1zM13 63h1v1h-1zM13 85h1v1h-1zM13 102h1v1h-1zM13 114h1v1h-1zM13 127h1v1h-1zM13 157h1v1h-1zM13 174h1v1h-1zM13 187h1v1h-1zM13 193h1v1h-1zM13 197h1v1h-1zM13 214h1v1h-1zM13 216h1v1h-1zM14 49h1v1h-1zM14 120h1v1h-1zM14 147h1v1h-1zM14 172h1v1h-1zM14 186h1v1h-1zM14 193h1v1h-1zM14 214h1v1h-1z"/><path fill="#ded8f0" d="M2 28h1v1h-1zM2 90h1v1h-1zM2 216h1v1h-1zM3 9h1v1h-1zM3 16h1v1h-1zM3 22h1v1h-1zM3 43h1v1h-1zM3 57h1v1h-1zM3 64h1v1h-1zM3 93h1v1h-1zM3 119h1v1h-1zM3 127h1v1h-1zM3 194h1v1h-1zM3 216h1v1h-1zM4 3h1v1h-1zM5 40h1v2h-1zM5 43h1v1h-1zM5 102h1v1h-1zM5 109h1v1h-1zM5 142h1v1h-1zM6 1h1v1h-1zM6 26h1v1h-1zM6 48h1v1h-1zM6 89h1v2h-1zM6 93h1v1h-1zM6 101h1v1h-1zM6 118h1v1h-1zM6 123h1v1h-1zM6 143h1v1h-1zM6 148h1v1h-1zM6 177h1v1h-1zM6 183h1v1h-1zM6 186h1v1h-1zM6 214h1v1h-1zM6 216h1v1h-1zM8 147h1v1h-1zM8 181h1v1h-1zM9 0h1v1h-1zM9 9h1v1h-1zM9 39h1v1h-1zM9 42h1v1h-1zM9 52h1v1h-1zM9 54h1v1h-1zM9 61h1v1h-1zM9 73h1v1h-1zM9 77h1v1h-1zM9 79h1v1h-1zM9 118h1v1h-1zM9 124h1v1h-1zM9 162h1v1h-1zM9 180h1v1h-1zM10 95h1v1h-1zM10 167h1v1h-1zM11 94h1v1h-1zM11 116h1v1h-1zM11 130h1v1h-1zM11 157h1v1h-1zM11 208h1v1h-1zM12 13h1v1h-1zM12 94h1v1h-1zM12 132h1v1h-1zM12 135h1v1h-1zM12 141h1v1h-1zM12 154h1v1h-1zM12 194h1v1h-1zM13 5h1v1h-1zM13 21h1v1h-1zM13 106h1v1h-1zM13 110h1v1h-1zM13 138h1v1h-1zM13 186h1v1h-1zM14 28h1v1h-1zM14 94h1v1h-1zM14 105h1v1h-1zM14 157h1v1h-1zM14 160h1v1h-1zM14 169h1v1h-1zM14 206h1v1h-1z"/><path fill="#dec0d2" d="M2 35h1v2h-1zM2 45h1v1h-1zM2 56h1v1h-1zM2 69h1v1h-1zM2 138h1v1h-1zM2 144h1v1h-1zM2 146h1v1h-1zM2 163h1v1h-1zM2 167h1v1h-1zM2 173h1v1h-1zM2 215h1v1h-1zM3 3h1v1h-1zM3 27h1v1h-1zM3 37h1v1h-1zM3 78h1v1h-1zM3 155h1v1h-1zM5 5h1v1h-1zM5 27h1v1h-1zM5 60h1v1h-1zM5 146h1v1h-1zM5 168h1v1h-1zM5 170h1v1h-1zM5 173h1v1h-1zM5 186h1v1h-1zM6 127h1v1h-1zM6 172h1v1h-1zM6 182h1v1h-1zM7 38h1v1h-1zM8 16h1v1h-1zM8 37h1v1h-1zM9 16h1v1h-1zM9 86h1v1h-1zM9 117h1v1h-1zM10 28h1v1h-1zM10 76h1v1h-1zM10 105h1v1h-1zM10 118h1v1h-1zM10 123h1v1h-1zM10 187h1v1h-1zM10 197h1v1h-1zM10 208h1v1h-1zM10 212h1v1h-1zM11 22h1v1h-1zM11 31h1v1h-1zM11 52h1v1h-1zM11 85h1v1h-1zM11 89h1v1h-1zM11 115h1v1h-1zM11 136h1v1h-1zM11 146h1v1h-1zM11 155h1v1h-1zM11 168h1v2h-1zM11 204h1v1h-1zM11 207h1v1h-1zM12 17h1v1h-1zM12 41h1v1h-1zM12 54h1v1h-1zM12 106h1v1h-1zM12 108h1v1h-1zM12 123h1v1h-1zM12 134h1v1h-1zM12 136h1v1h-1zM12 139h1v1h-1zM12 143h1v1h-1zM12 147h1v1h-1zM12 155h1v1h-1zM12 158h1v1h-1zM12 160h1v1h-1zM12 167h1v1h-1zM12 169h1v1h-1zM12 197h1v1h-1zM12 206h1v1h-1zM13 84h1v1h-1zM13 109h1v1h-1zM13 155h1v1h-1zM13 195h1v2h-1zM14 42h1v1h-1zM14 63h1v1h-1zM14 104h1v1h-1zM14 118h1v1h-1zM14 127h1v2h-1zM14 179h1v1h-1zM14 197h1v1h-1z"/><path fill="#d896a8" d="M2 41h1v1h-1zM2 164h1v1h-1zM4 213h1v1h-1zM5 134h1v1h-1zM5 147h1v1h-1zM5 179h1v1h-1zM6 5h1v1h-1zM8 31h1v1h-1zM10 36h1v1h-1zM12 1h1v1h-1zM12 16h1v1h-1zM12 43h1v1h-1zM12 60h1v1h-1zM13 44h1v1h-1zM13 70h1v1h-1zM14 88h1v1h-1zM14 114h1v1h-1zM14 134h1v1h-1zM14 188h1v1h-1zM14 207h1v1h-1z"/><path fill="#d8a8ba" d="M2 42h1v1h-1zM2 64h1v1h-1zM2 73h1v1h-1zM2 134h1v1h-1zM2 158h1v1h-1zM2 212h1v1h-1zM3 159h1v1h-1zM9 3h1v1h-1zM10 51h1v1h-1zM10 70h1v1h-1zM10 88h1v2h-1zM10 120h1v1h-1zM10 203h1v1h-1zM10 211h1v1h-1zM11 32h1v1h-1zM11 43h1v1h-1zM11 50h1v1h-1zM11 79h1v1h-1zM11 81h1v1h-1zM11 114h1v1h-1zM11 123h1v2h-1zM11 167h1v1h-1zM12 3h1v1h-1zM12 63h1v1h-1zM12 81h1v1h-1zM13 164h1v1h-1zM13 170h1v1h-1zM13 182h1v1h-1zM13 199h1v1h-1zM13 210h1v1h-1zM14 37h1v1h-1zM14 89h1v1h-1zM14 122h1v1h-1zM14 201h1v1h-1z"/><path fill="#dec0d8" d="M2 54h1v1h-1zM3 77h1v1h-1zM3 115h1v1h-1zM5 0h1v1h-1zM6 55h1v1h-1zM10 80h1v1h-1zM10 124h1v1h-1zM10 146h1v1h-1zM10 189h1v1h-1zM11 210h1v1h-1zM12 149h1v1h-1zM13 148h1v1h-1z"/><path fill="#d84242" d="M2 57h1v1h-1zM5 193h1v1h-1z"/><path fill="#d84248" d="M2 59h1v2h-1zM2 78h1v1h-1zM2 98h1v1h-1zM2 184h1v1h-1zM4 184h1v1h-1zM4 190h1v1h-1zM4 211h1v1h-1zM10 21h1v1h-1zM11 9h1v1h-1zM11 20h1v1h-1zM13 78h1v1h-1zM14 55h1v1h-1z"/><path fill="#d89ca8" d="M2 62h1v1h-1zM2 80h1v1h-1zM2 152h1v1h-1zM2 166h1v1h-1zM2 185h1v1h-1zM3 113h1v1h-1zM4 142h1v1h-1zM5 137h1v1h-1zM5 150h1v1h-1zM6 4h1v1h-1zM10 172h1v1h-1zM10 210h1v1h-1zM11 47h1v1h-1zM11 67h1v1h-1zM11 77h1v1h-1zM11 87h1v1h-1zM12 37h1v1h-1zM12 51h1v1h-1zM12 65h1v1h-1zM12 170h1v1h-1zM12 172h1v1h-1zM13 81h1v2h-1zM13 143h1v1h-1zM13 175h1v1h-1zM14 44h1v1h-1z"/><path fill="#d8bac6" d="M2 63h1v1h-1zM2 189h1v1h-1zM9 143h1v1h-1zM10 64h1v1h-1zM11 140h1v1h-1zM13 120h1v1h-1z"/><path fill="#dec6de" d="M2 67h1v1h-1zM2 145h1v1h-1zM2 208h1v1h-1zM5 78h1v1h-1zM6 58h1v1h-1zM6 166h1v1h-1zM6 208h1v1h-1zM8 109h1v1h-1zM9 72h1v1h-1zM9 88h1v1h-1zM9 158h1v1h-1zM10 41h1v1h-1zM10 106h1v1h-1zM10 131h1v1h-1zM10 157h1v1h-1zM10 195h1v1h-1zM11 46h1v1h-1zM11 97h1v1h-1zM11 150h1v1h-1zM11 217h1v1h-1zM12 84h1v1h-1zM12 140h1v1h-1zM13 136h1v1h-1zM13 140h1v1h-1zM13 198h1v1h-1zM13 202h1v1h-1zM14 5h1v2h-1zM14 97h1v1h-1z"/><path fill="#d89cae" d="M2 76h1v1h-1zM2 147h1v1h-1zM2 160h1v1h-1zM3 109h1v1h-1zM4 145h1v1h-1zM4 164h1v1h-1zM4 205h1v1h-1zM4 217h1v1h-1zM5 162h1v1h-1zM6 114h1v1h-1zM8 161h1v1h-1zM10 57h1v1h-1zM10 215h1v1h-1zM11 66h1v1h-1zM11 188h1v1h-1zM12 36h1v1h-1zM12 53h1v1h-1zM12 88h1v1h-1zM12 161h1v1h-1zM13 61h1v1h-1zM13 123h1v1h-1zM13 137h1v1h-1zM14 65h1v1h-1zM14 123h1v1h-1zM14 159h1v1h-1z"/><path fill="#d8909c" d="M2 77h1v1h-1zM2 137h1v1h-1zM2 175h1v1h-1zM2 201h1v1h-1zM4 151h1v1h-1zM4 210h1v1h-1zM10 59h1v1h-1zM10 74h1v1h-1zM11 54h1v1h-1zM11 61h1v1h-1zM12 79h1v1h-1zM12 114h1v1h-1zM13 58h1v1h-1zM13 166h1v1h-1zM14 47h1v1h-1zM14 54h1v1h-1zM14 161h1v1h-1z"/><path fill="#d86066" d="M2 81h1v1h-1zM2 96h1v1h-1zM4 147h1v1h-1zM4 204h1v1h-1zM5 205h1v1h-1zM11 73h1v1h-1zM14 72h1v1h-1zM14 74h1v1h-1z"/><path fill="#d8363c" d="M2 99h1v1h-1zM2 110h1v1h-1zM4 160h1v1h-1zM4 203h1v1h-1zM10 18h1v1h-1zM13 55h1v1h-1z"/><path fill="#d85460" d="M2 103h1v1h-1zM3 132h1v1h-1zM4 134h1v1h-1zM4 139h1v1h-1zM12 25h1v1h-1z"/><path fill="#d85a60" d="M2 107h1v1h-1zM2 180h1v1h-1zM4 153h1v1h-1zM4 201h1v1h-1zM4 215h1v1h-1zM10 45h1v1h-1zM11 10h1v1h-1zM13 79h1v1h-1z"/><path fill="#d896a2" d="M2 143h1v1h-1zM4 144h1v1h-1zM4 149h1v1h-1zM4 170h1v1h-1zM4 191h1v1h-1zM5 76h1v1h-1zM5 143h1v1h-1zM5 152h1v1h-1zM7 42h1v1h-1zM8 30h1v1h-1zM10 54h1v1h-1zM10 56h1v1h-1zM10 77h1v1h-1zM11 5h1v1h-1zM11 36h1v1h-1zM11 58h1v1h-1zM11 172h1v1h-1zM12 9h1v1h-1zM12 47h1v1h-1zM12 71h1v1h-1zM12 78h1v1h-1zM12 166h1v1h-1zM13 64h1v1h-1z"/><path fill="#d87884" d="M2 155h1v1h-1zM4 195h1v1h-1zM4 206h1v1h-1zM5 166h1v1h-1zM10 14h1v1h-1zM10 161h1v1h-1zM11 59h1v2h-1zM11 64h1v1h-1zM13 59h1v1h-1zM13 72h1v1h-1zM14 67h1v1h-1zM14 71h1v1h-1zM14 81h1v1h-1z"/><path fill="#d87e8a" d="M2 161h1v1h-1zM4 135h1v1h-1zM4 152h1v1h-1zM4 174h1v1h-1zM4 194h1v1h-1zM4 214h1v1h-1zM5 191h1v1h-1zM7 37h1v1h-1zM8 29h1v1h-1zM10 55h1v1h-1zM10 58h1v1h-1zM10 67h1v1h-1zM10 71h1v1h-1zM11 55h1v1h-1zM12 57h1v1h-1zM13 53h1v1h-1zM13 57h1v1h-1zM13 75h1v1h-1zM14 57h1v1h-1zM14 83h1v1h-1z"/><path fill="#d8606c" d="M2 172h1v1h-1zM2 203h1v1h-1zM9 161h1v1h-1zM11 21h1v1h-1zM12 77h1v1h-1zM13 54h1v1h-1zM14 79h1v1h-1z"/><path fill="#d84e5a" d="M2 178h1v1h-1z"/><path fill="#d8aeba" d="M2 190h1v1h-1zM5 135h1v1h-1zM10 42h1v1h-1zM10 73h1v1h-1zM10 75h1v1h-1zM11 3h1v1h-1zM11 62h1v1h-1zM12 66h1v1h-1zM12 133h1v1h-1zM13 133h1v1h-1zM13 173h1v1h-1zM13 179h1v1h-1zM14 80h1v1h-1zM14 106h1v1h-1z"/><path fill="#d8a8b4" d="M2 194h1v1h-1zM4 165h1v1h-1zM4 167h1v1h-1zM4 173h1v1h-1zM5 75h1v1h-1zM10 44h1v1h-1zM10 48h1v1h-1zM10 181h1v1h-1zM10 199h1v1h-1zM11 45h1v1h-1zM11 212h1v1h-1zM12 56h1v1h-1zM12 87h1v1h-1zM12 171h1v1h-1zM13 51h1v1h-1zM13 171h1v1h-1zM13 211h1v1h-1zM14 58h1v1h-1zM14 76h1v2h-1z"/><path fill="#d8a2b4" d="M2 200h1v1h-1zM2 211h1v1h-1zM3 161h1v1h-1zM4 176h1v1h-1zM4 209h1v1h-1zM10 47h1v1h-1zM10 69h1v1h-1zM10 79h1v1h-1zM10 137h1v1h-1zM10 188h1v1h-1zM10 202h1v1h-1zM11 15h1v1h-1zM11 41h1v1h-1zM11 51h1v1h-1zM11 76h1v1h-1zM11 161h1v1h-1zM11 175h1v1h-1zM11 183h1v1h-1zM12 6h1v1h-1zM12 70h1v1h-1zM12 73h1v1h-1zM12 159h1v1h-1zM12 164h1v1h-1zM12 188h1v1h-1zM13 65h1v1h-1zM13 68h1v1h-1zM13 80h1v1h-1zM13 87h1v1h-1zM13 117h1v1h-1zM13 168h1v1h-1zM14 50h1v1h-1zM14 75h1v1h-1z"/><path fill="#ccc6ea" d="M3 208h1v1h-1zM3 215h1v1h-1zM5 103h1v1h-1zM6 19h1v1h-1zM6 21h1v1h-1zM8 66h1v1h-1zM9 83h1v1h-1zM13 0h1v1h-1zM14 21h1v1h-1z"/><path fill="#6072cc" d="M4 52h1v1h-1zM4 70h1v1h-1zM4 126h1v1h-1zM7 12h1v1h-1zM7 204h1v1h-1z"/><path fill="#d8787e" d="M4 140h1v1h-1zM4 156h1v1h-1zM4 168h1v1h-1zM5 181h1v1h-1zM11 166h1v1h-1zM14 48h1v1h-1z"/><path fill="#d8666c" d="M4 163h1v1h-1zM10 10h1v1h-1z"/><path fill="#d8545a" d="M4 175h1v1h-1zM4 189h1v1h-1zM4 197h1v1h-1zM4 202h1v1h-1zM7 36h1v1h-1zM8 28h1v1h-1zM10 12h1v1h-1zM10 60h1v1h-1zM11 12h1v1h-1zM13 48h1v1h-1z"/><path fill="#d87e84" d="M4 198h1v1h-1zM13 172h1v1h-1z"/><path fill="#d84854" d="M4 207h1v1h-1zM5 212h1v1h-1z"/><path fill="#d88496" d="M5 155h1v1h-1zM5 172h1v1h-1zM10 72h1v1h-1z"/><path fill="#d8bad2" d="M8 211h1v1h-1z"/><path fill="#d88a9c" d="M10 3h1v1h-1zM14 45h1v1h-1z"/><path fill="#d87278" d="M10 78h1v1h-1zM14 86h1v1h-1z"/></g>
<g transform="translate(599.10 70.70) scale(6.1385 0.9986)"><path fill="#ded8f0" d="M0 0h1v1h-1zM1 6h1v1h-1zM1 9h1v1h-1zM1 27h1v1h-1zM1 46h1v1h-1zM1 55h1v2h-1zM2 13h1v1h-1zM2 16h1v1h-1zM2 24h1v2h-1zM2 31h1v1h-1zM2 33h1v1h-1zM2 40h1v1h-1zM2 91h1v1h-1zM2 95h1v1h-1zM2 163h1v1h-1zM2 182h1v1h-1zM2 191h1v1h-1zM2 193h1v1h-1zM3 26h1v1h-1zM3 28h1v1h-1zM3 36h1v1h-1zM3 50h1v1h-1zM3 115h1v1h-1zM3 125h1v1h-1zM4 1h1v1h-1zM4 13h1v1h-1zM4 16h1v1h-1zM4 25h1v1h-1zM4 29h1v1h-1zM4 120h1v1h-1zM4 165h1v1h-1zM4 213h1v1h-1zM6 53h1v1h-1zM6 67h1v1h-1zM6 154h1v1h-1zM7 101h1v1h-1zM7 140h1v1h-1zM7 195h1v1h-1zM7 197h1v2h-1zM8 23h1v1h-1zM8 107h1v2h-1zM8 125h1v1h-1zM8 151h1v1h-1zM8 181h1v1h-1zM8 190h1v1h-1zM8 200h1v1h-1zM9 38h1v1h-1zM9 40h1v1h-1zM9 82h1v1h-1zM9 120h1v1h-1zM9 152h1v1h-1zM10 6h1v1h-1zM10 172h1v1h-1zM10 201h1v1h-1zM10 203h1v1h-1zM11 139h1v1h-1zM11 143h1v1h-1zM11 153h1v1h-1zM11 159h1v1h-1zM12 26h1v1h-1zM12 91h1v1h-1zM12 97h1v1h-1zM12 100h1v1h-1zM12 141h1v1h-1z"/><path fill="#ded2ea" d="M0 1h1v1h-1zM1 18h1v1h-1zM1 81h1v1h-1zM1 139h1v1h-1zM1 208h1v1h-1zM2 18h1v1h-1zM2 29h1v1h-1zM2 57h1v1h-1zM2 73h1v1h-1zM2 79h1v1h-1zM2 83h1v1h-1zM2 126h1v1h-1zM2 188h1v1h-1zM3 25h1v1h-1zM3 43h1v1h-1zM3 57h1v1h-1zM3 103h1v1h-1zM4 48h1v1h-1zM4 59h1v1h-1zM4 87h1v1h-1zM4 95h1v1h-1zM4 110h1v1h-1zM4 151h1v1h-1zM4 159h1v2h-1zM4 170h1v1h-1zM4 187h1v1h-1zM4 199h1v1h-1zM7 50h1v1h-1zM7 84h1v1h-1zM7 89h1v1h-1zM7 130h1v2h-1zM7 155h1v1h-1zM7 159h1v1h-1zM7 205h1v1h-1zM8 33h1v1h-1zM8 40h1v1h-1zM8 82h1v1h-1zM8 90h1v1h-1zM8 114h1v1h-1zM8 121h1v1h-1zM8 123h1v1h-1zM8 136h1v1h-1zM8 178h1v1h-1zM8 180h1v1h-1zM8 188h1v1h-1zM8 213h1v1h-1zM9 2h1v1h-1zM9 4h1v1h-1zM9 30h1v1h-1zM9 123h1v1h-1zM9 169h1v1h-1zM9 171h1v1h-1zM9 173h1v1h-1zM9 188h1v1h-1zM9 213h1v1h-1zM10 18h1v1h-1zM10 44h1v1h-1zM10 65h1v1h-1zM10 121h1v1h-1zM10 170h1v1h-1zM11 2h1v1h-1zM11 14h1v1h-1zM11 35h1v1h-1zM11 116h1v1h-1zM11 127h1v1h-1zM11 130h1v1h-1zM11 132h1v1h-1zM11 171h1v1h-1zM11 183h1v1h-1zM12 18h1v1h-1zM12 65h1v1h-1zM12 105h1v1h-1zM12 118h1v1h-1zM12 122h1v1h-1zM12 139h1v1h-1zM12 142h1v2h-1zM12 162h1v2h-1zM12 217h1v1h-1z"/><path fill="#c6c6ea" d="M0 2h1v1h-1zM0 10h1v1h-1zM0 62h1v1h-1zM0 72h1v1h-1zM0 108h1v1h-1zM0 127h1v1h-1zM0 130h1v1h-1zM0 133h1v1h-1zM1 88h1v1h-1zM1 164h1v1h-1zM1 216h1v1h-1zM2 27h1v1h-1zM2 65h1v1h-1zM2 75h1v1h-1zM2 81h1v1h-1zM2 105h1v1h-1zM2 170h1v1h-1zM3 23h1v1h-1zM3 34h1v1h-1zM3 37h1v1h-1zM3 56h1v1h-1zM3 85h1v1h-1zM3 91h1v1h-1zM3 94h1v1h-1zM3 121h1v1h-1zM4 7h1v1h-1zM4 9h1v1h-1zM4 11h1v1h-1zM4 23h1v1h-1zM4 58h1v1h-1zM4 86h1v1h-1zM4 96h1v1h-1zM4 112h1v1h-1zM4 118h1v1h-1zM4 125h1v1h-1zM4 169h1v1h-1zM4 171h1v1h-1zM4 179h1v1h-1zM4 181h1v1h-1zM4 203h1v1h-1zM5 62h1v1h-1zM5 72h1v1h-1zM6 1h1v1h-1zM6 20h1v1h-1zM6 25h1v1h-1zM6 36h1v1h-1zM6 58h1v1h-1zM6 69h1v1h-1zM6 103h1v1h-1zM6 142h1v1h-1zM6 202h1v1h-1zM6 213h1v1h-1zM7 37h1v1h-1zM7 74h1v1h-1zM7 86h1v1h-1zM7 88h1v1h-1zM7 98h1v1h-1zM7 121h1v2h-1zM7 143h1v1h-1zM7 165h1v1h-1zM7 203h1v1h-1zM8 96h1v1h-1zM8 139h1v1h-1zM8 162h1v1h-1zM8 177h1v1h-1zM9 37h1v1h-1zM9 119h1v1h-1zM10 3h1v1h-1zM10 166h1v1h-1zM10 177h1v1h-1zM11 41h1v1h-1zM12 38h1v1h-1z"/><path fill="#d8787e" d="M0 3h1v1h-1zM3 163h1v1h-1z"/><path fill="#d83636" d="M0 4h1v1h-1zM1 90h1v7h-1zM1 101h1v6h-1zM1 108h1v8h-1zM1 117h1v1h-1zM1 122h1v4h-1zM1 127h1v1h-1zM1 176h1v1h-1zM1 182h1v4h-1zM2 128h1v4h-1zM2 133h1v1h-1zM3 134h1v2h-1zM3 137h1v1h-1zM3 140h1v1h-1zM3 142h1v1h-1zM3 145h1v2h-1zM3 148h1v3h-1zM3 154h1v3h-1zM3 158h1v3h-1zM3 165h1v1h-1zM3 167h1v3h-1zM3 171h1v1h-1zM3 174h1v1h-1zM3 176h1v1h-1zM3 178h1v1h-1zM3 182h1v1h-1zM3 187h1v2h-1zM3 191h1v4h-1zM3 197h1v2h-1zM3 202h1v1h-1zM3 205h1v2h-1zM3 209h1v1h-1zM3 211h1v2h-1zM3 214h1v1h-1zM7 28h1v8h-1zM8 11h1v2h-1zM8 14h1v3h-1zM8 20h1v1h-1zM9 11h1v1h-1zM9 14h1v1h-1zM9 16h1v1h-1zM9 19h1v3h-1zM9 72h1v1h-1zM10 24h1v4h-1zM12 53h1v1h-1zM12 72h1v1h-1z"/><path fill="#d8484e" d="M0 5h1v1h-1zM1 97h1v1h-1zM1 181h1v1h-1zM3 162h1v1h-1zM3 177h1v1h-1zM8 19h1v1h-1zM9 12h1v1h-1zM9 15h1v1h-1zM12 63h1v1h-1z"/><path fill="#d890a2" d="M0 6h1v1h-1zM2 110h1v1h-1zM9 66h1v1h-1zM10 57h1v1h-1zM12 215h1v1h-1z"/><path fill="#d88a96" d="M0 7h1v1h-1zM1 8h1v1h-1zM1 57h1v1h-1zM1 80h1v1h-1zM1 148h1v1h-1zM1 168h1v1h-1zM1 209h1v1h-1zM2 102h1v1h-1zM9 45h1v1h-1zM9 53h1v1h-1zM9 80h1v1h-1zM9 87h1v1h-1zM10 23h1v1h-1zM10 45h1v1h-1zM10 61h1v1h-1zM11 58h1v1h-1zM11 66h1v1h-1zM11 176h1v1h-1zM12 16h1v1h-1zM12 69h1v1h-1zM12 73h1v1h-1zM12 80h1v1h-1zM12 156h1v1h-1zM12 176h1v1h-1z"/><path fill="#d83c42" d="M0 8h1v1h-1zM1 98h1v1h-1zM1 107h1v1h-1zM1 177h1v1h-1zM3 138h1v1h-1zM3 175h1v1h-1zM3 186h1v1h-1zM3 207h1v1h-1zM3 215h1v1h-1zM3 217h1v1h-1zM8 21h1v1h-1zM9 17h1v1h-1zM10 54h1v1h-1z"/><path fill="#b4b4e4" d="M0 9h1v1h-1zM0 63h1v1h-1zM0 95h1v1h-1zM0 111h1v1h-1zM2 9h1v1h-1zM2 100h1v1h-1zM2 143h1v1h-1zM2 147h1v1h-1zM4 119h1v1h-1zM4 166h1v1h-1zM5 63h1v1h-1zM5 198h1v1h-1zM6 6h1v1h-1zM6 13h1v1h-1zM6 27h1v1h-1zM6 34h1v1h-1zM6 49h1v2h-1zM6 94h1v1h-1zM6 109h1v1h-1zM6 137h1v1h-1zM6 157h1v2h-1zM7 13h1v1h-1zM7 23h1v1h-1zM7 55h1v1h-1zM7 124h1v1h-1zM7 152h1v1h-1zM7 200h1v1h-1zM8 3h1v1h-1zM8 164h1v1h-1zM11 216h1v1h-1z"/><path fill="#ded8ea" d="M0 11h1v2h-1zM1 3h1v1h-1zM1 23h1v1h-1zM1 34h1v1h-1zM1 65h1v1h-1zM2 37h1v1h-1zM2 46h1v1h-1zM2 49h1v1h-1zM2 85h1v1h-1zM2 92h1v1h-1zM2 119h1v1h-1zM2 140h1v1h-1zM2 142h1v1h-1zM2 149h1v1h-1zM2 160h1v1h-1zM2 175h1v1h-1zM2 178h1v1h-1zM2 186h1v2h-1zM2 202h1v1h-1zM2 206h1v1h-1zM3 5h1v1h-1zM3 12h1v1h-1zM3 48h1v1h-1zM3 61h1v1h-1zM3 67h1v1h-1zM3 71h1v1h-1zM3 73h1v1h-1zM3 129h1v1h-1zM4 19h1v1h-1zM4 27h1v1h-1zM4 41h1v1h-1zM4 45h1v1h-1zM4 49h1v1h-1zM4 52h1v1h-1zM4 124h1v1h-1zM4 129h1v1h-1zM4 134h1v1h-1zM4 145h1v1h-1zM4 154h1v1h-1zM4 174h1v1h-1zM4 180h1v1h-1zM4 182h1v1h-1zM4 185h1v1h-1zM4 191h1v1h-1zM6 11h1v1h-1zM6 14h1v1h-1zM6 16h1v1h-1zM6 76h1v1h-1zM6 214h1v1h-1zM7 64h1v1h-1zM7 76h1v1h-1zM7 108h1v1h-1zM7 154h1v1h-1zM7 156h1v1h-1zM7 174h1v1h-1zM7 184h1v2h-1zM8 26h1v1h-1zM8 91h1v1h-1zM8 97h1v1h-1zM8 137h1v1h-1zM8 144h1v1h-1zM8 157h1v1h-1zM8 203h1v1h-1zM9 33h1v1h-1zM9 35h1v1h-1zM9 88h1v1h-1zM9 92h1v1h-1zM9 105h1v1h-1zM9 136h1v1h-1zM9 166h1v1h-1zM9 179h1v2h-1zM9 203h1v1h-1zM9 217h1v1h-1zM10 2h1v1h-1zM10 15h1v1h-1zM10 35h1v1h-1zM10 96h1v1h-1zM10 116h1v1h-1zM10 125h1v1h-1zM10 143h1v1h-1zM10 154h1v1h-1zM10 162h1v1h-1zM10 211h1v1h-1zM10 213h1v1h-1zM11 21h1v1h-1zM11 26h1v1h-1zM11 152h1v1h-1zM11 178h1v1h-1zM11 200h1v1h-1zM12 7h1v1h-1zM12 17h1v1h-1zM12 34h1v1h-1zM12 40h1v1h-1zM12 96h1v1h-1zM12 114h1v1h-1zM12 157h1v1h-1zM12 174h1v1h-1zM12 202h1v1h-1z"/><path fill="#5a6cc6" d="M0 13h1v1h-1zM0 15h1v1h-1zM0 18h1v1h-1zM0 21h1v1h-1zM0 26h1v2h-1zM0 29h1v1h-1zM0 35h1v1h-1zM0 38h1v1h-1zM0 41h1v1h-1zM0 44h1v1h-1zM0 49h1v1h-1zM0 51h1v1h-1zM0 60h1v1h-1zM0 75h1v1h-1zM0 78h1v1h-1zM0 81h1v2h-1zM0 88h1v1h-1zM0 139h1v1h-1zM0 143h1v2h-1zM0 147h1v1h-1zM0 157h1v1h-1zM0 161h1v1h-1zM0 164h1v1h-1zM0 166h1v1h-1zM0 172h1v1h-1zM0 177h1v1h-1zM0 179h1v1h-1zM0 181h1v1h-1zM0 188h1v1h-1zM0 196h1v1h-1zM0 200h1v1h-1zM0 204h1v1h-1zM0 207h1v3h-1zM0 211h1v1h-1zM0 216h1v1h-1zM5 0h1v2h-1zM5 3h1v1h-1zM5 7h1v1h-1zM5 9h1v1h-1zM5 15h1v1h-1zM5 18h1v1h-1zM5 21h1v1h-1zM5 27h1v1h-1zM5 29h1v1h-1zM5 33h1v2h-1zM5 38h1v1h-1zM5 41h1v1h-1zM5 43h1v2h-1zM5 46h1v2h-1zM5 51h1v1h-1zM5 70h1v1h-1zM5 74h1v2h-1zM5 78h1v1h-1zM5 82h1v1h-1zM5 86h1v1h-1zM5 88h1v1h-1zM5 91h1v2h-1zM5 96h1v1h-1zM5 98h1v3h-1zM5 106h1v1h-1zM5 112h1v1h-1zM5 116h1v1h-1zM5 122h1v1h-1zM5 124h1v1h-1zM5 126h1v1h-1zM5 132h1v1h-1zM5 138h1v2h-1zM5 144h1v1h-1zM5 147h1v1h-1zM5 149h1v1h-1zM5 157h1v1h-1zM5 161h1v6h-1zM5 169h1v1h-1zM5 171h1v2h-1zM5 177h1v1h-1zM5 180h1v1h-1zM5 186h1v1h-1zM5 188h1v2h-1zM5 207h1v2h-1zM5 216h1v2h-1zM6 82h1v1h-1zM6 147h1v1h-1zM6 172h1v1h-1zM6 216h1v1h-1z"/><path fill="#909cd8" d="M0 14h1v1h-1zM0 122h1v1h-1zM0 174h1v1h-1zM0 185h1v1h-1zM4 172h1v1h-1z"/><path fill="#9ca2de" d="M0 16h1v1h-1zM0 135h1v1h-1zM5 168h1v1h-1zM5 184h1v1h-1zM5 192h1v1h-1zM5 194h1v1h-1zM6 3h1v1h-1zM6 79h1v1h-1zM6 90h1v1h-1zM6 92h1v1h-1zM6 101h1v1h-1zM6 105h1v1h-1zM6 111h1v2h-1zM6 124h1v1h-1zM6 163h1v1h-1zM6 191h1v1h-1zM7 92h1v1h-1zM7 147h1v1h-1zM7 201h1v1h-1zM8 216h1v1h-1zM11 18h1v1h-1zM11 164h1v1h-1z"/><path fill="#7884d2" d="M0 17h1v1h-1zM0 19h1v1h-1zM0 59h1v1h-1zM0 66h1v1h-1zM0 73h1v1h-1zM0 119h1v1h-1zM0 141h1v1h-1zM0 148h1v1h-1zM0 156h1v1h-1zM0 180h1v1h-1zM0 186h1v1h-1zM0 191h1v1h-1zM0 206h1v1h-1zM0 213h1v1h-1zM5 2h1v1h-1zM5 5h1v1h-1zM5 35h1v1h-1zM5 64h1v1h-1zM5 73h1v1h-1zM5 81h1v1h-1zM5 83h1v1h-1zM5 153h1v1h-1zM5 160h1v1h-1zM5 199h1v2h-1zM5 209h1v1h-1zM6 44h1v1h-1zM6 78h1v1h-1zM6 166h1v1h-1z"/><path fill="#9096d8" d="M0 20h1v1h-1zM0 22h1v2h-1zM0 28h1v1h-1zM0 47h1v1h-1zM0 52h1v1h-1zM0 57h1v1h-1zM0 61h1v1h-1zM0 114h1v1h-1zM0 159h1v1h-1zM0 178h1v1h-1zM0 187h1v1h-1zM2 216h1v1h-1zM5 14h1v1h-1zM5 22h1v1h-1zM5 57h1v1h-1zM5 61h1v1h-1zM5 111h1v1h-1zM5 113h1v1h-1zM5 123h1v1h-1zM5 197h1v1h-1zM5 202h1v1h-1zM6 23h1v1h-1zM6 41h1v1h-1zM6 98h1v1h-1zM6 118h1v2h-1zM6 169h1v1h-1zM6 217h1v1h-1z"/><path fill="#6672cc" d="M0 24h1v1h-1zM0 37h1v1h-1zM0 50h1v1h-1zM0 55h1v1h-1zM0 70h1v1h-1zM0 136h1v1h-1zM0 142h1v1h-1zM0 149h1v1h-1zM0 155h1v1h-1zM0 169h1v1h-1zM0 210h1v1h-1zM4 164h1v1h-1zM5 4h1v1h-1zM5 10h1v1h-1zM5 19h1v1h-1zM5 23h1v1h-1zM5 30h1v1h-1zM5 45h1v1h-1zM5 52h1v1h-1zM5 60h1v1h-1zM5 85h1v1h-1zM5 101h1v1h-1zM5 107h1v1h-1zM5 119h1v1h-1zM5 121h1v1h-1zM5 127h1v1h-1zM5 141h1v1h-1zM5 170h1v1h-1zM6 100h1v1h-1zM6 126h1v1h-1zM6 144h1v1h-1zM7 164h1v1h-1z"/><path fill="#727ecc" d="M0 25h1v1h-1zM0 34h1v1h-1zM0 36h1v1h-1zM0 64h1v1h-1zM0 86h1v1h-1zM0 173h1v1h-1zM0 175h1v1h-1zM5 6h1v1h-1zM5 8h1v1h-1zM5 17h1v1h-1zM5 36h1v1h-1zM5 40h1v1h-1zM5 50h1v1h-1zM5 66h1v1h-1zM5 145h1v1h-1zM5 174h1v1h-1z"/><path fill="#6c78cc" d="M0 30h1v1h-1zM0 33h1v1h-1zM0 39h1v1h-1zM0 56h1v1h-1zM0 69h1v1h-1zM0 71h1v1h-1zM0 79h1v1h-1zM0 85h1v1h-1zM0 100h1v1h-1zM0 137h1v2h-1zM0 153h1v1h-1zM0 163h1v1h-1zM0 170h1v1h-1zM0 193h1v1h-1zM0 195h1v1h-1zM0 217h1v1h-1zM5 26h1v1h-1zM5 31h1v1h-1zM5 55h1v2h-1zM5 65h1v1h-1zM5 67h1v1h-1zM5 90h1v1h-1zM5 97h1v1h-1zM5 120h1v1h-1zM5 129h1v1h-1zM5 137h1v1h-1zM5 152h1v1h-1zM5 156h1v1h-1zM5 178h1v2h-1zM5 190h1v1h-1zM5 201h1v1h-1zM5 203h1v1h-1z"/><path fill="#969cd8" d="M0 31h1v1h-1zM0 46h1v1h-1zM0 58h1v1h-1zM0 91h1v1h-1zM0 121h1v1h-1zM0 134h1v1h-1zM0 189h1v1h-1zM0 202h1v1h-1zM2 164h1v1h-1zM2 166h1v1h-1zM4 216h1v1h-1zM5 12h1v1h-1zM5 71h1v1h-1zM5 95h1v1h-1zM5 109h1v1h-1zM5 117h1v1h-1zM5 142h1v1h-1zM5 148h1v1h-1zM5 151h1v1h-1zM5 154h1v1h-1zM5 182h1v1h-1zM5 185h1v1h-1zM5 193h1v1h-1zM5 206h1v1h-1zM5 213h1v1h-1zM6 60h1v1h-1zM6 91h1v1h-1zM6 96h1v1h-1zM6 125h1v1h-1zM6 128h1v1h-1zM6 132h1v1h-1zM6 143h1v1h-1zM6 175h1v1h-1zM6 180h1v1h-1zM6 188h1v1h-1zM6 200h1v1h-1zM6 208h1v1h-1zM7 51h1v1h-1z"/><path fill="#a2a8de" d="M0 32h1v1h-1zM0 42h1v1h-1zM0 53h1v1h-1zM0 76h1v2h-1zM0 83h1v2h-1zM0 87h1v1h-1zM0 89h1v1h-1zM0 146h1v1h-1zM0 176h1v1h-1zM0 212h1v1h-1zM2 78h1v1h-1zM2 98h1v1h-1zM3 3h1v1h-1zM3 100h1v1h-1zM5 16h1v1h-1zM6 15h1v1h-1zM6 37h1v1h-1zM6 51h1v1h-1zM6 65h1v1h-1zM6 87h1v2h-1zM6 115h1v1h-1zM6 122h1v2h-1zM6 138h1v2h-1zM6 145h1v1h-1zM6 149h1v1h-1zM6 159h1v1h-1zM6 181h1v1h-1zM6 201h1v1h-1zM6 204h1v1h-1zM7 10h1v1h-1zM7 82h1v1h-1zM7 126h1v1h-1zM7 166h1v1h-1zM7 172h1v1h-1zM11 15h1v1h-1z"/><path fill="#606ccc" d="M0 40h1v1h-1zM0 43h1v1h-1zM0 190h1v1h-1zM0 199h1v1h-1zM0 203h1v1h-1zM5 115h1v1h-1zM5 125h1v1h-1zM5 181h1v1h-1z"/><path fill="#8490d2" d="M0 45h1v1h-1zM0 125h1v1h-1zM0 184h1v1h-1zM0 197h1v1h-1zM5 11h1v1h-1zM5 25h1v1h-1zM5 103h1v1h-1zM5 134h1v1h-1zM5 155h1v1h-1zM5 187h1v1h-1zM5 204h1v1h-1zM6 127h1v1h-1z"/><path fill="#848ad2" d="M0 48h1v1h-1zM0 54h1v1h-1zM0 68h1v1h-1zM0 116h1v1h-1zM0 151h1v1h-1zM5 32h1v1h-1zM5 58h1v1h-1zM5 87h1v1h-1zM5 114h1v1h-1zM5 128h1v1h-1zM5 176h1v1h-1zM6 177h1v1h-1z"/><path fill="#7278cc" d="M0 65h1v1h-1zM5 24h1v1h-1z"/><path fill="#727ed2" d="M0 67h1v1h-1zM0 74h1v1h-1zM0 154h1v1h-1zM0 160h1v1h-1zM0 171h1v1h-1zM0 201h1v1h-1zM5 39h1v1h-1zM5 159h1v1h-1zM6 164h1v1h-1z"/><path fill="#a8aede" d="M0 80h1v1h-1zM0 98h1v1h-1zM0 168h1v1h-1zM2 177h1v1h-1zM3 15h1v1h-1zM4 82h1v1h-1zM4 208h1v1h-1zM5 42h1v1h-1zM5 89h1v1h-1zM5 131h1v1h-1zM6 18h1v1h-1zM6 43h1v1h-1zM6 56h1v1h-1zM6 64h1v1h-1zM6 68h1v1h-1zM6 70h1v1h-1zM6 81h1v1h-1zM6 97h1v1h-1zM6 107h1v1h-1zM6 116h1v1h-1zM6 136h1v1h-1zM6 152h1v1h-1zM6 160h1v1h-1zM6 170h1v1h-1zM6 183h1v1h-1zM7 41h1v1h-1zM7 44h1v1h-1zM7 56h1v1h-1zM7 162h1v1h-1zM7 177h1v1h-1zM7 211h1v1h-1zM9 164h1v1h-1zM11 100h1v1h-1z"/><path fill="#aeb4de" d="M0 90h1v1h-1zM0 94h1v1h-1zM0 118h1v1h-1zM0 205h1v1h-1zM2 7h1v1h-1zM2 172h1v1h-1zM4 88h1v1h-1zM5 84h1v1h-1zM5 93h1v1h-1zM5 146h1v1h-1zM6 30h1v1h-1zM6 85h1v1h-1zM6 104h1v1h-1zM6 106h1v1h-1zM6 129h1v1h-1zM7 9h1v1h-1zM7 114h1v1h-1zM7 132h1v1h-1z"/><path fill="#babae4" d="M0 92h1v1h-1zM0 101h1v1h-1zM0 123h1v1h-1zM1 41h1v1h-1zM2 3h1v1h-1zM2 196h1v1h-1zM3 40h1v1h-1zM3 55h1v1h-1zM3 88h1v1h-1zM3 119h1v1h-1zM3 124h1v1h-1zM4 21h1v1h-1zM4 26h1v1h-1zM4 70h1v1h-1zM4 78h1v1h-1zM4 92h1v1h-1zM4 107h1v1h-1zM4 116h1v1h-1zM4 132h1v1h-1zM4 144h1v1h-1zM4 177h1v1h-1zM4 200h1v1h-1zM5 68h1v1h-1zM5 205h1v1h-1zM6 4h1v1h-1zM6 9h1v1h-1zM6 45h1v1h-1zM6 59h1v1h-1zM6 73h1v1h-1zM6 95h1v1h-1zM6 141h1v1h-1zM6 162h1v1h-1zM6 182h1v1h-1zM6 186h1v1h-1zM6 195h1v1h-1zM6 215h1v1h-1zM7 21h1v1h-1zM7 26h1v1h-1zM7 38h1v1h-1zM7 40h1v1h-1zM7 43h1v1h-1zM7 46h1v1h-1zM7 60h1v1h-1zM7 90h1v1h-1zM7 111h1v1h-1zM7 116h1v1h-1zM7 182h1v1h-1zM7 196h1v1h-1zM7 217h1v1h-1zM9 196h1v1h-1zM11 17h1v1h-1z"/><path fill="#d2d2ea" d="M0 93h1v1h-1zM0 102h1v1h-1zM1 38h1v1h-1zM1 60h1v1h-1zM1 74h1v1h-1zM1 162h1v1h-1zM1 196h1v1h-1zM2 0h1v1h-1zM2 35h1v1h-1zM2 43h1v1h-1zM2 66h1v1h-1zM2 101h1v1h-1zM2 145h1v1h-1zM2 151h1v1h-1zM2 157h1v1h-1zM2 159h1v1h-1zM2 161h1v2h-1zM2 199h1v1h-1zM2 211h1v1h-1zM2 213h1v1h-1zM3 10h1v1h-1zM3 19h1v1h-1zM3 21h1v1h-1zM3 35h1v1h-1zM3 47h1v1h-1zM3 58h1v1h-1zM3 64h1v1h-1zM3 96h1v1h-1zM4 30h1v1h-1zM4 51h1v1h-1zM4 65h1v1h-1zM4 69h1v1h-1zM4 74h1v2h-1zM4 90h1v1h-1zM4 105h1v1h-1zM4 111h1v1h-1zM4 122h1v1h-1zM4 136h1v1h-1zM4 143h1v1h-1zM4 163h1v1h-1zM4 178h1v1h-1zM4 188h1v1h-1zM4 207h1v1h-1zM6 17h1v1h-1zM6 63h1v1h-1zM6 83h1v2h-1zM6 130h1v1h-1zM6 146h1v1h-1zM6 198h1v1h-1zM7 5h1v1h-1zM7 11h1v2h-1zM7 27h1v1h-1zM7 45h1v1h-1zM7 71h1v1h-1zM7 73h1v1h-1zM7 79h1v1h-1zM7 94h1v2h-1zM7 104h1v1h-1zM7 106h1v1h-1zM7 109h1v1h-1zM7 115h1v1h-1zM7 151h1v1h-1zM7 158h1v1h-1zM7 160h1v1h-1zM7 175h1v1h-1zM7 179h1v1h-1zM7 183h1v1h-1zM7 187h1v1h-1zM7 199h1v1h-1zM7 204h1v1h-1zM7 213h1v1h-1zM8 0h1v1h-1zM8 4h1v1h-1zM8 7h1v1h-1zM8 34h1v1h-1zM8 41h1v1h-1zM8 98h1v1h-1zM8 120h1v1h-1zM8 161h1v1h-1zM8 166h1v1h-1zM8 171h1v1h-1zM9 78h1v1h-1zM9 124h1v1h-1zM9 132h1v1h-1zM10 13h1v1h-1zM10 30h1v1h-1zM10 37h1v1h-1zM10 78h1v1h-1zM10 120h1v1h-1zM10 126h1v1h-1zM10 139h1v1h-1zM10 161h1v1h-1zM10 178h1v1h-1zM10 199h1v1h-1zM10 207h1v1h-1zM11 6h1v1h-1zM11 30h1v1h-1zM11 98h1v1h-1zM11 112h1v1h-1zM11 157h1v1h-1zM11 208h1v1h-1zM12 21h1v1h-1zM12 29h1v1h-1zM12 112h1v1h-1zM12 181h1v1h-1zM12 183h1v1h-1zM12 208h1v1h-1z"/><path fill="#aeaede" d="M0 96h1v1h-1zM0 105h1v1h-1zM2 41h1v1h-1zM3 112h1v1h-1zM4 147h1v1h-1zM5 53h1v1h-1zM5 77h1v1h-1zM5 80h1v1h-1zM5 102h1v1h-1zM5 214h1v1h-1zM6 0h1v1h-1zM6 8h1v1h-1zM6 39h1v2h-1zM6 46h1v1h-1zM6 74h1v1h-1zM6 108h1v1h-1zM6 151h1v1h-1zM6 171h1v1h-1zM6 187h1v1h-1zM6 211h1v1h-1zM7 24h1v1h-1zM7 139h1v1h-1zM9 172h1v1h-1zM11 12h1v1h-1z"/><path fill="#8a96d8" d="M0 97h1v1h-1zM0 194h1v1h-1zM5 20h1v1h-1zM5 79h1v1h-1zM5 167h1v1h-1zM5 191h1v1h-1zM7 78h1v1h-1zM11 9h1v1h-1z"/><path fill="#9ca2d8" d="M0 99h1v1h-1zM0 120h1v1h-1zM0 150h1v1h-1zM0 182h1v1h-1zM0 192h1v1h-1zM4 100h1v1h-1zM5 28h1v1h-1zM5 48h1v1h-1zM5 59h1v1h-1zM5 195h1v1h-1zM6 86h1v1h-1zM6 179h1v1h-1zM7 100h1v1h-1z"/><path fill="#bac0e4" d="M0 103h1v1h-1zM0 110h1v1h-1zM2 23h1v1h-1zM2 82h1v1h-1zM3 9h1v1h-1zM3 111h1v1h-1zM4 44h1v1h-1zM4 98h1v2h-1zM4 126h1v2h-1zM6 57h1v1h-1zM7 6h1v2h-1zM7 141h1v1h-1zM9 216h1v1h-1zM11 10h1v1h-1zM11 13h1v1h-1z"/><path fill="#ccccea" d="M0 104h1v1h-1zM1 21h1v1h-1zM1 43h1v2h-1zM1 82h1v1h-1zM2 6h1v1h-1zM2 10h1v3h-1zM2 44h1v1h-1zM2 55h1v1h-1zM2 60h1v1h-1zM2 69h1v1h-1zM2 90h1v1h-1zM2 96h1v1h-1zM2 190h1v1h-1zM2 200h1v1h-1zM2 207h1v1h-1zM3 6h1v1h-1zM3 30h1v1h-1zM3 46h1v1h-1zM3 52h1v1h-1zM3 60h1v1h-1zM3 66h1v1h-1zM3 101h1v1h-1zM3 105h1v2h-1zM3 118h1v1h-1zM3 120h1v1h-1zM4 24h1v1h-1zM4 33h1v2h-1zM4 36h1v1h-1zM4 97h1v1h-1zM4 114h1v1h-1zM4 123h1v1h-1zM4 137h1v1h-1zM4 189h1v1h-1zM4 201h1v1h-1zM4 204h1v1h-1zM4 217h1v1h-1zM6 2h1v1h-1zM6 5h1v1h-1zM6 24h1v1h-1zM6 35h1v1h-1zM6 47h1v1h-1zM6 61h1v1h-1zM6 77h1v1h-1zM6 89h1v1h-1zM6 133h1v1h-1zM6 150h1v1h-1zM6 153h1v1h-1zM6 155h1v1h-1zM6 189h1v1h-1zM6 192h1v1h-1zM6 197h1v1h-1zM6 209h1v1h-1zM7 3h1v1h-1zM7 8h1v1h-1zM7 19h1v1h-1zM7 85h1v1h-1zM7 99h1v1h-1zM7 105h1v1h-1zM7 120h1v1h-1zM7 128h1v1h-1zM7 148h1v2h-1zM7 161h1v1h-1zM7 163h1v1h-1zM7 171h1v1h-1zM7 190h1v1h-1zM7 210h1v1h-1zM8 30h1v1h-1zM8 38h1v1h-1zM8 138h1v1h-1zM9 6h1v1h-1zM9 23h1v1h-1zM9 41h1v1h-1zM9 116h1v1h-1zM9 126h1v1h-1zM9 143h1v1h-1zM9 147h1v1h-1zM9 177h1v1h-1zM10 38h1v1h-1zM10 60h1v1h-1zM10 91h1v1h-1zM10 144h1v1h-1zM10 174h1v1h-1zM10 181h1v1h-1zM11 3h1v1h-1zM11 172h1v1h-1zM12 3h1v1h-1zM12 10h1v1h-1zM12 119h1v1h-1zM12 172h1v1h-1zM12 177h1v1h-1zM12 179h1v1h-1z"/><path fill="#b4bae4" d="M0 106h1v1h-1zM0 112h1v1h-1zM3 7h1v1h-1zM4 56h1v1h-1zM5 135h1v1h-1zM6 22h1v1h-1zM6 71h1v1h-1zM6 134h1v1h-1zM6 173h1v1h-1zM6 193h1v1h-1zM6 203h1v1h-1zM7 125h1v1h-1zM7 138h1v1h-1zM7 169h1v1h-1zM7 181h1v1h-1zM7 188h1v1h-1zM7 207h1v1h-1zM9 144h1v1h-1zM10 100h1v1h-1zM11 166h1v1h-1z"/><path fill="#c0c0e4" d="M0 107h1v1h-1zM0 109h1v1h-1zM0 115h1v1h-1zM0 128h1v2h-1zM0 131h1v1h-1zM1 78h1v1h-1zM1 166h1v1h-1zM2 139h1v1h-1zM2 144h1v1h-1zM2 180h1v1h-1zM3 0h1v1h-1zM3 4h1v1h-1zM3 24h1v1h-1zM3 27h1v1h-1zM3 39h1v1h-1zM3 44h1v1h-1zM3 51h1v1h-1zM3 70h1v1h-1zM3 86h1v1h-1zM3 92h1v1h-1zM3 98h1v1h-1zM3 116h1v1h-1zM3 126h1v1h-1zM4 18h1v1h-1zM4 43h1v1h-1zM4 50h1v1h-1zM4 55h1v1h-1zM4 81h1v1h-1zM4 91h1v1h-1zM4 115h1v1h-1zM4 162h1v1h-1zM4 183h1v1h-1zM4 196h1v1h-1zM5 54h1v1h-1zM6 7h1v1h-1zM6 10h1v1h-1zM6 31h1v1h-1zM6 33h1v1h-1zM6 48h1v1h-1zM6 52h1v1h-1zM6 75h1v1h-1zM6 99h1v1h-1zM6 110h1v1h-1zM6 131h1v1h-1zM6 140h1v1h-1zM6 148h1v1h-1zM6 156h1v1h-1zM6 165h1v1h-1zM6 167h1v1h-1zM6 174h1v1h-1zM6 185h1v1h-1zM6 206h1v1h-1zM6 212h1v1h-1zM7 0h1v2h-1zM7 4h1v1h-1zM7 15h1v1h-1zM7 17h1v1h-1zM7 25h1v1h-1zM7 39h1v1h-1zM7 61h1v1h-1zM7 81h1v1h-1zM7 97h1v1h-1zM7 137h1v1h-1zM7 144h1v1h-1zM7 157h1v1h-1zM7 178h1v1h-1zM7 191h1v1h-1zM7 208h1v1h-1zM8 6h1v1h-1zM8 100h1v1h-1zM8 147h1v1h-1zM9 7h1v1h-1zM9 26h1v1h-1zM9 100h1v1h-1zM9 112h1v1h-1zM10 41h1v1h-1zM10 147h1v1h-1zM11 8h1v1h-1zM11 11h1v1h-1zM11 144h1v1h-1zM11 147h1v1h-1zM12 126h1v1h-1zM12 144h1v1h-1zM12 166h1v1h-1z"/><path fill="#c6c6e4" d="M0 113h1v1h-1zM2 15h1v1h-1zM2 38h1v1h-1zM2 51h1v1h-1zM2 86h1v1h-1zM4 60h1v1h-1zM4 64h1v1h-1zM4 128h1v1h-1zM6 29h1v1h-1zM6 205h1v1h-1zM7 18h1v1h-1zM7 58h1v1h-1zM7 70h1v1h-1zM7 170h1v1h-1zM11 196h1v1h-1zM12 216h1v1h-1z"/><path fill="#ccc6ea" d="M0 117h1v1h-1zM2 21h1v1h-1zM2 26h1v1h-1zM3 99h1v1h-1zM3 114h1v1h-1zM4 161h1v1h-1zM6 80h1v1h-1zM7 173h1v1h-1zM8 196h1v1h-1zM9 98h1v1h-1zM12 147h1v1h-1z"/><path fill="#7e8ad2" d="M0 124h1v1h-1zM0 145h1v1h-1zM0 198h1v1h-1zM5 94h1v1h-1zM5 143h1v1h-1zM5 175h1v1h-1zM5 210h1v2h-1zM6 38h1v1h-1zM6 55h1v1h-1zM6 196h1v1h-1z"/><path fill="#787ed2" d="M0 126h1v1h-1zM5 130h1v1h-1z"/><path fill="#8a90d8" d="M0 132h1v1h-1zM0 140h1v1h-1zM0 165h1v1h-1zM0 214h1v2h-1zM5 69h1v1h-1zM5 76h1v1h-1zM5 104h1v1h-1zM5 118h1v1h-1zM5 136h1v1h-1zM5 150h1v1h-1zM5 158h1v1h-1zM6 26h1v1h-1zM7 216h1v1h-1z"/><path fill="#606cc6" d="M0 152h1v1h-1zM5 13h1v1h-1zM5 49h1v1h-1zM5 105h1v1h-1zM5 196h1v1h-1z"/><path fill="#7e84d2" d="M0 158h1v1h-1zM0 167h1v1h-1zM5 108h1v1h-1zM5 140h1v1h-1zM5 173h1v1h-1zM5 183h1v1h-1z"/><path fill="#6072cc" d="M0 162h1v1h-1zM0 183h1v1h-1zM5 37h1v1h-1z"/><path fill="#d8b4c6" d="M1 0h1v1h-1zM1 14h1v1h-1zM1 19h1v1h-1zM1 32h1v2h-1zM1 73h1v1h-1zM1 171h1v1h-1zM1 187h1v1h-1zM1 190h1v1h-1zM1 202h1v1h-1zM2 48h1v1h-1zM2 62h1v2h-1zM2 106h1v1h-1zM2 114h1v1h-1zM2 134h1v1h-1zM2 146h1v1h-1zM2 176h1v1h-1zM2 185h1v1h-1zM3 16h1v1h-1zM3 54h1v1h-1zM3 81h1v1h-1zM3 93h1v1h-1zM3 104h1v1h-1zM3 164h1v1h-1zM7 62h1v1h-1zM7 133h1v1h-1zM7 215h1v1h-1zM8 47h1v1h-1zM8 64h1v1h-1zM8 75h1v1h-1zM8 102h1v1h-1zM8 156h1v1h-1zM8 169h1v1h-1zM8 189h1v1h-1zM8 197h1v1h-1zM8 214h1v1h-1zM9 75h1v1h-1zM9 131h1v1h-1zM9 167h1v1h-1zM9 175h1v1h-1zM9 184h1v1h-1zM9 209h1v1h-1zM10 1h1v1h-1zM10 16h1v1h-1zM10 32h1v1h-1zM10 43h1v1h-1zM10 83h1v1h-1zM10 134h1v1h-1zM10 186h1v1h-1zM10 194h1v1h-1zM10 206h1v1h-1zM11 32h1v1h-1zM11 44h1v1h-1zM11 50h1v1h-1zM11 55h1v2h-1zM11 95h1v1h-1zM11 110h1v1h-1zM11 131h1v1h-1zM11 140h1v1h-1zM11 160h1v1h-1zM11 163h1v1h-1zM11 198h1v1h-1zM12 8h1v1h-1zM12 44h1v1h-1zM12 46h1v1h-1zM12 51h1v1h-1zM12 68h1v1h-1zM12 88h1v1h-1zM12 101h1v1h-1zM12 106h1v1h-1zM12 109h1v1h-1zM12 133h1v1h-1zM12 169h1v1h-1zM12 186h1v1h-1zM12 189h1v1h-1zM12 203h1v1h-1zM12 206h1v1h-1zM12 214h1v1h-1z"/><path fill="#d89ca8" d="M1 1h1v1h-1zM1 130h1v1h-1zM1 156h1v1h-1zM1 160h1v1h-1zM1 193h1v2h-1zM2 42h1v1h-1zM3 74h1v1h-1zM8 66h1v1h-1zM8 198h1v1h-1zM8 205h1v1h-1zM9 56h1v1h-1zM9 134h1v1h-1zM9 155h1v1h-1zM10 104h1v1h-1zM10 135h1v1h-1zM11 20h1v1h-1zM11 61h1v1h-1zM11 70h1v1h-1zM11 212h1v1h-1zM12 131h1v1h-1zM12 194h1v1h-1zM12 209h1v1h-1z"/><path fill="#d8a8ba" d="M1 2h1v1h-1zM1 42h1v1h-1zM1 54h1v1h-1zM1 134h1v1h-1zM1 154h1v1h-1zM1 195h1v1h-1zM1 204h1v1h-1zM1 214h1v1h-1zM2 107h1v1h-1zM2 112h1v1h-1zM2 122h1v1h-1zM2 194h1v1h-1zM3 31h1v1h-1zM3 53h1v1h-1zM3 79h1v1h-1zM4 62h1v1h-1zM4 176h1v1h-1zM8 32h1v1h-1zM8 51h1v1h-1zM8 110h1v1h-1zM8 184h1v1h-1zM9 46h1v1h-1zM9 97h1v1h-1zM9 102h1v1h-1zM10 20h1v1h-1zM10 50h1v1h-1zM10 79h1v1h-1zM11 49h1v1h-1zM11 52h1v1h-1zM11 156h1v1h-1zM11 167h1v1h-1zM11 184h1v1h-1zM11 192h1v1h-1zM11 206h1v1h-1zM12 50h1v1h-1zM12 64h1v1h-1zM12 104h1v1h-1zM12 134h1v1h-1zM12 153h1v2h-1z"/><path fill="#dec6d8" d="M1 4h1v1h-1zM1 11h1v1h-1zM1 22h1v1h-1zM1 36h1v1h-1zM1 39h1v1h-1zM1 45h1v1h-1zM1 47h1v1h-1zM1 58h1v2h-1zM1 66h1v1h-1zM1 89h1v1h-1zM1 138h1v1h-1zM1 158h1v1h-1zM1 163h1v1h-1zM1 213h1v1h-1zM2 17h1v1h-1zM2 20h1v1h-1zM2 53h1v1h-1zM2 116h1v1h-1zM2 148h1v1h-1zM2 215h1v1h-1zM3 45h1v1h-1zM3 75h1v1h-1zM4 38h1v1h-1zM4 77h1v1h-1zM4 80h1v1h-1zM4 146h1v1h-1zM4 209h1v1h-1zM6 62h1v1h-1zM7 14h1v1h-1zM7 52h1v1h-1zM7 66h1v1h-1zM7 102h1v1h-1zM7 145h1v1h-1zM7 176h1v1h-1zM7 214h1v1h-1zM8 1h1v1h-1zM8 43h1v2h-1zM8 56h1v1h-1zM8 103h1v1h-1zM8 118h1v1h-1zM8 141h1v1h-1zM8 165h1v1h-1zM8 174h1v1h-1zM8 211h1v1h-1zM8 217h1v1h-1zM9 0h1v1h-1zM9 5h1v1h-1zM9 25h1v1h-1zM9 27h1v1h-1zM9 31h1v1h-1zM9 34h1v1h-1zM9 36h1v1h-1zM9 104h1v1h-1zM9 108h1v1h-1zM9 110h1v2h-1zM9 140h1v1h-1zM9 148h1v1h-1zM9 151h1v1h-1zM9 157h1v1h-1zM9 191h1v1h-1zM9 204h1v1h-1zM9 215h1v1h-1zM10 101h1v1h-1zM10 103h1v1h-1zM10 151h1v1h-1zM10 160h1v1h-1zM10 184h1v1h-1zM10 189h1v1h-1zM10 197h1v1h-1zM10 210h1v1h-1zM10 217h1v1h-1zM11 5h1v1h-1zM11 19h1v1h-1zM11 22h1v1h-1zM11 114h1v1h-1zM11 118h1v1h-1zM11 128h1v1h-1zM11 142h1v1h-1zM11 165h1v1h-1zM11 187h1v1h-1zM11 190h1v1h-1zM11 199h1v1h-1zM11 202h1v1h-1zM11 204h1v1h-1zM12 22h1v1h-1zM12 25h1v1h-1zM12 108h1v1h-1zM12 111h1v1h-1zM12 123h1v1h-1zM12 129h1v1h-1zM12 132h1v1h-1zM12 155h1v1h-1zM12 159h1v1h-1zM12 171h1v1h-1zM12 193h1v1h-1zM12 201h1v1h-1zM12 210h1v2h-1z"/><path fill="#ded2e4" d="M1 5h1v1h-1zM1 10h1v1h-1zM1 13h1v1h-1zM1 50h1v1h-1zM1 86h1v1h-1zM1 147h1v1h-1zM1 169h1v1h-1zM1 172h1v1h-1zM2 52h1v1h-1zM2 64h1v1h-1zM2 87h1v1h-1zM2 125h1v1h-1zM2 165h1v1h-1zM2 167h1v1h-1zM2 169h1v1h-1zM2 197h1v1h-1zM2 209h1v1h-1zM3 1h1v1h-1zM3 32h1v2h-1zM3 84h1v1h-1zM3 87h1v1h-1zM3 110h1v1h-1zM4 20h1v1h-1zM4 31h1v2h-1zM4 46h1v1h-1zM4 53h1v1h-1zM4 61h1v1h-1zM4 67h1v1h-1zM4 79h1v1h-1zM4 85h1v1h-1zM4 102h1v1h-1zM4 109h1v1h-1zM4 130h1v2h-1zM4 149h1v1h-1zM4 156h1v1h-1zM4 197h1v1h-1zM4 202h1v1h-1zM7 16h1v1h-1zM7 54h1v1h-1zM7 129h1v1h-1zM7 134h1v1h-1zM7 146h1v1h-1zM8 27h1v1h-1zM8 55h1v1h-1zM8 111h1v1h-1zM8 119h1v1h-1zM8 163h1v1h-1zM8 173h1v1h-1zM9 1h1v1h-1zM9 8h1v1h-1zM9 24h1v1h-1zM9 96h1v1h-1zM9 99h1v1h-1zM9 103h1v1h-1zM9 121h1v1h-1zM9 129h1v1h-1zM9 158h1v1h-1zM9 161h1v2h-1zM9 165h1v1h-1zM9 182h1v1h-1zM9 201h1v1h-1zM10 9h1v1h-1zM10 34h1v1h-1zM10 40h1v1h-1zM10 85h1v1h-1zM10 92h1v1h-1zM10 94h1v1h-1zM10 98h1v1h-1zM10 109h1v1h-1zM10 119h1v1h-1zM10 140h1v1h-1zM10 145h1v1h-1zM10 153h1v1h-1zM10 157h1v1h-1zM10 169h1v1h-1zM10 171h1v1h-1zM10 179h1v2h-1zM10 182h1v2h-1zM10 191h1v1h-1zM10 208h1v1h-1zM11 1h1v1h-1zM11 4h1v1h-1zM11 78h1v1h-1zM11 91h1v1h-1zM11 94h1v1h-1zM11 104h1v1h-1zM11 122h1v1h-1zM11 151h1v1h-1zM11 154h1v1h-1zM11 158h1v1h-1zM11 161h1v1h-1zM11 179h1v1h-1zM11 188h1v2h-1zM11 195h1v1h-1zM11 201h1v1h-1zM11 203h1v1h-1zM12 2h1v1h-1zM12 12h1v1h-1zM12 15h1v1h-1zM12 23h1v1h-1zM12 36h1v1h-1zM12 41h1v1h-1zM12 60h1v1h-1zM12 90h1v1h-1zM12 121h1v1h-1zM12 145h1v1h-1zM12 152h1v1h-1zM12 188h1v1h-1zM12 195h1v1h-1z"/><path fill="#d8d2ea" d="M1 7h1v1h-1zM1 12h1v1h-1zM1 30h1v1h-1zM1 37h1v1h-1zM1 75h1v1h-1zM1 144h1v1h-1zM2 39h1v1h-1zM2 58h1v1h-1zM2 74h1v1h-1zM2 88h1v1h-1zM2 136h1v1h-1zM2 152h1v1h-1zM2 171h1v1h-1zM2 181h1v1h-1zM2 183h1v1h-1zM3 11h1v1h-1zM3 17h1v1h-1zM3 90h1v1h-1zM3 97h1v1h-1zM3 128h1v1h-1zM3 132h1v1h-1zM4 57h1v1h-1zM4 104h1v1h-1zM4 108h1v1h-1zM4 138h1v2h-1zM4 141h1v1h-1zM4 157h1v1h-1zM4 186h1v1h-1zM4 206h1v1h-1zM6 12h1v1h-1zM6 19h1v1h-1zM6 28h1v1h-1zM6 102h1v1h-1zM6 113h1v1h-1zM6 176h1v1h-1zM6 184h1v1h-1zM7 53h1v1h-1zM7 77h1v1h-1zM7 103h1v1h-1zM7 142h1v1h-1zM7 189h1v1h-1zM7 202h1v1h-1zM8 92h1v1h-1zM8 105h1v1h-1zM8 172h1v1h-1zM8 175h1v1h-1zM8 179h1v1h-1zM9 208h1v1h-1zM9 211h1v1h-1zM10 7h1v1h-1zM10 97h1v1h-1zM10 99h1v1h-1zM10 112h1v1h-1zM10 118h1v1h-1zM10 200h1v1h-1zM11 40h1v1h-1zM12 9h1v1h-1zM12 37h1v1h-1zM12 98h1v1h-1zM12 116h1v1h-1zM12 125h1v1h-1z"/><path fill="#deccde" d="M1 15h1v1h-1zM1 25h1v1h-1zM1 29h1v1h-1zM1 40h1v1h-1zM1 49h1v1h-1zM1 70h1v1h-1zM1 141h1v1h-1zM1 188h1v1h-1zM1 201h1v1h-1zM2 2h1v1h-1zM2 32h1v1h-1zM2 45h1v1h-1zM2 94h1v1h-1zM2 103h1v1h-1zM2 118h1v1h-1zM2 150h1v1h-1zM2 153h1v1h-1zM2 155h1v2h-1zM2 168h1v1h-1zM2 184h1v1h-1zM2 195h1v1h-1zM2 204h1v1h-1zM3 14h1v1h-1zM3 68h1v1h-1zM3 108h1v1h-1zM3 117h1v1h-1zM4 17h1v1h-1zM4 39h1v1h-1zM4 66h1v1h-1zM4 68h1v1h-1zM4 72h1v1h-1zM4 150h1v1h-1zM4 195h1v1h-1zM4 211h1v1h-1zM4 215h1v1h-1zM6 54h1v1h-1zM6 168h1v1h-1zM7 2h1v1h-1zM7 20h1v1h-1zM7 48h1v1h-1zM7 57h1v1h-1zM7 59h1v1h-1zM7 63h1v1h-1zM7 68h1v1h-1zM7 83h1v1h-1zM7 87h1v1h-1zM7 107h1v1h-1zM7 113h1v1h-1zM7 150h1v1h-1zM7 153h1v1h-1zM7 168h1v1h-1zM7 212h1v1h-1zM8 2h1v1h-1zM8 8h1v1h-1zM8 25h1v1h-1zM8 36h1v1h-1zM8 78h1v1h-1zM8 115h1v1h-1zM8 149h1v1h-1zM8 193h1v1h-1zM8 199h1v1h-1zM9 29h1v1h-1zM9 95h1v1h-1zM9 114h1v1h-1zM9 122h1v1h-1zM9 195h1v1h-1zM9 202h1v1h-1zM9 207h1v1h-1zM9 210h1v1h-1zM9 214h1v1h-1zM10 5h1v1h-1zM10 11h1v1h-1zM10 19h1v1h-1zM10 82h1v1h-1zM10 88h1v1h-1zM10 106h1v1h-1zM10 108h1v1h-1zM10 128h1v1h-1zM10 138h1v1h-1zM10 149h1v1h-1zM10 158h1v2h-1zM10 163h1v1h-1zM10 173h1v1h-1zM10 187h1v1h-1zM10 196h1v1h-1zM10 204h1v1h-1zM11 0h1v1h-1zM11 24h1v1h-1zM11 34h1v1h-1zM11 82h1v1h-1zM11 90h1v1h-1zM11 108h1v2h-1zM11 111h1v1h-1zM11 117h1v1h-1zM11 119h1v2h-1zM11 125h1v1h-1zM11 138h1v1h-1zM11 162h1v1h-1zM11 170h1v1h-1zM11 181h1v1h-1zM11 207h1v1h-1zM11 217h1v1h-1zM12 4h1v1h-1zM12 6h1v1h-1zM12 24h1v1h-1zM12 39h1v1h-1zM12 82h1v1h-1zM12 92h1v1h-1zM12 94h1v1h-1zM12 99h1v1h-1zM12 103h1v1h-1zM12 165h1v1h-1zM12 187h1v1h-1zM12 200h1v1h-1zM12 207h1v1h-1z"/><path fill="#d8aec0" d="M1 16h1v2h-1zM1 20h1v1h-1zM1 67h1v1h-1zM1 71h1v1h-1zM1 87h1v1h-1zM1 155h1v1h-1zM1 175h1v1h-1zM1 192h1v1h-1zM1 217h1v1h-1zM2 80h1v1h-1zM2 84h1v1h-1zM2 192h1v1h-1zM2 212h1v1h-1zM3 113h1v1h-1zM4 63h1v1h-1zM4 135h1v1h-1zM4 168h1v1h-1zM7 42h1v1h-1zM8 49h1v1h-1zM8 58h1v1h-1zM8 68h1v1h-1zM8 74h1v1h-1zM8 77h1v1h-1zM8 79h1v1h-1zM8 129h1v1h-1zM8 131h1v1h-1zM8 134h1v2h-1zM8 155h1v1h-1zM8 167h1v2h-1zM8 176h1v1h-1zM8 185h1v1h-1zM8 206h1v1h-1zM9 61h1v1h-1zM9 93h1v1h-1zM9 109h1v1h-1zM9 150h1v1h-1zM9 176h1v1h-1zM9 198h1v1h-1zM10 70h1v2h-1zM10 93h1v1h-1zM10 102h1v1h-1zM10 111h1v1h-1zM11 36h1v1h-1zM11 86h1v1h-1zM11 101h1v1h-1zM11 129h1v1h-1zM11 137h1v1h-1zM11 145h1v1h-1zM11 155h1v1h-1zM11 174h1v1h-1zM11 180h1v1h-1zM11 214h1v1h-1zM12 11h1v1h-1zM12 32h1v1h-1zM12 95h1v1h-1zM12 102h1v1h-1zM12 120h1v1h-1zM12 137h1v1h-1zM12 185h1v1h-1zM12 212h1v1h-1z"/><path fill="#d2ccea" d="M1 24h1v1h-1zM1 143h1v1h-1zM2 4h1v1h-1zM2 30h1v1h-1zM2 36h1v1h-1zM2 70h1v1h-1zM2 137h1v1h-1zM2 174h1v1h-1zM2 201h1v1h-1zM2 203h1v1h-1zM2 208h1v1h-1zM3 65h1v1h-1zM4 106h1v1h-1zM4 121h1v1h-1zM4 155h1v1h-1zM4 210h1v1h-1zM6 117h1v1h-1zM7 49h1v1h-1zM7 119h1v1h-1zM7 127h1v1h-1zM8 126h1v1h-1zM9 3h1v1h-1zM9 138h1v1h-1zM9 190h1v1h-1zM11 38h1v1h-1zM11 126h1v1h-1z"/><path fill="#d8d8f0" d="M1 26h1v1h-1zM2 1h1v1h-1zM2 19h1v1h-1zM2 22h1v1h-1zM2 34h1v1h-1zM2 56h1v1h-1zM2 77h1v1h-1zM2 97h1v1h-1zM2 141h1v1h-1zM3 13h1v1h-1zM3 22h1v1h-1zM3 49h1v1h-1zM3 78h1v1h-1zM3 95h1v1h-1zM3 107h1v1h-1zM3 109h1v1h-1zM3 123h1v1h-1zM3 127h1v1h-1zM3 131h1v1h-1zM4 10h1v1h-1zM4 35h1v1h-1zM4 94h1v1h-1zM4 101h1v1h-1zM4 103h1v1h-1zM4 140h1v1h-1zM4 158h1v1h-1zM4 167h1v1h-1zM4 173h1v1h-1zM4 175h1v1h-1zM4 184h1v1h-1zM4 190h1v1h-1zM4 193h1v1h-1zM6 32h1v1h-1zM7 22h1v1h-1zM7 47h1v1h-1zM7 123h1v1h-1zM7 180h1v1h-1zM7 186h1v1h-1zM7 193h1v1h-1zM8 35h1v1h-1zM8 88h1v1h-1zM8 94h1v1h-1zM8 99h1v1h-1zM8 122h1v1h-1zM8 124h1v1h-1zM8 143h1v1h-1zM8 152h1v1h-1zM9 90h1v1h-1zM9 107h1v1h-1zM9 125h1v1h-1zM9 139h1v1h-1zM9 141h1v1h-1zM9 183h1v1h-1zM10 10h1v1h-1zM10 21h1v1h-1zM10 122h1v1h-1zM11 16h1v1h-1zM11 39h1v1h-1zM11 177h1v1h-1zM11 211h1v1h-1zM12 13h1v1h-1zM12 161h1v1h-1zM12 178h1v1h-1z"/><path fill="#dec0d2" d="M1 28h1v1h-1zM1 69h1v1h-1zM1 128h1v1h-1zM1 145h1v1h-1zM1 161h1v1h-1zM2 28h1v1h-1zM2 67h1v1h-1zM2 71h1v1h-1zM2 154h1v1h-1zM2 198h1v1h-1zM3 8h1v1h-1zM3 42h1v1h-1zM3 69h1v1h-1zM4 28h1v1h-1zM4 71h1v1h-1zM4 192h1v1h-1zM4 194h1v1h-1zM4 198h1v1h-1zM4 212h1v1h-1zM7 80h1v1h-1zM7 192h1v1h-1zM8 5h1v1h-1zM8 22h1v1h-1zM8 31h1v1h-1zM8 60h1v1h-1zM8 65h1v1h-1zM8 70h1v1h-1zM8 86h1v1h-1zM8 95h1v1h-1zM8 128h1v1h-1zM8 130h1v1h-1zM8 132h1v2h-1zM8 142h1v1h-1zM8 170h1v1h-1zM8 187h1v1h-1zM8 191h1v1h-1zM8 195h1v1h-1zM8 202h1v1h-1zM8 204h1v1h-1zM8 210h1v1h-1zM9 39h1v1h-1zM9 43h1v1h-1zM9 55h1v1h-1zM9 74h1v1h-1zM9 86h1v1h-1zM9 94h1v1h-1zM9 118h1v1h-1zM9 130h1v1h-1zM9 137h1v1h-1zM9 149h1v1h-1zM9 160h1v1h-1zM9 186h1v1h-1zM9 193h1v1h-1zM9 197h1v1h-1zM10 0h1v1h-1zM10 17h1v1h-1zM10 22h1v1h-1zM10 28h1v2h-1zM10 46h1v1h-1zM10 110h1v1h-1zM10 115h1v1h-1zM10 124h1v1h-1zM10 127h1v1h-1zM10 132h1v1h-1zM10 136h1v2h-1zM10 142h1v1h-1zM10 148h1v1h-1zM11 25h1v1h-1zM11 33h1v1h-1zM11 85h1v1h-1zM11 92h1v1h-1zM11 97h1v1h-1zM11 106h1v1h-1zM11 123h1v1h-1zM11 136h1v1h-1zM11 141h1v1h-1zM11 148h1v2h-1zM11 169h1v1h-1zM11 186h1v1h-1zM11 193h1v1h-1zM12 5h1v1h-1zM12 20h1v1h-1zM12 31h1v1h-1zM12 110h1v1h-1zM12 136h1v1h-1zM12 140h1v1h-1zM12 148h1v1h-1zM12 151h1v1h-1zM12 158h1v1h-1zM12 160h1v1h-1zM12 180h1v1h-1zM12 199h1v1h-1z"/><path fill="#d8bacc" d="M1 31h1v1h-1zM1 52h1v1h-1zM1 61h1v1h-1zM1 132h1v1h-1zM1 136h1v1h-1zM1 151h1v2h-1zM1 191h1v1h-1zM1 199h1v1h-1zM2 8h1v1h-1zM2 14h1v1h-1zM2 104h1v1h-1zM2 121h1v1h-1zM2 158h1v1h-1zM2 205h1v1h-1zM2 210h1v1h-1zM3 89h1v1h-1zM3 133h1v1h-1zM4 76h1v1h-1zM4 89h1v1h-1zM4 117h1v1h-1zM4 133h1v1h-1zM4 148h1v1h-1zM4 153h1v1h-1zM4 205h1v1h-1zM7 135h1v1h-1zM7 194h1v1h-1zM8 28h1v2h-1zM8 81h1v1h-1zM8 104h1v1h-1zM8 106h1v1h-1zM8 153h1v1h-1zM8 158h1v1h-1zM8 192h1v1h-1zM8 201h1v1h-1zM9 28h1v1h-1zM9 32h1v1h-1zM9 51h1v1h-1zM9 60h1v1h-1zM9 79h1v1h-1zM9 81h1v1h-1zM9 154h1v1h-1zM9 156h1v1h-1zM9 159h1v1h-1zM9 185h1v1h-1zM10 8h1v1h-1zM10 14h1v1h-1zM10 31h1v1h-1zM10 39h1v1h-1zM10 74h1v1h-1zM10 86h1v1h-1zM10 95h1v1h-1zM10 107h1v1h-1zM10 114h1v1h-1zM10 123h1v1h-1zM10 129h1v2h-1zM10 156h1v1h-1zM10 167h1v1h-1zM10 202h1v1h-1zM11 23h1v1h-1zM11 29h1v1h-1zM11 64h1v1h-1zM11 99h1v1h-1zM11 115h1v1h-1zM11 150h1v1h-1zM11 173h1v1h-1zM11 191h1v1h-1zM11 209h1v1h-1zM11 213h1v1h-1zM12 0h1v2h-1zM12 30h1v1h-1zM12 33h1v1h-1zM12 35h1v1h-1zM12 55h1v1h-1zM12 79h1v1h-1zM12 107h1v1h-1zM12 115h1v1h-1zM12 130h1v1h-1zM12 167h1v1h-1zM12 213h1v1h-1z"/><path fill="#dec6de" d="M1 35h1v1h-1zM1 83h1v1h-1zM1 85h1v1h-1zM1 174h1v1h-1zM1 203h1v1h-1zM2 89h1v1h-1zM3 130h1v1h-1zM4 47h1v1h-1zM4 83h1v1h-1zM6 72h1v1h-1zM7 93h1v1h-1zM7 206h1v1h-1zM8 37h1v1h-1zM8 39h1v1h-1zM8 112h1v1h-1zM8 182h1v2h-1zM9 106h1v1h-1zM9 142h1v1h-1zM9 174h1v1h-1zM10 12h1v1h-1zM10 36h1v1h-1zM10 75h1v1h-1zM10 175h1v1h-1zM10 185h1v1h-1zM11 103h1v1h-1zM11 105h1v1h-1zM11 124h1v1h-1zM12 127h1v1h-1zM12 149h1v1h-1z"/><path fill="#d8bac6" d="M1 48h1v1h-1zM1 53h1v1h-1zM2 54h1v1h-1zM3 102h1v1h-1zM10 209h1v1h-1zM11 75h1v1h-1z"/><path fill="#d8d8ea" d="M1 51h1v1h-1zM2 50h1v1h-1zM2 68h1v1h-1zM2 99h1v1h-1zM2 179h1v1h-1zM2 189h1v1h-1zM2 217h1v1h-1zM3 2h1v1h-1zM3 18h1v1h-1zM4 0h1v1h-1zM4 12h1v1h-1zM4 73h1v1h-1zM4 152h1v1h-1zM6 42h1v1h-1zM6 93h1v1h-1zM6 194h1v1h-1zM7 69h1v1h-1zM7 96h1v1h-1zM7 118h1v1h-1zM7 136h1v1h-1zM7 209h1v1h-1zM8 24h1v1h-1zM8 116h1v1h-1zM8 208h1v1h-1zM9 65h1v1h-1zM9 91h1v1h-1zM9 128h1v1h-1zM9 200h1v1h-1zM10 90h1v1h-1zM10 105h1v1h-1zM12 124h1v1h-1zM12 138h1v1h-1zM12 190h1v1h-1z"/><path fill="#d8909c" d="M1 62h1v1h-1zM1 179h1v1h-1zM3 216h1v1h-1zM4 3h1v1h-1zM8 13h1v1h-1zM8 89h1v1h-1zM8 113h1v1h-1zM9 18h1v1h-1zM9 42h1v1h-1zM9 47h1v1h-1zM9 135h1v1h-1zM9 192h1v1h-1zM10 133h1v1h-1zM10 168h1v1h-1zM11 93h1v1h-1zM12 14h1v1h-1zM12 198h1v1h-1z"/><path fill="#d8a2ae" d="M1 63h1v1h-1zM1 131h1v1h-1zM1 140h1v1h-1zM1 142h1v1h-1zM1 197h1v1h-1zM1 215h1v1h-1zM2 120h1v1h-1zM3 72h1v1h-1zM3 80h1v1h-1zM3 83h1v1h-1zM8 50h1v1h-1zM8 85h1v1h-1zM9 73h1v1h-1zM9 133h1v1h-1zM9 146h1v1h-1zM10 51h1v1h-1zM11 79h1v1h-1zM11 81h1v1h-1zM11 215h1v1h-1zM12 81h1v1h-1z"/><path fill="#decce4" d="M1 64h1v1h-1zM1 137h1v1h-1zM1 157h1v1h-1zM1 211h1v1h-1zM2 5h1v1h-1zM2 59h1v1h-1zM2 61h1v1h-1zM2 138h1v1h-1zM2 173h1v1h-1zM2 214h1v1h-1zM3 20h1v1h-1zM3 82h1v1h-1zM4 8h1v1h-1zM4 14h1v1h-1zM4 22h1v1h-1zM4 42h1v1h-1zM4 84h1v1h-1zM4 142h1v1h-1zM6 135h1v1h-1zM7 67h1v1h-1zM7 110h1v1h-1zM7 167h1v1h-1zM8 109h1v1h-1zM8 127h1v1h-1zM8 145h1v1h-1zM8 154h1v1h-1zM8 159h1v1h-1zM8 207h1v1h-1zM9 44h1v1h-1zM9 101h1v1h-1zM9 163h1v1h-1zM9 178h1v1h-1zM9 187h1v1h-1zM9 199h1v1h-1zM10 4h1v1h-1zM10 150h1v1h-1zM10 165h1v1h-1zM10 188h1v1h-1zM10 190h1v1h-1zM11 27h1v1h-1zM11 37h1v1h-1zM11 60h1v1h-1zM11 88h1v1h-1zM11 96h1v1h-1zM11 107h1v1h-1zM11 121h1v1h-1zM12 173h1v1h-1zM12 175h1v1h-1z"/><path fill="#d8aeba" d="M1 68h1v1h-1zM1 149h1v1h-1zM1 170h1v1h-1zM1 206h1v1h-1zM3 208h1v1h-1zM9 170h1v1h-1zM10 49h1v1h-1zM10 55h1v1h-1zM10 117h1v1h-1zM10 176h1v1h-1zM11 133h1v1h-1zM11 168h1v1h-1zM11 194h1v1h-1zM11 205h1v1h-1zM12 19h1v1h-1zM12 59h1v1h-1zM12 85h1v1h-1z"/><path fill="#d88490" d="M1 72h1v1h-1zM1 165h1v1h-1zM2 117h1v1h-1zM3 166h1v1h-1zM4 2h1v1h-1zM9 10h1v1h-1zM9 59h1v1h-1zM9 71h1v1h-1zM10 48h1v1h-1zM10 76h1v2h-1zM10 84h1v1h-1zM11 59h1v1h-1zM11 134h1v1h-1zM12 54h1v1h-1zM12 83h1v1h-1zM12 117h1v1h-1z"/><path fill="#d87e8a" d="M1 76h1v1h-1zM1 133h1v1h-1zM1 198h1v1h-1zM8 17h1v1h-1zM8 48h1v1h-1zM8 59h1v1h-1zM9 62h1v1h-1zM9 67h1v1h-1zM9 77h1v1h-1zM9 89h1v1h-1zM10 63h1v1h-1zM11 45h1v2h-1zM11 80h1v1h-1zM11 83h1v1h-1zM12 76h1v1h-1zM12 205h1v1h-1z"/><path fill="#d8a8b4" d="M1 77h1v1h-1zM1 129h1v1h-1zM1 153h1v1h-1zM1 159h1v1h-1zM2 76h1v1h-1zM2 127h1v1h-1zM4 37h1v1h-1zM4 93h1v1h-1zM4 113h1v1h-1zM7 72h1v1h-1zM8 18h1v1h-1zM8 73h1v1h-1zM8 150h1v1h-1zM9 58h1v1h-1zM9 69h1v1h-1zM9 83h1v1h-1zM9 85h1v1h-1zM9 113h1v1h-1zM10 47h1v1h-1zM10 56h1v1h-1zM10 66h1v1h-1zM10 81h1v1h-1zM10 195h1v1h-1zM10 212h1v1h-1zM10 215h1v1h-1zM11 102h1v1h-1zM11 185h1v1h-1zM11 210h1v1h-1zM12 75h1v1h-1zM12 146h1v1h-1z"/><path fill="#d8c0d2" d="M1 79h1v1h-1zM1 200h1v1h-1zM1 207h1v1h-1zM3 63h1v1h-1zM4 40h1v1h-1zM8 101h1v1h-1zM8 160h1v1h-1zM9 49h1v1h-1zM9 70h1v1h-1zM9 189h1v1h-1zM9 206h1v1h-1zM10 64h1v1h-1zM10 193h1v1h-1zM11 113h1v1h-1zM11 175h1v1h-1zM12 27h1v1h-1zM12 182h1v1h-1z"/><path fill="#d89cae" d="M1 84h1v1h-1zM1 186h1v1h-1zM2 72h1v1h-1zM2 93h1v1h-1zM2 108h1v1h-1zM2 123h1v1h-1zM3 139h1v1h-1zM3 172h1v1h-1zM8 52h1v1h-1zM8 69h1v1h-1zM8 80h1v1h-1zM8 93h1v1h-1zM8 146h1v1h-1zM9 52h1v1h-1zM9 117h1v1h-1zM9 145h1v1h-1zM10 73h1v1h-1zM10 89h1v1h-1zM11 43h1v1h-1zM11 47h1v1h-1zM11 68h1v1h-1zM11 71h1v1h-1zM11 146h1v1h-1zM11 182h1v1h-1zM12 43h1v1h-1zM12 49h1v1h-1zM12 66h1v1h-1zM12 74h1v1h-1zM12 168h1v1h-1z"/><path fill="#d85a60" d="M1 99h1v1h-1zM1 178h1v1h-1zM3 173h1v1h-1zM3 180h1v1h-1zM3 210h1v1h-1zM8 10h1v1h-1zM9 54h1v1h-1zM11 57h1v1h-1z"/><path fill="#d84e54" d="M1 100h1v1h-1zM1 116h1v1h-1zM3 153h1v1h-1zM3 204h1v1h-1zM10 53h1v1h-1zM11 76h1v1h-1z"/><path fill="#d84248" d="M1 118h1v1h-1zM1 121h1v1h-1zM3 170h1v1h-1zM3 183h1v1h-1zM3 190h1v1h-1zM3 213h1v1h-1z"/><path fill="#d84854" d="M1 119h1v1h-1z"/><path fill="#d84242" d="M1 120h1v1h-1z"/><path fill="#d83c3c" d="M1 126h1v1h-1zM3 189h1v1h-1z"/><path fill="#d87884" d="M1 135h1v1h-1zM1 167h1v1h-1zM3 76h1v1h-1zM4 4h1v1h-1zM8 54h1v1h-1zM8 71h1v2h-1zM9 13h1v1h-1zM9 63h1v1h-1zM9 84h1v1h-1zM10 42h1v1h-1zM10 69h1v1h-1zM10 80h1v1h-1zM11 67h1v1h-1zM11 84h1v1h-1zM12 48h1v1h-1zM12 58h1v1h-1zM12 67h1v1h-1z"/><path fill="#d88496" d="M1 146h1v1h-1z"/><path fill="#d896a2" d="M1 150h1v1h-1zM1 212h1v1h-1zM2 115h1v1h-1zM2 124h1v1h-1zM8 46h1v1h-1zM8 57h1v1h-1zM8 67h1v1h-1zM8 148h1v1h-1zM8 215h1v1h-1zM9 57h1v1h-1zM9 194h1v1h-1zM11 51h1v1h-1zM11 197h1v1h-1zM12 47h1v1h-1zM12 52h1v1h-1zM12 192h1v1h-1z"/><path fill="#dec0d8" d="M1 173h1v1h-1zM1 210h1v1h-1zM4 54h1v1h-1zM4 214h1v1h-1zM9 115h1v1h-1zM9 127h1v1h-1zM10 33h1v1h-1zM10 131h1v1h-1zM10 141h1v1h-1zM10 152h1v1h-1zM12 196h1v1h-1z"/><path fill="#d8363c" d="M1 180h1v1h-1zM3 136h1v1h-1zM3 151h1v1h-1zM3 184h1v1h-1zM7 36h1v1h-1zM11 72h1v1h-1z"/><path fill="#d8a2b4" d="M1 189h1v1h-1zM2 109h1v1h-1zM2 111h1v1h-1zM3 77h1v1h-1zM8 83h1v1h-1zM8 117h1v1h-1zM8 140h1v1h-1zM8 194h1v1h-1zM8 209h1v1h-1zM9 64h1v1h-1zM9 153h1v1h-1zM10 58h1v1h-1zM10 68h1v1h-1zM10 113h1v1h-1zM10 155h1v1h-1zM10 192h1v1h-1zM10 198h1v1h-1zM10 214h1v1h-1zM11 65h1v1h-1zM12 28h1v1h-1zM12 70h1v1h-1zM12 86h1v1h-1zM12 93h1v1h-1zM12 113h1v1h-1zM12 128h1v1h-1zM12 150h1v1h-1zM12 184h1v1h-1z"/><path fill="#d8666c" d="M1 205h1v1h-1zM8 63h1v1h-1zM11 69h1v1h-1zM12 42h1v1h-1zM12 61h1v2h-1zM12 87h1v1h-1z"/><path fill="#d8bad2" d="M2 47h1v1h-1zM3 59h1v1h-1zM8 186h1v1h-1zM12 135h1v1h-1zM12 197h1v1h-1z"/><path fill="#d8727e" d="M2 113h1v1h-1zM8 42h1v1h-1zM8 61h1v1h-1zM10 59h1v1h-1zM10 67h1v1h-1zM10 72h1v1h-1zM11 135h1v1h-1zM12 57h1v1h-1z"/><path fill="#d8606c" d="M2 132h1v1h-1zM3 152h1v1h-1zM3 157h1v1h-1zM3 179h1v1h-1zM12 45h1v1h-1z"/><path fill="#d8b4c0" d="M2 135h1v1h-1zM3 196h1v1h-1zM8 45h1v1h-1zM9 22h1v1h-1zM9 48h1v1h-1zM12 56h1v1h-1zM12 191h1v1h-1zM12 204h1v1h-1z"/><path fill="#c0c6e4" d="M3 29h1v1h-1zM3 38h1v1h-1zM3 41h1v1h-1zM3 122h1v1h-1zM9 181h1v1h-1zM12 78h1v1h-1z"/><path fill="#d896a8" d="M3 62h1v1h-1zM3 181h1v1h-1zM7 117h1v1h-1zM8 212h1v1h-1zM9 50h1v1h-1zM9 168h1v1h-1zM9 205h1v1h-1zM9 212h1v1h-1zM10 87h1v1h-1zM10 146h1v1h-1zM11 31h1v1h-1zM11 48h1v1h-1zM11 74h1v1h-1zM12 77h1v1h-1zM12 170h1v1h-1z"/><path fill="#d85a66" d="M3 141h1v1h-1zM3 203h1v1h-1zM8 9h1v1h-1zM9 9h1v1h-1z"/><path fill="#d85460" d="M3 143h1v2h-1zM4 5h1v1h-1zM8 76h1v1h-1zM12 71h1v1h-1z"/><path fill="#d86c78" d="M3 147h1v1h-1zM11 54h1v1h-1z"/><path fill="#d86066" d="M3 161h1v1h-1zM3 201h1v1h-1zM8 84h1v1h-1zM10 62h1v1h-1zM11 53h1v1h-1zM11 62h1v1h-1zM11 73h1v1h-1zM11 89h1v1h-1zM12 84h1v1h-1zM12 89h1v1h-1z"/><path fill="#d8545a" d="M3 185h1v1h-1zM3 199h1v1h-1zM8 53h1v1h-1zM8 62h1v1h-1zM9 76h1v1h-1zM11 42h1v1h-1zM11 87h1v1h-1z"/><path fill="#d84848" d="M3 195h1v1h-1z"/><path fill="#d88a9c" d="M3 200h1v1h-1zM9 68h1v1h-1zM10 52h1v1h-1zM10 205h1v1h-1zM11 28h1v1h-1z"/><path fill="#d84e5a" d="M4 6h1v1h-1z"/><path fill="#aeb4e4" d="M4 15h1v1h-1zM5 212h1v1h-1zM6 114h1v1h-1zM6 161h1v1h-1zM7 75h1v1h-1zM7 91h1v1h-1zM10 216h1v1h-1z"/><path fill="#8a90d2" d="M5 110h1v1h-1zM10 164h1v1h-1z"/><path fill="#a8a8de" d="M5 133h1v1h-1zM5 215h1v1h-1zM6 21h1v1h-1zM6 66h1v1h-1zM6 178h1v1h-1zM6 190h1v1h-1zM6 207h1v1h-1zM7 112h1v1h-1zM11 7h1v1h-1zM12 164h1v1h-1z"/><path fill="#a2a2de" d="M6 120h1v2h-1zM6 199h1v1h-1zM6 210h1v1h-1zM7 65h1v1h-1z"/><path fill="#d87278" d="M8 87h1v1h-1z"/><path fill="#d87e84" d="M11 63h1v1h-1zM11 77h1v1h-1z"/></g>
<text transform="translate(414.1 291.2) rotate(-90)" class="xl" text-anchor="end">Muscle</text>
<text transform="translate(420.3 291.2) rotate(-90)" class="xl" text-anchor="end">Skin</text>
<text transform="translate(426.5 291.2) rotate(-90)" class="xl" text-anchor="end">Brain</text>
<text transform="translate(432.7 291.2) rotate(-90)" class="xl" text-anchor="end">Eye</text>
<text transform="translate(438.8 291.2) rotate(-90)" class="xl" text-anchor="end">Ovary</text>
<text transform="translate(445.0 291.2) rotate(-90)" class="xl" text-anchor="end">Testis</text>
<text transform="translate(451.2 291.2) rotate(-90)" class="xl" text-anchor="end">Heart</text>
<text transform="translate(457.4 291.2) rotate(-90)" class="xl" text-anchor="end">Liver</text>
<text transform="translate(463.6 291.2) rotate(-90)" class="xl" text-anchor="end">PC</text>
<text transform="translate(469.8 291.2) rotate(-90)" class="xl" text-anchor="end">Gut</text>
<text transform="translate(476.0 291.2) rotate(-90)" class="xl" text-anchor="end">Gill</text>
<text transform="translate(482.1 291.2) rotate(-90)" class="xl" text-anchor="end">Nose</text>
<text transform="translate(488.3 291.2) rotate(-90)" class="xl" text-anchor="end">Kidney</text>
<text transform="translate(494.5 291.2) rotate(-90)" class="xl" text-anchor="end">Head kidney</text>
<text transform="translate(500.7 291.2) rotate(-90)" class="xl" text-anchor="end">Spleen</text>
<text transform="translate(508.9 291.2) rotate(-90)" class="xl" text-anchor="end">Muscle</text>
<text transform="translate(515.0 291.2) rotate(-90)" class="xl" text-anchor="end">Skin</text>
<text transform="translate(521.1 291.2) rotate(-90)" class="xl" text-anchor="end">Brain</text>
<text transform="translate(527.3 291.2) rotate(-90)" class="xl" text-anchor="end">Eye</text>
<text transform="translate(533.4 291.2) rotate(-90)" class="xl" text-anchor="end">Ovary</text>
<text transform="translate(539.6 291.2) rotate(-90)" class="xl" text-anchor="end">Testis</text>
<text transform="translate(545.7 291.2) rotate(-90)" class="xl" text-anchor="end">Heart</text>
<text transform="translate(551.9 291.2) rotate(-90)" class="xl" text-anchor="end">Liver</text>
<text transform="translate(558.0 291.2) rotate(-90)" class="xl" text-anchor="end">PC</text>
<text transform="translate(564.1 291.2) rotate(-90)" class="xl" text-anchor="end">Gut</text>
<text transform="translate(570.3 291.2) rotate(-90)" class="xl" text-anchor="end">Gill</text>
<text transform="translate(576.4 291.2) rotate(-90)" class="xl" text-anchor="end">Nose</text>
<text transform="translate(582.5 291.2) rotate(-90)" class="xl" text-anchor="end">Kidney</text>
<text transform="translate(588.7 291.2) rotate(-90)" class="xl" text-anchor="end">Head kidney</text>
<text transform="translate(594.8 291.2) rotate(-90)" class="xl" text-anchor="end">Spleen</text>
<text transform="translate(603.2 291.2) rotate(-90)" class="xl" text-anchor="end">Muscle</text>
<text transform="translate(609.3 291.2) rotate(-90)" class="xl" text-anchor="end">Brain</text>
<text transform="translate(615.4 291.2) rotate(-90)" class="xl" text-anchor="end">Eye</text>
<text transform="translate(621.6 291.2) rotate(-90)" class="xl" text-anchor="end">Testis</text>
<text transform="translate(627.7 291.2) rotate(-90)" class="xl" text-anchor="end">Heart</text>
<text transform="translate(633.9 291.2) rotate(-90)" class="xl" text-anchor="end">Liver</text>
<text transform="translate(640.0 291.2) rotate(-90)" class="xl" text-anchor="end">PC</text>
<text transform="translate(646.1 291.2) rotate(-90)" class="xl" text-anchor="end">Gut</text>
<text transform="translate(652.3 291.2) rotate(-90)" class="xl" text-anchor="end">Gill</text>
<text transform="translate(658.4 291.2) rotate(-90)" class="xl" text-anchor="end">Nose</text>
<text transform="translate(664.6 291.2) rotate(-90)" class="xl" text-anchor="end">Kidney</text>
<text transform="translate(670.7 291.2) rotate(-90)" class="xl" text-anchor="end">Head kidney</text>
<text transform="translate(676.8 291.2) rotate(-90)" class="xl" text-anchor="end">Spleen</text>
<text x="7.8" y="6.0" class="pl">a</text>
<text x="363.4" y="7.4" class="pl">b</text>
</svg>
</body></html>
